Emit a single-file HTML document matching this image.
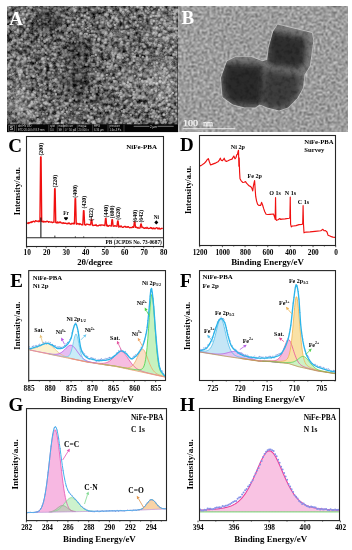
<!DOCTYPE html><html><head><meta charset="utf-8"><style>html,body{margin:0;padding:0;background:#fff;width:352px;height:550px;overflow:hidden}</style></head><body><svg width="352" height="550" viewBox="0 0 352 550" style="display:block">
<defs>
<filter id="semf" filterUnits="userSpaceOnUse" x="7" y="6" width="171" height="126" color-interpolation-filters="sRGB">
 <feTurbulence type="fractalNoise" baseFrequency="0.26" numOctaves="3" seed="11" result="n"/>
 <feColorMatrix in="n" type="matrix" values="0.95 0 0 0 -0.13  0.95 0 0 0 -0.13  0.95 0 0 0 -0.13  0 0 0 0 1"/>
 <feGaussianBlur stdDeviation="0.4"/>
</filter>
<radialGradient id="pg" cx="0.45" cy="0.4" r="0.6"><stop offset="0" stop-color="#e8e8e8"/><stop offset="0.6" stop-color="#a8a8a8" stop-opacity="0.8"/><stop offset="1" stop-color="#666" stop-opacity="0"/></radialGradient>
<filter id="temf" filterUnits="userSpaceOnUse" x="178" y="6" width="170" height="126" color-interpolation-filters="sRGB">
 <feTurbulence type="fractalNoise" baseFrequency="0.5" numOctaves="2" seed="5" result="n"/>
 <feConvolveMatrix order="3" kernelMatrix="1 2 1 2 4 2 1 2 1" divisor="16" edgeMode="duplicate"/>
 <feColorMatrix type="matrix" values="1.0 0 0 0 0.11  1.0 0 0 0 0.11  1.0 0 0 0 0.11  0 0 0 0 1"/>
</filter>
<filter id="temt" filterUnits="userSpaceOnUse" x="178" y="6" width="170" height="126" color-interpolation-filters="sRGB">
 <feTurbulence type="fractalNoise" baseFrequency="0.22" numOctaves="2" seed="9" result="n"/>
 <feColorMatrix in="n" type="matrix" values="0 0 0 0 0  0 0 0 0 0  0 0 0 0 0  -2.0 0 0 0 1.1"/>
 <feGaussianBlur stdDeviation="0.5"/>
</filter>
<filter id="blur08" x="-20%" y="-20%" width="140%" height="140%"><feGaussianBlur stdDeviation="0.7"/></filter>
<filter id="blur25" x="-30%" y="-30%" width="160%" height="160%"><feGaussianBlur stdDeviation="2.5"/></filter>
<filter id="blur3" x="-30%" y="-30%" width="160%" height="160%"><feGaussianBlur stdDeviation="3.2"/></filter>
<filter id="blur6" x="-60%" y="-60%" width="220%" height="220%"><feGaussianBlur stdDeviation="6"/></filter>
<filter id="semblur" filterUnits="userSpaceOnUse" x="0" y="0" width="185" height="135"><feGaussianBlur stdDeviation="0.55"/></filter>
<clipPath id="clipA"><rect x="7" y="6" width="171" height="126"/></clipPath>
<clipPath id="clipB"><rect x="178" y="6" width="170" height="126"/></clipPath>
</defs>
<rect width="352" height="550" fill="#fff"/>
<g font-family='"Liberation Serif", serif'>
<g clip-path="url(#clipA)"><g filter="url(#semblur)">
<rect x="7" y="6" width="171" height="126" fill="#888" filter="url(#semf)"/>
<g fill="url(#pg)"><circle cx="130" cy="124" r="1.2" opacity="0.59"/><circle cx="23" cy="12" r="1.8" opacity="0.47"/><circle cx="85" cy="92" r="1.2" opacity="0.47"/><circle cx="76" cy="75" r="1.2" opacity="0.59"/><circle cx="28" cy="4" r="1.8" opacity="0.35"/><circle cx="91" cy="126" r="1.2" opacity="0.35"/><circle cx="147" cy="134" r="1.5" opacity="0.57"/><circle cx="72" cy="42" r="1.2" opacity="0.35"/><circle cx="57" cy="48" r="2.2" opacity="0.33"/><circle cx="44" cy="132" r="1.2" opacity="0.47"/><circle cx="52" cy="16" r="1.5" opacity="0.75"/><circle cx="155" cy="36" r="1.5" opacity="0.35"/><circle cx="6" cy="104" r="1.2" opacity="0.35"/><circle cx="49" cy="64" r="1.2" opacity="0.35"/><circle cx="175" cy="29" r="1.2" opacity="0.75"/><circle cx="96" cy="128" r="2.2" opacity="0.35"/><circle cx="14" cy="55" r="2.2" opacity="0.32"/><circle cx="43" cy="59" r="2.2" opacity="0.75"/><circle cx="8" cy="110" r="1.8" opacity="0.39"/><circle cx="58" cy="29" r="1.2" opacity="0.59"/><circle cx="43" cy="59" r="2.2" opacity="0.59"/><circle cx="55" cy="91" r="1.5" opacity="0.75"/><circle cx="18" cy="93" r="2.2" opacity="0.47"/><circle cx="39" cy="6" r="1.8" opacity="0.75"/><circle cx="169" cy="8" r="2.2" opacity="0.27"/><circle cx="52" cy="102" r="1.5" opacity="0.47"/><circle cx="56" cy="121" r="1.2" opacity="0.59"/><circle cx="24" cy="88" r="1.8" opacity="0.75"/><circle cx="101" cy="62" r="1.5" opacity="0.59"/><circle cx="8" cy="6" r="1.5" opacity="0.75"/><circle cx="121" cy="11" r="1.5" opacity="0.74"/><circle cx="46" cy="97" r="1.8" opacity="0.35"/><circle cx="160" cy="105" r="2.2" opacity="0.75"/><circle cx="23" cy="20" r="1.8" opacity="0.75"/><circle cx="178" cy="43" r="1.2" opacity="0.59"/><circle cx="15" cy="32" r="1.2" opacity="0.59"/><circle cx="148" cy="53" r="2.2" opacity="0.59"/><circle cx="16" cy="4" r="2.2" opacity="0.34"/><circle cx="15" cy="15" r="1.5" opacity="0.59"/><circle cx="174" cy="38" r="1.5" opacity="0.35"/><circle cx="51" cy="112" r="2.2" opacity="0.47"/><circle cx="115" cy="36" r="2.2" opacity="0.43"/><circle cx="109" cy="78" r="1.8" opacity="0.35"/><circle cx="7" cy="10" r="2.2" opacity="0.35"/><circle cx="10" cy="57" r="2.2" opacity="0.41"/><circle cx="99" cy="94" r="1.2" opacity="0.35"/><circle cx="17" cy="64" r="1.2" opacity="0.48"/><circle cx="26" cy="102" r="1.8" opacity="0.59"/><circle cx="5" cy="103" r="2.2" opacity="0.75"/><circle cx="72" cy="89" r="1.8" opacity="0.47"/><circle cx="117" cy="61" r="2.2" opacity="0.47"/><circle cx="39" cy="123" r="2.2" opacity="0.59"/><circle cx="165" cy="23" r="2.2" opacity="0.47"/><circle cx="102" cy="90" r="1.8" opacity="0.59"/><circle cx="56" cy="18" r="1.8" opacity="0.59"/><circle cx="90" cy="96" r="1.2" opacity="0.35"/><circle cx="64" cy="17" r="1.5" opacity="0.35"/><circle cx="141" cy="75" r="1.8" opacity="0.59"/><circle cx="22" cy="116" r="1.8" opacity="0.35"/><circle cx="56" cy="48" r="2.2" opacity="0.34"/><circle cx="17" cy="13" r="1.2" opacity="0.75"/><circle cx="23" cy="58" r="1.2" opacity="0.58"/><circle cx="119" cy="93" r="1.8" opacity="0.35"/><circle cx="87" cy="17" r="1.2" opacity="0.34"/><circle cx="20" cy="132" r="2.2" opacity="0.26"/><circle cx="53" cy="76" r="2.2" opacity="0.35"/><circle cx="72" cy="86" r="1.8" opacity="0.35"/><circle cx="29" cy="11" r="2.2" opacity="0.59"/><circle cx="83" cy="123" r="1.8" opacity="0.59"/><circle cx="34" cy="86" r="2.2" opacity="0.35"/><circle cx="133" cy="17" r="1.5" opacity="0.47"/><circle cx="34" cy="16" r="2.2" opacity="0.47"/><circle cx="145" cy="67" r="1.8" opacity="0.59"/><circle cx="127" cy="75" r="1.5" opacity="0.35"/><circle cx="64" cy="81" r="2.2" opacity="0.59"/><circle cx="111" cy="12" r="2.2" opacity="0.59"/><circle cx="78" cy="131" r="1.5" opacity="0.35"/><circle cx="5" cy="127" r="2.2" opacity="0.59"/><circle cx="79" cy="113" r="1.8" opacity="0.59"/><circle cx="130" cy="84" r="1.5" opacity="0.75"/><circle cx="119" cy="74" r="2.2" opacity="0.59"/><circle cx="13" cy="74" r="1.2" opacity="0.46"/><circle cx="35" cy="26" r="2.2" opacity="0.31"/><circle cx="72" cy="88" r="1.8" opacity="0.35"/><circle cx="41" cy="35" r="1.8" opacity="0.75"/><circle cx="107" cy="33" r="2.2" opacity="0.35"/><circle cx="161" cy="73" r="2.2" opacity="0.35"/><circle cx="86" cy="29" r="1.5" opacity="0.75"/><circle cx="161" cy="121" r="1.8" opacity="0.35"/><circle cx="9" cy="107" r="2.2" opacity="0.46"/><circle cx="40" cy="13" r="1.2" opacity="0.59"/><circle cx="160" cy="26" r="1.2" opacity="0.75"/><circle cx="15" cy="28" r="2.2" opacity="0.47"/><circle cx="140" cy="19" r="1.5" opacity="0.47"/><circle cx="28" cy="121" r="1.2" opacity="0.59"/><circle cx="85" cy="104" r="1.8" opacity="0.35"/><circle cx="157" cy="123" r="2.2" opacity="0.75"/><circle cx="133" cy="30" r="1.2" opacity="0.46"/><circle cx="149" cy="130" r="1.2" opacity="0.75"/><circle cx="68" cy="23" r="1.2" opacity="0.47"/><circle cx="128" cy="127" r="2.2" opacity="0.59"/><circle cx="132" cy="119" r="1.8" opacity="0.34"/><circle cx="178" cy="98" r="2.2" opacity="0.59"/><circle cx="146" cy="63" r="2.2" opacity="0.47"/><circle cx="74" cy="77" r="1.2" opacity="0.47"/><circle cx="89" cy="18" r="2.2" opacity="0.44"/><circle cx="20" cy="89" r="1.2" opacity="0.59"/><circle cx="76" cy="46" r="1.2" opacity="0.59"/><circle cx="115" cy="105" r="1.2" opacity="0.35"/><circle cx="12" cy="71" r="2.2" opacity="0.59"/><circle cx="31" cy="40" r="1.2" opacity="0.43"/><circle cx="159" cy="112" r="1.2" opacity="0.65"/><circle cx="56" cy="16" r="2.2" opacity="0.35"/><circle cx="178" cy="117" r="1.2" opacity="0.75"/><circle cx="62" cy="112" r="1.2" opacity="0.75"/><circle cx="128" cy="125" r="1.8" opacity="0.59"/><circle cx="51" cy="111" r="1.8" opacity="0.35"/><circle cx="153" cy="78" r="1.5" opacity="0.75"/><circle cx="168" cy="20" r="1.8" opacity="0.35"/><circle cx="59" cy="51" r="1.2" opacity="0.47"/><circle cx="7" cy="23" r="1.2" opacity="0.35"/><circle cx="17" cy="15" r="1.8" opacity="0.75"/><circle cx="120" cy="8" r="1.5" opacity="0.57"/><circle cx="97" cy="134" r="2.2" opacity="0.59"/><circle cx="113" cy="114" r="2.2" opacity="0.59"/><circle cx="154" cy="16" r="1.8" opacity="0.59"/><circle cx="166" cy="48" r="1.2" opacity="0.75"/><circle cx="75" cy="62" r="1.5" opacity="0.75"/><circle cx="68" cy="28" r="1.2" opacity="0.75"/><circle cx="60" cy="29" r="2.2" opacity="0.35"/><circle cx="55" cy="9" r="2.2" opacity="0.47"/><circle cx="126" cy="118" r="1.2" opacity="0.35"/><circle cx="141" cy="44" r="1.8" opacity="0.45"/><circle cx="153" cy="6" r="1.2" opacity="0.59"/><circle cx="88" cy="31" r="1.8" opacity="0.59"/><circle cx="44" cy="63" r="1.2" opacity="0.47"/><circle cx="24" cy="94" r="1.2" opacity="0.35"/><circle cx="140" cy="120" r="1.8" opacity="0.59"/><circle cx="50" cy="26" r="1.2" opacity="0.75"/><circle cx="36" cy="98" r="1.2" opacity="0.59"/><circle cx="87" cy="34" r="1.5" opacity="0.75"/><circle cx="121" cy="17" r="1.8" opacity="0.32"/><circle cx="85" cy="20" r="1.5" opacity="0.52"/><circle cx="69" cy="128" r="1.2" opacity="0.54"/><circle cx="96" cy="50" r="1.5" opacity="0.59"/><circle cx="84" cy="93" r="1.5" opacity="0.47"/><circle cx="164" cy="77" r="1.5" opacity="0.47"/><circle cx="72" cy="88" r="1.5" opacity="0.47"/><circle cx="138" cy="26" r="2.2" opacity="0.47"/><circle cx="158" cy="86" r="1.2" opacity="0.47"/><circle cx="108" cy="108" r="1.8" opacity="0.75"/><circle cx="170" cy="133" r="1.2" opacity="0.47"/><circle cx="111" cy="89" r="1.8" opacity="0.75"/><circle cx="154" cy="83" r="1.5" opacity="0.75"/><circle cx="101" cy="86" r="1.2" opacity="0.75"/><circle cx="37" cy="75" r="1.5" opacity="0.48"/><circle cx="75" cy="122" r="1.8" opacity="0.59"/><circle cx="127" cy="85" r="1.5" opacity="0.59"/><circle cx="146" cy="53" r="1.2" opacity="0.75"/><circle cx="74" cy="131" r="2.2" opacity="0.35"/><circle cx="140" cy="128" r="1.2" opacity="0.47"/><circle cx="93" cy="90" r="1.5" opacity="0.57"/><circle cx="80" cy="109" r="1.5" opacity="0.70"/><circle cx="129" cy="96" r="1.5" opacity="0.35"/><circle cx="55" cy="131" r="2.2" opacity="0.47"/><circle cx="139" cy="65" r="2.2" opacity="0.47"/><circle cx="119" cy="74" r="1.5" opacity="0.35"/><circle cx="90" cy="84" r="1.2" opacity="0.35"/><circle cx="150" cy="12" r="1.5" opacity="0.35"/><circle cx="137" cy="47" r="1.8" opacity="0.42"/><circle cx="175" cy="68" r="1.8" opacity="0.35"/><circle cx="140" cy="80" r="1.2" opacity="0.47"/><circle cx="38" cy="125" r="1.8" opacity="0.47"/><circle cx="147" cy="35" r="2.2" opacity="0.64"/><circle cx="46" cy="58" r="2.2" opacity="0.35"/><circle cx="60" cy="107" r="1.8" opacity="0.47"/><circle cx="170" cy="50" r="1.8" opacity="0.35"/><circle cx="115" cy="66" r="1.8" opacity="0.35"/><circle cx="30" cy="106" r="2.2" opacity="0.59"/><circle cx="139" cy="75" r="1.8" opacity="0.59"/><circle cx="79" cy="4" r="2.2" opacity="0.35"/><circle cx="147" cy="5" r="2.2" opacity="0.47"/><circle cx="164" cy="122" r="1.8" opacity="0.59"/><circle cx="19" cy="59" r="2.2" opacity="0.65"/><circle cx="59" cy="127" r="1.8" opacity="0.35"/><circle cx="48" cy="59" r="1.5" opacity="0.75"/><circle cx="97" cy="92" r="1.8" opacity="0.47"/><circle cx="31" cy="8" r="2.2" opacity="0.75"/><circle cx="7" cy="92" r="1.5" opacity="0.59"/><circle cx="164" cy="38" r="2.2" opacity="0.75"/><circle cx="49" cy="39" r="1.8" opacity="0.75"/><circle cx="121" cy="11" r="1.5" opacity="0.45"/><circle cx="66" cy="93" r="2.2" opacity="0.47"/><circle cx="44" cy="127" r="2.2" opacity="0.47"/><circle cx="83" cy="25" r="1.2" opacity="0.75"/><circle cx="57" cy="131" r="1.8" opacity="0.47"/><circle cx="18" cy="40" r="1.8" opacity="0.35"/><circle cx="135" cy="52" r="1.5" opacity="0.67"/><circle cx="95" cy="52" r="2.2" opacity="0.47"/><circle cx="109" cy="102" r="1.2" opacity="0.59"/><circle cx="159" cy="16" r="2.2" opacity="0.75"/><circle cx="70" cy="55" r="2.2" opacity="0.59"/><circle cx="171" cy="49" r="1.8" opacity="0.59"/><circle cx="91" cy="26" r="1.2" opacity="0.73"/><circle cx="62" cy="15" r="1.8" opacity="0.35"/><circle cx="58" cy="83" r="2.2" opacity="0.47"/><circle cx="88" cy="127" r="1.8" opacity="0.35"/><circle cx="143" cy="97" r="2.2" opacity="0.47"/><circle cx="95" cy="96" r="1.8" opacity="0.35"/><circle cx="153" cy="116" r="2.2" opacity="0.35"/><circle cx="128" cy="33" r="1.5" opacity="0.59"/><circle cx="55" cy="120" r="1.5" opacity="0.47"/><circle cx="111" cy="67" r="2.2" opacity="0.75"/><circle cx="61" cy="38" r="1.8" opacity="0.58"/><circle cx="87" cy="77" r="1.8" opacity="0.35"/><circle cx="145" cy="15" r="2.2" opacity="0.35"/><circle cx="154" cy="132" r="2.2" opacity="0.35"/><circle cx="87" cy="52" r="1.8" opacity="0.35"/><circle cx="153" cy="133" r="1.5" opacity="0.35"/><circle cx="92" cy="122" r="1.8" opacity="0.47"/><circle cx="114" cy="81" r="1.2" opacity="0.75"/><circle cx="24" cy="62" r="2.2" opacity="0.33"/><circle cx="53" cy="4" r="1.5" opacity="0.47"/><circle cx="107" cy="120" r="2.2" opacity="0.53"/><circle cx="24" cy="22" r="1.8" opacity="0.75"/><circle cx="8" cy="22" r="1.8" opacity="0.47"/><circle cx="124" cy="54" r="1.5" opacity="0.58"/><circle cx="108" cy="64" r="2.2" opacity="0.47"/><circle cx="62" cy="50" r="2.2" opacity="0.32"/><circle cx="161" cy="7" r="1.2" opacity="0.47"/><circle cx="122" cy="97" r="1.5" opacity="0.59"/><circle cx="62" cy="121" r="1.2" opacity="0.59"/><circle cx="53" cy="14" r="1.2" opacity="0.35"/><circle cx="123" cy="71" r="2.2" opacity="0.75"/><circle cx="137" cy="49" r="1.8" opacity="0.43"/><circle cx="177" cy="29" r="1.8" opacity="0.59"/><circle cx="11" cy="58" r="2.2" opacity="0.41"/><circle cx="158" cy="46" r="1.5" opacity="0.35"/><circle cx="40" cy="86" r="1.2" opacity="0.59"/><circle cx="142" cy="68" r="2.2" opacity="0.35"/><circle cx="123" cy="45" r="1.2" opacity="0.35"/><circle cx="117" cy="77" r="1.2" opacity="0.35"/><circle cx="88" cy="121" r="1.5" opacity="0.75"/><circle cx="155" cy="95" r="1.2" opacity="0.35"/><circle cx="139" cy="96" r="1.8" opacity="0.47"/><circle cx="69" cy="126" r="1.5" opacity="0.47"/><circle cx="178" cy="131" r="1.5" opacity="0.35"/><circle cx="133" cy="54" r="1.8" opacity="0.66"/><circle cx="41" cy="33" r="2.2" opacity="0.40"/><circle cx="30" cy="123" r="1.8" opacity="0.34"/><circle cx="126" cy="38" r="1.8" opacity="0.47"/><circle cx="139" cy="98" r="1.8" opacity="0.35"/><circle cx="34" cy="92" r="1.8" opacity="0.59"/><circle cx="145" cy="130" r="1.2" opacity="0.35"/><circle cx="96" cy="37" r="1.8" opacity="0.35"/><circle cx="155" cy="127" r="1.5" opacity="0.75"/><circle cx="142" cy="34" r="1.5" opacity="0.42"/><circle cx="152" cy="90" r="1.5" opacity="0.75"/><circle cx="170" cy="10" r="1.5" opacity="0.45"/><circle cx="24" cy="119" r="1.8" opacity="0.35"/><circle cx="180" cy="107" r="2.2" opacity="0.75"/><circle cx="169" cy="76" r="1.8" opacity="0.75"/><circle cx="149" cy="32" r="1.8" opacity="0.35"/><circle cx="164" cy="51" r="1.8" opacity="0.59"/><circle cx="39" cy="129" r="1.8" opacity="0.47"/><circle cx="175" cy="14" r="1.8" opacity="0.28"/><circle cx="28" cy="112" r="1.8" opacity="0.59"/><circle cx="116" cy="19" r="2.2" opacity="0.75"/><circle cx="48" cy="130" r="1.5" opacity="0.47"/><circle cx="175" cy="52" r="1.5" opacity="0.53"/><circle cx="71" cy="64" r="2.2" opacity="0.47"/><circle cx="54" cy="49" r="1.5" opacity="0.75"/><circle cx="148" cy="93" r="2.2" opacity="0.35"/><circle cx="103" cy="76" r="2.2" opacity="0.45"/><circle cx="8" cy="69" r="1.8" opacity="0.59"/><circle cx="32" cy="124" r="1.2" opacity="0.56"/><circle cx="33" cy="17" r="1.8" opacity="0.59"/><circle cx="160" cy="23" r="1.8" opacity="0.47"/><circle cx="115" cy="28" r="1.5" opacity="0.59"/><circle cx="79" cy="87" r="1.5" opacity="0.75"/><circle cx="173" cy="9" r="1.8" opacity="0.37"/><circle cx="5" cy="42" r="2.2" opacity="0.35"/><circle cx="28" cy="61" r="1.5" opacity="0.34"/><circle cx="131" cy="63" r="1.5" opacity="0.35"/><circle cx="100" cy="107" r="2.2" opacity="0.47"/><circle cx="116" cy="124" r="1.2" opacity="0.47"/><circle cx="132" cy="40" r="1.5" opacity="0.29"/><circle cx="23" cy="93" r="2.2" opacity="0.47"/><circle cx="46" cy="103" r="2.2" opacity="0.75"/><circle cx="148" cy="13" r="1.8" opacity="0.59"/><circle cx="48" cy="5" r="1.5" opacity="0.35"/><circle cx="122" cy="111" r="1.2" opacity="0.75"/><circle cx="114" cy="53" r="2.2" opacity="0.47"/><circle cx="64" cy="61" r="1.8" opacity="0.59"/><circle cx="106" cy="33" r="2.2" opacity="0.35"/><circle cx="177" cy="46" r="1.8" opacity="0.37"/><circle cx="98" cy="130" r="1.8" opacity="0.51"/><circle cx="125" cy="84" r="1.2" opacity="0.75"/><circle cx="28" cy="91" r="1.8" opacity="0.47"/><circle cx="7" cy="45" r="1.8" opacity="0.75"/><circle cx="141" cy="48" r="1.5" opacity="0.47"/><circle cx="97" cy="89" r="1.5" opacity="0.54"/><circle cx="80" cy="90" r="1.2" opacity="0.59"/><circle cx="149" cy="80" r="2.2" opacity="0.47"/><circle cx="126" cy="102" r="1.8" opacity="0.47"/><circle cx="96" cy="55" r="1.5" opacity="0.59"/><circle cx="170" cy="119" r="1.2" opacity="0.47"/><circle cx="106" cy="15" r="2.2" opacity="0.69"/><circle cx="99" cy="40" r="2.2" opacity="0.75"/><circle cx="164" cy="109" r="1.2" opacity="0.44"/><circle cx="41" cy="106" r="1.2" opacity="0.47"/><circle cx="30" cy="111" r="1.5" opacity="0.59"/><circle cx="154" cy="126" r="1.2" opacity="0.75"/><circle cx="154" cy="28" r="1.5" opacity="0.59"/><circle cx="48" cy="30" r="1.5" opacity="0.47"/><circle cx="167" cy="78" r="2.2" opacity="0.75"/><circle cx="93" cy="94" r="1.5" opacity="0.59"/><circle cx="98" cy="32" r="2.2" opacity="0.43"/><circle cx="11" cy="87" r="1.8" opacity="0.75"/><circle cx="146" cy="11" r="1.8" opacity="0.75"/><circle cx="58" cy="88" r="1.2" opacity="0.35"/><circle cx="131" cy="30" r="1.8" opacity="0.47"/><circle cx="32" cy="102" r="1.8" opacity="0.47"/><circle cx="76" cy="7" r="1.5" opacity="0.59"/><circle cx="127" cy="55" r="1.5" opacity="0.35"/><circle cx="85" cy="36" r="1.2" opacity="0.47"/><circle cx="173" cy="93" r="1.5" opacity="0.75"/><circle cx="42" cy="60" r="2.2" opacity="0.47"/><circle cx="37" cy="63" r="1.2" opacity="0.54"/><circle cx="53" cy="101" r="1.2" opacity="0.35"/><circle cx="98" cy="104" r="1.8" opacity="0.59"/><circle cx="62" cy="16" r="1.8" opacity="0.75"/><circle cx="166" cy="32" r="1.5" opacity="0.47"/><circle cx="93" cy="119" r="1.2" opacity="0.35"/><circle cx="19" cy="94" r="1.8" opacity="0.75"/><circle cx="57" cy="4" r="1.8" opacity="0.35"/><circle cx="114" cy="88" r="1.8" opacity="0.47"/><circle cx="166" cy="50" r="1.8" opacity="0.35"/><circle cx="101" cy="109" r="1.5" opacity="0.75"/><circle cx="169" cy="85" r="2.2" opacity="0.59"/><circle cx="62" cy="66" r="1.8" opacity="0.59"/><circle cx="94" cy="109" r="1.5" opacity="0.59"/><circle cx="170" cy="109" r="1.2" opacity="0.59"/><circle cx="68" cy="129" r="1.8" opacity="0.69"/><circle cx="143" cy="94" r="2.2" opacity="0.59"/><circle cx="66" cy="87" r="2.2" opacity="0.75"/><circle cx="70" cy="10" r="2.2" opacity="0.35"/><circle cx="146" cy="130" r="1.5" opacity="0.47"/><circle cx="81" cy="86" r="1.5" opacity="0.75"/><circle cx="164" cy="31" r="1.2" opacity="0.35"/><circle cx="98" cy="76" r="2.2" opacity="0.68"/><circle cx="63" cy="9" r="1.2" opacity="0.47"/><circle cx="116" cy="66" r="1.8" opacity="0.59"/><circle cx="152" cy="110" r="1.2" opacity="0.75"/><circle cx="34" cy="123" r="2.2" opacity="0.35"/><circle cx="152" cy="71" r="2.2" opacity="0.47"/><circle cx="66" cy="109" r="1.5" opacity="0.35"/><circle cx="34" cy="104" r="1.2" opacity="0.59"/><circle cx="106" cy="93" r="1.8" opacity="0.47"/><circle cx="39" cy="53" r="2.2" opacity="0.47"/><circle cx="85" cy="102" r="1.2" opacity="0.75"/><circle cx="124" cy="84" r="2.2" opacity="0.75"/><circle cx="19" cy="69" r="2.2" opacity="0.48"/><circle cx="96" cy="45" r="2.2" opacity="0.35"/><circle cx="29" cy="81" r="1.8" opacity="0.35"/><circle cx="32" cy="19" r="1.2" opacity="0.75"/><circle cx="140" cy="120" r="1.8" opacity="0.35"/><circle cx="51" cy="38" r="1.8" opacity="0.59"/><circle cx="131" cy="38" r="2.2" opacity="0.30"/><circle cx="177" cy="76" r="2.2" opacity="0.59"/><circle cx="127" cy="8" r="2.2" opacity="0.35"/><circle cx="169" cy="28" r="1.8" opacity="0.59"/><circle cx="142" cy="103" r="1.5" opacity="0.65"/><circle cx="17" cy="95" r="1.2" opacity="0.75"/><circle cx="157" cy="120" r="1.8" opacity="0.35"/><circle cx="152" cy="9" r="1.8" opacity="0.59"/><circle cx="68" cy="106" r="1.2" opacity="0.47"/><circle cx="39" cy="51" r="1.2" opacity="0.75"/><circle cx="36" cy="104" r="1.2" opacity="0.35"/><circle cx="69" cy="18" r="1.8" opacity="0.47"/><circle cx="175" cy="22" r="1.8" opacity="0.75"/><circle cx="45" cy="31" r="2.2" opacity="0.53"/><circle cx="141" cy="13" r="1.5" opacity="0.35"/><circle cx="98" cy="22" r="1.2" opacity="0.45"/><circle cx="57" cy="120" r="1.5" opacity="0.75"/><circle cx="126" cy="28" r="1.8" opacity="0.47"/><circle cx="144" cy="54" r="1.8" opacity="0.47"/><circle cx="34" cy="9" r="1.5" opacity="0.59"/><circle cx="96" cy="10" r="1.5" opacity="0.24"/><circle cx="74" cy="9" r="1.2" opacity="0.75"/><circle cx="172" cy="118" r="2.2" opacity="0.59"/><circle cx="77" cy="114" r="1.2" opacity="0.59"/><circle cx="93" cy="95" r="1.5" opacity="0.47"/><circle cx="177" cy="85" r="2.2" opacity="0.59"/><circle cx="159" cy="45" r="1.5" opacity="0.75"/><circle cx="127" cy="66" r="1.2" opacity="0.47"/><circle cx="144" cy="38" r="1.2" opacity="0.46"/><circle cx="145" cy="47" r="1.8" opacity="0.59"/><circle cx="114" cy="78" r="1.2" opacity="0.75"/><circle cx="35" cy="134" r="2.2" opacity="0.64"/><circle cx="83" cy="80" r="1.5" opacity="0.46"/><circle cx="37" cy="102" r="1.5" opacity="0.75"/><circle cx="59" cy="114" r="2.2" opacity="0.47"/><circle cx="8" cy="94" r="1.8" opacity="0.35"/><circle cx="28" cy="93" r="1.8" opacity="0.59"/><circle cx="9" cy="10" r="1.8" opacity="0.35"/><circle cx="180" cy="27" r="1.8" opacity="0.47"/><circle cx="63" cy="123" r="1.5" opacity="0.75"/><circle cx="170" cy="91" r="2.2" opacity="0.47"/><circle cx="35" cy="93" r="1.5" opacity="0.75"/><circle cx="56" cy="80" r="2.2" opacity="0.75"/><circle cx="75" cy="98" r="1.8" opacity="0.43"/><circle cx="47" cy="31" r="1.8" opacity="0.35"/><circle cx="134" cy="10" r="2.2" opacity="0.35"/><circle cx="159" cy="106" r="1.2" opacity="0.74"/><circle cx="72" cy="104" r="1.2" opacity="0.34"/><circle cx="62" cy="123" r="1.2" opacity="0.75"/><circle cx="157" cy="111" r="1.5" opacity="0.43"/><circle cx="43" cy="100" r="1.8" opacity="0.75"/><circle cx="179" cy="76" r="1.5" opacity="0.35"/><circle cx="161" cy="118" r="1.5" opacity="0.45"/><circle cx="119" cy="5" r="1.8" opacity="0.57"/><circle cx="104" cy="47" r="2.2" opacity="0.47"/><circle cx="150" cy="45" r="1.2" opacity="0.75"/><circle cx="27" cy="117" r="2.2" opacity="0.35"/><circle cx="83" cy="22" r="1.5" opacity="0.72"/><circle cx="161" cy="100" r="1.8" opacity="0.35"/><circle cx="169" cy="93" r="2.2" opacity="0.35"/><circle cx="102" cy="74" r="1.2" opacity="0.32"/><circle cx="161" cy="63" r="1.5" opacity="0.35"/><circle cx="87" cy="38" r="1.2" opacity="0.47"/><circle cx="7" cy="95" r="1.5" opacity="0.47"/><circle cx="147" cy="67" r="1.2" opacity="0.35"/><circle cx="178" cy="125" r="1.2" opacity="0.35"/><circle cx="88" cy="129" r="1.5" opacity="0.47"/><circle cx="31" cy="86" r="2.2" opacity="0.35"/><circle cx="85" cy="57" r="1.2" opacity="0.35"/><circle cx="63" cy="118" r="1.2" opacity="0.75"/><circle cx="25" cy="49" r="2.2" opacity="0.35"/><circle cx="43" cy="50" r="1.2" opacity="0.75"/><circle cx="8" cy="84" r="2.2" opacity="0.75"/><circle cx="176" cy="111" r="1.8" opacity="0.75"/><circle cx="166" cy="5" r="1.8" opacity="0.29"/><circle cx="70" cy="71" r="1.8" opacity="0.59"/><circle cx="133" cy="121" r="1.8" opacity="0.35"/><circle cx="112" cy="94" r="1.5" opacity="0.47"/><circle cx="63" cy="84" r="2.2" opacity="0.35"/><circle cx="164" cy="115" r="1.8" opacity="0.68"/><circle cx="151" cy="132" r="1.2" opacity="0.59"/><circle cx="121" cy="132" r="1.2" opacity="0.59"/><circle cx="88" cy="23" r="2.2" opacity="0.40"/><circle cx="144" cy="47" r="1.8" opacity="0.47"/><circle cx="177" cy="120" r="2.2" opacity="0.35"/><circle cx="32" cy="102" r="1.8" opacity="0.59"/><circle cx="117" cy="127" r="1.2" opacity="0.47"/><circle cx="25" cy="15" r="2.2" opacity="0.47"/><circle cx="73" cy="99" r="1.5" opacity="0.75"/><circle cx="141" cy="8" r="2.2" opacity="0.47"/><circle cx="15" cy="128" r="1.5" opacity="0.75"/><circle cx="123" cy="82" r="1.8" opacity="0.35"/><circle cx="161" cy="78" r="1.5" opacity="0.35"/><circle cx="111" cy="122" r="1.8" opacity="0.50"/><circle cx="18" cy="43" r="1.5" opacity="0.47"/><circle cx="71" cy="79" r="1.2" opacity="0.75"/><circle cx="23" cy="106" r="1.2" opacity="0.35"/><circle cx="131" cy="22" r="1.2" opacity="0.59"/><circle cx="50" cy="85" r="2.2" opacity="0.47"/><circle cx="41" cy="36" r="1.8" opacity="0.47"/><circle cx="126" cy="10" r="1.8" opacity="0.75"/><circle cx="16" cy="32" r="1.8" opacity="0.47"/><circle cx="72" cy="47" r="2.2" opacity="0.35"/><circle cx="153" cy="118" r="2.2" opacity="0.35"/><circle cx="172" cy="22" r="1.5" opacity="0.35"/><circle cx="26" cy="43" r="2.2" opacity="0.59"/><circle cx="31" cy="46" r="1.8" opacity="0.47"/><circle cx="136" cy="54" r="1.2" opacity="0.45"/><circle cx="55" cy="47" r="1.5" opacity="0.59"/><circle cx="113" cy="55" r="1.8" opacity="0.59"/><circle cx="173" cy="111" r="1.8" opacity="0.47"/><circle cx="111" cy="47" r="1.8" opacity="0.35"/><circle cx="46" cy="48" r="1.5" opacity="0.47"/><circle cx="177" cy="53" r="2.2" opacity="0.63"/><circle cx="22" cy="62" r="2.2" opacity="0.68"/><circle cx="94" cy="81" r="1.5" opacity="0.47"/><circle cx="119" cy="131" r="1.2" opacity="0.47"/><circle cx="68" cy="21" r="1.8" opacity="0.75"/><circle cx="141" cy="122" r="1.2" opacity="0.59"/><circle cx="147" cy="38" r="1.2" opacity="0.40"/><circle cx="136" cy="51" r="1.2" opacity="0.52"/><circle cx="137" cy="20" r="1.2" opacity="0.35"/><circle cx="117" cy="24" r="1.8" opacity="0.35"/><circle cx="166" cy="127" r="1.2" opacity="0.75"/><circle cx="129" cy="4" r="1.2" opacity="0.59"/><circle cx="81" cy="106" r="1.8" opacity="0.68"/><circle cx="78" cy="19" r="1.5" opacity="0.75"/><circle cx="159" cy="90" r="1.2" opacity="0.47"/><circle cx="28" cy="29" r="1.5" opacity="0.37"/><circle cx="24" cy="124" r="2.2" opacity="0.29"/><circle cx="103" cy="41" r="2.2" opacity="0.59"/><circle cx="9" cy="4" r="1.8" opacity="0.35"/><circle cx="65" cy="26" r="2.2" opacity="0.59"/><circle cx="136" cy="58" r="1.5" opacity="0.47"/><circle cx="45" cy="22" r="1.2" opacity="0.75"/><circle cx="123" cy="69" r="1.8" opacity="0.35"/><circle cx="85" cy="118" r="1.2" opacity="0.59"/><circle cx="13" cy="44" r="2.2" opacity="0.47"/><circle cx="18" cy="129" r="1.8" opacity="0.40"/><circle cx="90" cy="35" r="1.2" opacity="0.75"/><circle cx="104" cy="49" r="1.2" opacity="0.59"/><circle cx="151" cy="114" r="1.2" opacity="0.47"/><circle cx="99" cy="122" r="2.2" opacity="0.47"/><circle cx="100" cy="73" r="1.5" opacity="0.31"/><circle cx="62" cy="27" r="1.5" opacity="0.35"/><circle cx="163" cy="65" r="1.5" opacity="0.35"/><circle cx="144" cy="106" r="1.5" opacity="0.41"/><circle cx="172" cy="82" r="1.5" opacity="0.75"/><circle cx="39" cy="42" r="1.8" opacity="0.75"/><circle cx="154" cy="7" r="1.5" opacity="0.35"/><circle cx="118" cy="58" r="2.2" opacity="0.75"/><circle cx="15" cy="41" r="2.2" opacity="0.47"/><circle cx="96" cy="18" r="1.2" opacity="0.65"/><circle cx="23" cy="15" r="2.2" opacity="0.47"/><circle cx="160" cy="99" r="1.2" opacity="0.35"/><circle cx="180" cy="26" r="2.2" opacity="0.47"/><circle cx="66" cy="41" r="1.2" opacity="0.39"/><circle cx="25" cy="26" r="1.2" opacity="0.53"/><circle cx="178" cy="61" r="1.2" opacity="0.47"/><circle cx="95" cy="114" r="1.8" opacity="0.35"/><circle cx="55" cy="26" r="1.5" opacity="0.35"/><circle cx="29" cy="114" r="2.2" opacity="0.75"/><circle cx="143" cy="13" r="1.5" opacity="0.47"/><circle cx="180" cy="19" r="1.8" opacity="0.55"/><circle cx="14" cy="126" r="1.5" opacity="0.47"/><circle cx="10" cy="15" r="2.2" opacity="0.47"/><circle cx="128" cy="59" r="1.5" opacity="0.35"/><circle cx="24" cy="55" r="1.8" opacity="0.47"/><circle cx="130" cy="120" r="2.2" opacity="0.34"/><circle cx="143" cy="44" r="1.2" opacity="0.59"/><circle cx="97" cy="87" r="1.8" opacity="0.51"/><circle cx="56" cy="94" r="1.5" opacity="0.75"/><circle cx="161" cy="132" r="1.2" opacity="0.35"/><circle cx="131" cy="113" r="2.2" opacity="0.32"/><circle cx="166" cy="80" r="1.5" opacity="0.59"/><circle cx="172" cy="58" r="1.8" opacity="0.75"/><circle cx="113" cy="114" r="1.5" opacity="0.75"/><circle cx="9" cy="85" r="1.2" opacity="0.47"/><circle cx="58" cy="129" r="2.2" opacity="0.47"/><circle cx="24" cy="7" r="2.2" opacity="0.35"/><circle cx="80" cy="31" r="1.5" opacity="0.47"/><circle cx="100" cy="5" r="2.2" opacity="0.68"/><circle cx="170" cy="61" r="2.2" opacity="0.33"/><circle cx="27" cy="116" r="1.5" opacity="0.35"/><circle cx="46" cy="12" r="1.2" opacity="0.59"/><circle cx="151" cy="107" r="1.2" opacity="0.59"/><circle cx="20" cy="18" r="1.5" opacity="0.59"/><circle cx="134" cy="132" r="2.2" opacity="0.75"/><circle cx="162" cy="87" r="2.2" opacity="0.35"/><circle cx="36" cy="100" r="1.2" opacity="0.59"/><circle cx="110" cy="69" r="2.2" opacity="0.59"/><circle cx="130" cy="96" r="1.5" opacity="0.47"/><circle cx="20" cy="77" r="1.8" opacity="0.35"/><circle cx="20" cy="79" r="1.2" opacity="0.75"/><circle cx="89" cy="20" r="1.2" opacity="0.42"/><circle cx="114" cy="38" r="1.2" opacity="0.31"/><circle cx="53" cy="11" r="1.8" opacity="0.47"/><circle cx="60" cy="47" r="2.2" opacity="0.46"/><circle cx="165" cy="69" r="2.2" opacity="0.75"/><circle cx="73" cy="90" r="1.8" opacity="0.59"/><circle cx="5" cy="94" r="1.8" opacity="0.35"/><circle cx="98" cy="130" r="1.5" opacity="0.51"/><circle cx="124" cy="90" r="1.5" opacity="0.35"/><circle cx="49" cy="119" r="1.8" opacity="0.75"/><circle cx="42" cy="50" r="2.2" opacity="0.35"/><circle cx="21" cy="39" r="1.5" opacity="0.35"/><circle cx="89" cy="18" r="1.5" opacity="0.71"/><circle cx="175" cy="35" r="1.8" opacity="0.47"/><circle cx="168" cy="126" r="1.5" opacity="0.59"/><circle cx="151" cy="22" r="1.5" opacity="0.47"/><circle cx="134" cy="117" r="1.8" opacity="0.35"/><circle cx="30" cy="124" r="1.8" opacity="0.55"/><circle cx="60" cy="31" r="1.2" opacity="0.59"/><circle cx="89" cy="61" r="1.8" opacity="0.59"/><circle cx="131" cy="26" r="1.5" opacity="0.35"/><circle cx="161" cy="8" r="1.8" opacity="0.75"/><circle cx="160" cy="69" r="1.5" opacity="0.35"/><circle cx="83" cy="48" r="1.2" opacity="0.35"/><circle cx="76" cy="63" r="1.5" opacity="0.47"/><circle cx="68" cy="48" r="1.5" opacity="0.47"/><circle cx="99" cy="39" r="2.2" opacity="0.59"/><circle cx="127" cy="50" r="1.5" opacity="0.62"/><circle cx="137" cy="94" r="2.2" opacity="0.35"/><circle cx="130" cy="15" r="1.2" opacity="0.35"/><circle cx="96" cy="110" r="2.2" opacity="0.59"/><circle cx="43" cy="49" r="1.2" opacity="0.59"/><circle cx="47" cy="29" r="2.2" opacity="0.44"/><circle cx="112" cy="108" r="1.2" opacity="0.59"/><circle cx="44" cy="62" r="2.2" opacity="0.47"/><circle cx="173" cy="47" r="1.5" opacity="0.75"/><circle cx="160" cy="53" r="1.2" opacity="0.47"/><circle cx="79" cy="18" r="1.5" opacity="0.35"/><circle cx="147" cy="82" r="2.2" opacity="0.75"/><circle cx="91" cy="29" r="1.5" opacity="0.47"/><circle cx="102" cy="76" r="2.2" opacity="0.54"/><circle cx="45" cy="70" r="2.2" opacity="0.47"/><circle cx="6" cy="26" r="1.2" opacity="0.75"/><circle cx="145" cy="81" r="1.5" opacity="0.47"/><circle cx="27" cy="95" r="2.2" opacity="0.35"/><circle cx="21" cy="49" r="1.5" opacity="0.75"/><circle cx="98" cy="79" r="2.2" opacity="0.31"/><circle cx="173" cy="93" r="1.2" opacity="0.59"/><circle cx="132" cy="15" r="1.2" opacity="0.47"/><circle cx="91" cy="118" r="2.2" opacity="0.59"/><circle cx="131" cy="105" r="1.8" opacity="0.31"/><circle cx="122" cy="78" r="1.8" opacity="0.47"/><circle cx="31" cy="71" r="1.5" opacity="0.36"/><circle cx="142" cy="8" r="2.2" opacity="0.59"/><circle cx="162" cy="123" r="1.5" opacity="0.47"/><circle cx="134" cy="95" r="2.2" opacity="0.75"/><circle cx="46" cy="53" r="1.5" opacity="0.59"/><circle cx="70" cy="101" r="1.5" opacity="0.75"/><circle cx="55" cy="44" r="2.2" opacity="0.67"/><circle cx="132" cy="78" r="2.2" opacity="0.35"/><circle cx="110" cy="65" r="1.2" opacity="0.35"/><circle cx="168" cy="132" r="1.8" opacity="0.59"/><circle cx="108" cy="25" r="1.5" opacity="0.75"/><circle cx="160" cy="81" r="1.2" opacity="0.47"/><circle cx="22" cy="110" r="2.2" opacity="0.59"/><circle cx="19" cy="62" r="2.2" opacity="0.29"/><circle cx="135" cy="124" r="1.2" opacity="0.75"/><circle cx="101" cy="95" r="1.8" opacity="0.59"/><circle cx="112" cy="53" r="1.8" opacity="0.59"/><circle cx="149" cy="6" r="1.8" opacity="0.59"/><circle cx="65" cy="30" r="1.2" opacity="0.35"/><circle cx="132" cy="104" r="1.8" opacity="0.72"/><circle cx="45" cy="42" r="1.2" opacity="0.75"/><circle cx="147" cy="71" r="1.2" opacity="0.31"/><circle cx="67" cy="18" r="2.2" opacity="0.75"/><circle cx="84" cy="24" r="1.8" opacity="0.53"/><circle cx="164" cy="101" r="1.2" opacity="0.47"/><circle cx="115" cy="54" r="1.5" opacity="0.47"/><circle cx="61" cy="72" r="1.8" opacity="0.75"/><circle cx="70" cy="112" r="1.2" opacity="0.35"/><circle cx="16" cy="132" r="1.8" opacity="0.59"/><circle cx="151" cy="17" r="1.8" opacity="0.75"/><circle cx="94" cy="44" r="1.2" opacity="0.59"/><circle cx="84" cy="118" r="1.5" opacity="0.35"/><circle cx="117" cy="108" r="1.5" opacity="0.35"/><circle cx="169" cy="94" r="1.2" opacity="0.35"/><circle cx="104" cy="19" r="2.2" opacity="0.52"/><circle cx="154" cy="29" r="1.8" opacity="0.35"/><circle cx="36" cy="113" r="1.2" opacity="0.75"/><circle cx="161" cy="74" r="1.2" opacity="0.47"/><circle cx="167" cy="114" r="1.2" opacity="0.75"/><circle cx="52" cy="108" r="1.8" opacity="0.47"/><circle cx="164" cy="115" r="2.2" opacity="0.52"/><circle cx="69" cy="60" r="1.5" opacity="0.35"/><circle cx="164" cy="130" r="2.2" opacity="0.35"/><circle cx="13" cy="6" r="1.8" opacity="0.35"/><circle cx="164" cy="31" r="1.5" opacity="0.35"/><circle cx="153" cy="116" r="1.5" opacity="0.59"/><circle cx="40" cy="10" r="1.5" opacity="0.75"/><circle cx="32" cy="16" r="1.8" opacity="0.35"/><circle cx="118" cy="22" r="1.8" opacity="0.59"/><circle cx="38" cy="110" r="1.2" opacity="0.47"/><circle cx="64" cy="91" r="1.5" opacity="0.35"/><circle cx="74" cy="7" r="1.2" opacity="0.75"/><circle cx="57" cy="110" r="2.2" opacity="0.35"/><circle cx="44" cy="95" r="1.2" opacity="0.47"/><circle cx="140" cy="82" r="1.2" opacity="0.35"/><circle cx="6" cy="76" r="1.2" opacity="0.35"/><circle cx="77" cy="22" r="1.8" opacity="0.47"/><circle cx="147" cy="64" r="1.2" opacity="0.47"/><circle cx="134" cy="61" r="1.8" opacity="0.75"/><circle cx="168" cy="24" r="2.2" opacity="0.35"/><circle cx="83" cy="27" r="1.5" opacity="0.35"/><circle cx="34" cy="61" r="2.2" opacity="0.44"/><circle cx="134" cy="98" r="2.2" opacity="0.75"/><circle cx="139" cy="130" r="1.5" opacity="0.75"/><circle cx="87" cy="65" r="1.2" opacity="0.58"/><circle cx="96" cy="37" r="1.8" opacity="0.47"/><circle cx="152" cy="80" r="2.2" opacity="0.47"/><circle cx="94" cy="64" r="1.5" opacity="0.46"/><circle cx="46" cy="132" r="1.5" opacity="0.59"/><circle cx="45" cy="133" r="1.8" opacity="0.47"/><circle cx="174" cy="17" r="1.2" opacity="0.51"/><circle cx="42" cy="38" r="1.2" opacity="0.47"/><circle cx="97" cy="79" r="2.2" opacity="0.42"/><circle cx="76" cy="78" r="2.2" opacity="0.35"/><circle cx="82" cy="91" r="2.2" opacity="0.47"/><circle cx="40" cy="46" r="1.5" opacity="0.59"/><circle cx="48" cy="7" r="2.2" opacity="0.47"/><circle cx="96" cy="86" r="1.8" opacity="0.49"/><circle cx="136" cy="51" r="1.2" opacity="0.53"/><circle cx="27" cy="8" r="1.2" opacity="0.59"/><circle cx="130" cy="72" r="2.2" opacity="0.59"/><circle cx="137" cy="65" r="1.5" opacity="0.59"/><circle cx="81" cy="86" r="1.5" opacity="0.59"/><circle cx="44" cy="11" r="2.2" opacity="0.59"/><circle cx="150" cy="84" r="2.2" opacity="0.59"/><circle cx="140" cy="55" r="1.2" opacity="0.47"/><circle cx="25" cy="61" r="1.5" opacity="0.35"/><circle cx="116" cy="39" r="2.2" opacity="0.32"/><circle cx="163" cy="10" r="2.2" opacity="0.73"/><circle cx="24" cy="105" r="1.5" opacity="0.47"/><circle cx="135" cy="101" r="1.5" opacity="0.59"/><circle cx="32" cy="104" r="2.2" opacity="0.75"/><circle cx="115" cy="25" r="1.5" opacity="0.75"/><circle cx="177" cy="11" r="2.2" opacity="0.48"/><circle cx="168" cy="132" r="1.5" opacity="0.59"/><circle cx="131" cy="36" r="1.8" opacity="0.52"/><circle cx="123" cy="13" r="2.2" opacity="0.57"/><circle cx="41" cy="11" r="1.8" opacity="0.47"/><circle cx="35" cy="96" r="1.5" opacity="0.47"/><circle cx="33" cy="115" r="1.8" opacity="0.47"/><circle cx="70" cy="73" r="1.2" opacity="0.47"/><circle cx="140" cy="97" r="2.2" opacity="0.59"/><circle cx="89" cy="111" r="1.8" opacity="0.47"/><circle cx="120" cy="95" r="1.2" opacity="0.75"/><circle cx="40" cy="48" r="2.2" opacity="0.47"/><circle cx="45" cy="84" r="1.8" opacity="0.75"/><circle cx="134" cy="120" r="2.2" opacity="0.47"/><circle cx="175" cy="108" r="2.2" opacity="0.59"/><circle cx="92" cy="106" r="1.5" opacity="0.47"/><circle cx="93" cy="66" r="1.5" opacity="0.33"/><circle cx="54" cy="36" r="1.8" opacity="0.75"/><circle cx="57" cy="127" r="1.8" opacity="0.47"/><circle cx="22" cy="86" r="1.5" opacity="0.35"/><circle cx="75" cy="18" r="1.5" opacity="0.59"/><circle cx="47" cy="40" r="2.2" opacity="0.59"/><circle cx="117" cy="69" r="1.8" opacity="0.35"/><circle cx="145" cy="130" r="1.5" opacity="0.35"/><circle cx="84" cy="117" r="1.8" opacity="0.47"/><circle cx="127" cy="26" r="1.8" opacity="0.35"/><circle cx="38" cy="81" r="1.2" opacity="0.75"/><circle cx="78" cy="129" r="2.2" opacity="0.59"/><circle cx="168" cy="87" r="1.5" opacity="0.59"/><circle cx="78" cy="125" r="2.2" opacity="0.47"/><circle cx="55" cy="55" r="1.8" opacity="0.75"/><circle cx="93" cy="130" r="1.8" opacity="0.75"/><circle cx="139" cy="67" r="1.2" opacity="0.47"/><circle cx="130" cy="128" r="1.8" opacity="0.75"/><circle cx="112" cy="9" r="1.8" opacity="0.35"/><circle cx="46" cy="89" r="1.2" opacity="0.59"/><circle cx="99" cy="44" r="1.5" opacity="0.35"/><circle cx="110" cy="27" r="1.8" opacity="0.47"/><circle cx="143" cy="57" r="1.5" opacity="0.75"/><circle cx="134" cy="24" r="1.5" opacity="0.47"/><circle cx="60" cy="58" r="2.2" opacity="0.35"/><circle cx="35" cy="51" r="2.2" opacity="0.75"/><circle cx="44" cy="119" r="1.8" opacity="0.75"/><circle cx="157" cy="21" r="1.2" opacity="0.59"/><circle cx="50" cy="89" r="1.8" opacity="0.47"/><circle cx="10" cy="75" r="1.2" opacity="0.59"/><circle cx="154" cy="33" r="1.5" opacity="0.75"/><circle cx="31" cy="55" r="1.2" opacity="0.47"/><circle cx="157" cy="52" r="2.2" opacity="0.47"/><circle cx="73" cy="25" r="1.8" opacity="0.35"/><circle cx="70" cy="100" r="1.2" opacity="0.75"/><circle cx="116" cy="50" r="1.2" opacity="0.35"/><circle cx="66" cy="51" r="2.2" opacity="0.59"/><circle cx="174" cy="37" r="1.5" opacity="0.47"/><circle cx="129" cy="34" r="2.2" opacity="0.59"/><circle cx="8" cy="58" r="1.8" opacity="0.68"/><circle cx="156" cy="103" r="1.2" opacity="0.35"/><circle cx="153" cy="13" r="1.8" opacity="0.75"/><circle cx="110" cy="61" r="1.8" opacity="0.59"/><circle cx="167" cy="101" r="1.8" opacity="0.75"/><circle cx="75" cy="42" r="1.5" opacity="0.75"/><circle cx="8" cy="126" r="1.5" opacity="0.59"/><circle cx="42" cy="39" r="1.5" opacity="0.35"/><circle cx="19" cy="59" r="1.5" opacity="0.64"/><circle cx="112" cy="13" r="1.2" opacity="0.35"/><circle cx="67" cy="44" r="1.2" opacity="0.43"/><circle cx="68" cy="31" r="2.2" opacity="0.59"/><circle cx="151" cy="103" r="1.2" opacity="0.35"/><circle cx="85" cy="37" r="1.5" opacity="0.59"/><circle cx="98" cy="65" r="1.2" opacity="0.59"/><circle cx="165" cy="120" r="1.5" opacity="0.75"/><circle cx="94" cy="35" r="1.8" opacity="0.35"/><circle cx="109" cy="127" r="1.5" opacity="0.55"/><circle cx="28" cy="14" r="2.2" opacity="0.59"/><circle cx="28" cy="44" r="1.5" opacity="0.75"/><circle cx="24" cy="114" r="1.2" opacity="0.59"/><circle cx="22" cy="72" r="1.5" opacity="0.73"/><circle cx="29" cy="6" r="2.2" opacity="0.59"/><circle cx="48" cy="11" r="1.8" opacity="0.59"/><circle cx="92" cy="35" r="1.5" opacity="0.35"/><circle cx="39" cy="124" r="1.5" opacity="0.47"/><circle cx="117" cy="84" r="2.2" opacity="0.47"/><circle cx="13" cy="41" r="1.2" opacity="0.75"/><circle cx="177" cy="11" r="2.2" opacity="0.64"/><circle cx="53" cy="54" r="2.2" opacity="0.47"/><circle cx="120" cy="34" r="1.5" opacity="0.35"/><circle cx="94" cy="108" r="1.8" opacity="0.75"/><circle cx="178" cy="78" r="1.5" opacity="0.35"/><circle cx="8" cy="50" r="1.8" opacity="0.34"/><circle cx="28" cy="66" r="1.5" opacity="0.47"/><circle cx="92" cy="98" r="1.5" opacity="0.59"/><circle cx="86" cy="89" r="2.2" opacity="0.35"/><circle cx="17" cy="23" r="1.2" opacity="0.47"/><circle cx="165" cy="82" r="2.2" opacity="0.47"/><circle cx="137" cy="7" r="2.2" opacity="0.35"/><circle cx="166" cy="57" r="1.2" opacity="0.75"/><circle cx="124" cy="124" r="1.2" opacity="0.47"/><circle cx="72" cy="124" r="1.5" opacity="0.35"/><circle cx="89" cy="117" r="1.5" opacity="0.35"/><circle cx="40" cy="31" r="2.2" opacity="0.36"/><circle cx="53" cy="20" r="2.2" opacity="0.59"/><circle cx="68" cy="104" r="1.8" opacity="0.59"/><circle cx="62" cy="38" r="1.8" opacity="0.36"/><circle cx="88" cy="116" r="1.8" opacity="0.75"/><circle cx="54" cy="51" r="1.2" opacity="0.47"/><circle cx="164" cy="21" r="1.8" opacity="0.35"/><circle cx="60" cy="114" r="1.5" opacity="0.35"/><circle cx="25" cy="121" r="1.8" opacity="0.35"/><circle cx="27" cy="77" r="1.2" opacity="0.75"/><circle cx="127" cy="110" r="2.2" opacity="0.46"/><circle cx="135" cy="19" r="1.5" opacity="0.35"/><circle cx="44" cy="78" r="1.8" opacity="0.35"/><circle cx="107" cy="78" r="1.2" opacity="0.75"/><circle cx="130" cy="21" r="1.5" opacity="0.47"/><circle cx="92" cy="88" r="1.2" opacity="0.34"/><circle cx="44" cy="30" r="1.8" opacity="0.66"/><circle cx="21" cy="12" r="1.2" opacity="0.59"/><circle cx="14" cy="38" r="1.2" opacity="0.35"/><circle cx="167" cy="38" r="2.2" opacity="0.59"/><circle cx="38" cy="77" r="1.5" opacity="0.41"/><circle cx="24" cy="89" r="2.2" opacity="0.75"/><circle cx="25" cy="130" r="2.2" opacity="0.39"/><circle cx="158" cy="49" r="1.2" opacity="0.59"/><circle cx="59" cy="86" r="1.2" opacity="0.35"/><circle cx="166" cy="130" r="1.2" opacity="0.35"/><circle cx="157" cy="33" r="1.8" opacity="0.35"/><circle cx="27" cy="30" r="2.2" opacity="0.46"/><circle cx="38" cy="46" r="1.8" opacity="0.75"/><circle cx="135" cy="57" r="1.5" opacity="0.73"/><circle cx="27" cy="69" r="1.2" opacity="0.60"/><circle cx="111" cy="34" r="2.2" opacity="0.75"/><circle cx="92" cy="64" r="1.8" opacity="0.55"/><circle cx="118" cy="15" r="1.2" opacity="0.35"/><circle cx="62" cy="38" r="2.2" opacity="0.27"/><circle cx="113" cy="94" r="1.2" opacity="0.47"/><circle cx="18" cy="32" r="2.2" opacity="0.59"/><circle cx="172" cy="128" r="1.5" opacity="0.35"/><circle cx="145" cy="76" r="2.2" opacity="0.35"/><circle cx="112" cy="119" r="1.8" opacity="0.53"/><circle cx="135" cy="44" r="2.2" opacity="0.34"/><circle cx="141" cy="51" r="2.2" opacity="0.35"/><circle cx="137" cy="6" r="1.8" opacity="0.35"/><circle cx="147" cy="111" r="1.8" opacity="0.56"/><circle cx="12" cy="61" r="2.2" opacity="0.68"/><circle cx="24" cy="23" r="1.8" opacity="0.75"/><circle cx="143" cy="120" r="1.2" opacity="0.47"/><circle cx="158" cy="118" r="1.2" opacity="0.47"/><circle cx="177" cy="57" r="1.5" opacity="0.52"/><circle cx="176" cy="55" r="1.8" opacity="0.53"/><circle cx="44" cy="29" r="1.5" opacity="0.66"/><circle cx="40" cy="20" r="1.5" opacity="0.75"/><circle cx="149" cy="102" r="1.2" opacity="0.47"/><circle cx="107" cy="75" r="1.2" opacity="0.75"/><circle cx="113" cy="17" r="1.2" opacity="0.35"/><circle cx="54" cy="101" r="1.5" opacity="0.75"/><circle cx="91" cy="126" r="1.2" opacity="0.47"/><circle cx="8" cy="26" r="1.5" opacity="0.75"/><circle cx="22" cy="8" r="1.8" opacity="0.35"/><circle cx="25" cy="11" r="1.8" opacity="0.35"/><circle cx="110" cy="64" r="1.2" opacity="0.59"/><circle cx="72" cy="33" r="1.8" opacity="0.59"/><circle cx="55" cy="9" r="2.2" opacity="0.35"/><circle cx="111" cy="26" r="1.2" opacity="0.47"/><circle cx="178" cy="38" r="1.5" opacity="0.48"/><circle cx="82" cy="130" r="1.2" opacity="0.75"/><circle cx="122" cy="42" r="1.5" opacity="0.75"/><circle cx="39" cy="132" r="1.5" opacity="0.47"/><circle cx="135" cy="14" r="1.8" opacity="0.59"/><circle cx="146" cy="111" r="1.8" opacity="0.33"/><circle cx="71" cy="53" r="1.5" opacity="0.47"/><circle cx="82" cy="50" r="1.8" opacity="0.35"/><circle cx="24" cy="4" r="2.2" opacity="0.69"/><circle cx="18" cy="13" r="1.8" opacity="0.75"/><circle cx="158" cy="130" r="1.2" opacity="0.59"/><circle cx="122" cy="107" r="1.8" opacity="0.47"/><circle cx="61" cy="109" r="1.8" opacity="0.59"/><circle cx="62" cy="86" r="1.2" opacity="0.47"/><circle cx="93" cy="74" r="1.5" opacity="0.35"/><circle cx="165" cy="21" r="1.2" opacity="0.75"/><circle cx="107" cy="70" r="1.8" opacity="0.35"/><circle cx="103" cy="46" r="2.2" opacity="0.35"/><circle cx="47" cy="22" r="1.5" opacity="0.75"/><circle cx="156" cy="16" r="1.5" opacity="0.75"/><circle cx="140" cy="70" r="1.2" opacity="0.47"/><circle cx="28" cy="29" r="1.2" opacity="0.48"/><circle cx="41" cy="90" r="1.8" opacity="0.75"/><circle cx="15" cy="57" r="1.2" opacity="0.50"/><circle cx="121" cy="123" r="1.8" opacity="0.59"/><circle cx="59" cy="15" r="2.2" opacity="0.47"/><circle cx="12" cy="98" r="1.5" opacity="0.75"/><circle cx="169" cy="110" r="1.2" opacity="0.59"/><circle cx="34" cy="116" r="1.5" opacity="0.59"/><circle cx="64" cy="20" r="1.8" opacity="0.75"/><circle cx="167" cy="109" r="2.2" opacity="0.35"/><circle cx="12" cy="128" r="1.5" opacity="0.75"/><circle cx="159" cy="36" r="1.8" opacity="0.75"/><circle cx="155" cy="7" r="1.5" opacity="0.75"/><circle cx="152" cy="117" r="1.5" opacity="0.75"/><circle cx="81" cy="67" r="1.2" opacity="0.35"/><circle cx="130" cy="64" r="1.8" opacity="0.75"/><circle cx="8" cy="28" r="1.5" opacity="0.59"/><circle cx="91" cy="74" r="1.8" opacity="0.59"/><circle cx="44" cy="125" r="1.5" opacity="0.47"/><circle cx="162" cy="93" r="2.2" opacity="0.59"/><circle cx="149" cy="109" r="1.5" opacity="0.47"/><circle cx="93" cy="49" r="1.8" opacity="0.35"/><circle cx="10" cy="63" r="1.8" opacity="0.47"/><circle cx="27" cy="15" r="1.8" opacity="0.75"/><circle cx="106" cy="96" r="1.5" opacity="0.47"/><circle cx="128" cy="82" r="1.5" opacity="0.75"/><circle cx="73" cy="39" r="1.8" opacity="0.59"/><circle cx="157" cy="64" r="1.5" opacity="0.35"/><circle cx="11" cy="78" r="1.2" opacity="0.34"/><circle cx="100" cy="88" r="1.2" opacity="0.35"/><circle cx="166" cy="122" r="1.2" opacity="0.59"/><circle cx="121" cy="93" r="1.8" opacity="0.75"/><circle cx="76" cy="109" r="1.8" opacity="0.30"/><circle cx="161" cy="46" r="1.8" opacity="0.75"/><circle cx="128" cy="14" r="1.2" opacity="0.35"/><circle cx="75" cy="11" r="2.2" opacity="0.75"/><circle cx="102" cy="23" r="2.2" opacity="0.56"/><circle cx="108" cy="84" r="2.2" opacity="0.35"/><circle cx="73" cy="129" r="2.2" opacity="0.47"/><circle cx="17" cy="106" r="2.2" opacity="0.59"/><circle cx="11" cy="22" r="1.5" opacity="0.35"/><circle cx="73" cy="25" r="1.8" opacity="0.75"/><circle cx="86" cy="65" r="1.2" opacity="0.75"/><circle cx="107" cy="75" r="1.2" opacity="0.59"/><circle cx="167" cy="92" r="1.2" opacity="0.47"/><circle cx="119" cy="56" r="2.2" opacity="0.47"/><circle cx="147" cy="82" r="1.2" opacity="0.35"/><circle cx="71" cy="110" r="1.5" opacity="0.74"/><circle cx="75" cy="29" r="1.2" opacity="0.59"/><circle cx="9" cy="92" r="1.8" opacity="0.59"/><circle cx="134" cy="57" r="1.8" opacity="0.72"/><circle cx="171" cy="50" r="1.8" opacity="0.59"/><circle cx="126" cy="46" r="1.5" opacity="0.54"/><circle cx="40" cy="37" r="1.5" opacity="0.47"/><circle cx="40" cy="24" r="1.8" opacity="0.74"/><circle cx="31" cy="112" r="1.5" opacity="0.75"/><circle cx="88" cy="128" r="1.5" opacity="0.35"/><circle cx="157" cy="84" r="1.8" opacity="0.59"/><circle cx="170" cy="58" r="2.2" opacity="0.58"/><circle cx="128" cy="49" r="1.8" opacity="0.47"/><circle cx="123" cy="58" r="1.5" opacity="0.75"/><circle cx="138" cy="26" r="1.2" opacity="0.59"/><circle cx="176" cy="32" r="1.2" opacity="0.59"/><circle cx="66" cy="128" r="2.2" opacity="0.73"/><circle cx="64" cy="16" r="1.8" opacity="0.59"/><circle cx="128" cy="124" r="1.5" opacity="0.59"/><circle cx="155" cy="131" r="1.8" opacity="0.35"/><circle cx="103" cy="101" r="1.8" opacity="0.59"/><circle cx="103" cy="84" r="1.8" opacity="0.47"/><circle cx="78" cy="7" r="1.2" opacity="0.47"/><circle cx="131" cy="105" r="1.8" opacity="0.52"/><circle cx="65" cy="57" r="1.2" opacity="0.47"/><circle cx="109" cy="84" r="1.8" opacity="0.59"/><circle cx="128" cy="121" r="2.2" opacity="0.59"/><circle cx="157" cy="33" r="1.2" opacity="0.35"/><circle cx="29" cy="94" r="1.2" opacity="0.47"/><circle cx="67" cy="55" r="2.2" opacity="0.59"/><circle cx="115" cy="25" r="1.5" opacity="0.35"/><circle cx="94" cy="123" r="2.2" opacity="0.75"/><circle cx="104" cy="95" r="1.8" opacity="0.47"/><circle cx="117" cy="89" r="2.2" opacity="0.47"/><circle cx="52" cy="26" r="1.8" opacity="0.47"/><circle cx="173" cy="42" r="1.5" opacity="0.75"/><circle cx="10" cy="15" r="1.8" opacity="0.35"/><circle cx="111" cy="21" r="1.8" opacity="0.47"/><circle cx="113" cy="18" r="2.2" opacity="0.75"/><circle cx="39" cy="84" r="1.2" opacity="0.59"/><circle cx="77" cy="20" r="1.2" opacity="0.47"/><circle cx="153" cy="28" r="1.2" opacity="0.35"/><circle cx="120" cy="58" r="2.2" opacity="0.75"/><circle cx="56" cy="95" r="1.5" opacity="0.59"/><circle cx="38" cy="30" r="1.8" opacity="0.35"/><circle cx="13" cy="4" r="1.5" opacity="0.73"/><circle cx="165" cy="55" r="1.2" opacity="0.35"/><circle cx="61" cy="10" r="1.2" opacity="0.59"/><circle cx="157" cy="63" r="1.5" opacity="0.35"/><circle cx="70" cy="28" r="2.2" opacity="0.35"/><circle cx="180" cy="18" r="1.2" opacity="0.40"/><circle cx="121" cy="91" r="1.2" opacity="0.59"/><circle cx="48" cy="8" r="1.2" opacity="0.75"/><circle cx="126" cy="121" r="2.2" opacity="0.35"/><circle cx="172" cy="94" r="1.5" opacity="0.47"/><circle cx="135" cy="76" r="1.2" opacity="0.75"/><circle cx="58" cy="108" r="1.8" opacity="0.75"/><circle cx="128" cy="86" r="1.8" opacity="0.47"/><circle cx="156" cy="40" r="1.5" opacity="0.47"/><circle cx="121" cy="99" r="2.2" opacity="0.47"/><circle cx="170" cy="77" r="1.2" opacity="0.59"/><circle cx="147" cy="40" r="1.8" opacity="0.43"/><circle cx="95" cy="40" r="1.2" opacity="0.75"/><circle cx="9" cy="27" r="2.2" opacity="0.47"/><circle cx="150" cy="117" r="1.8" opacity="0.59"/><circle cx="62" cy="89" r="1.8" opacity="0.59"/><circle cx="57" cy="15" r="1.5" opacity="0.59"/><circle cx="112" cy="65" r="1.5" opacity="0.59"/><circle cx="46" cy="104" r="2.2" opacity="0.75"/><circle cx="125" cy="87" r="1.8" opacity="0.35"/><circle cx="40" cy="122" r="1.5" opacity="0.47"/><circle cx="70" cy="72" r="2.2" opacity="0.47"/><circle cx="94" cy="50" r="1.5" opacity="0.35"/><circle cx="48" cy="129" r="1.8" opacity="0.47"/><circle cx="94" cy="131" r="1.8" opacity="0.47"/><circle cx="135" cy="57" r="1.2" opacity="0.73"/><circle cx="178" cy="10" r="1.5" opacity="0.65"/><circle cx="127" cy="101" r="1.8" opacity="0.59"/><circle cx="95" cy="124" r="1.5" opacity="0.59"/><circle cx="63" cy="26" r="1.2" opacity="0.35"/><circle cx="126" cy="19" r="1.8" opacity="0.54"/><circle cx="140" cy="56" r="1.5" opacity="0.59"/><circle cx="106" cy="111" r="1.2" opacity="0.75"/><circle cx="31" cy="117" r="1.8" opacity="0.47"/><circle cx="52" cy="130" r="1.2" opacity="0.47"/><circle cx="62" cy="122" r="1.5" opacity="0.47"/><circle cx="128" cy="52" r="1.8" opacity="0.39"/><circle cx="105" cy="61" r="1.2" opacity="0.75"/><circle cx="57" cy="116" r="2.2" opacity="0.75"/><circle cx="9" cy="65" r="1.2" opacity="0.59"/><circle cx="81" cy="52" r="1.8" opacity="0.35"/><circle cx="17" cy="18" r="1.8" opacity="0.47"/><circle cx="57" cy="104" r="1.8" opacity="0.47"/><circle cx="154" cy="113" r="2.2" opacity="0.35"/><circle cx="40" cy="79" r="2.2" opacity="0.35"/><circle cx="153" cy="34" r="1.8" opacity="0.59"/><circle cx="132" cy="63" r="1.8" opacity="0.47"/><circle cx="87" cy="6" r="1.2" opacity="0.25"/><circle cx="19" cy="129" r="1.2" opacity="0.45"/><circle cx="162" cy="20" r="2.2" opacity="0.59"/><circle cx="152" cy="64" r="1.2" opacity="0.59"/><circle cx="131" cy="125" r="1.5" opacity="0.75"/><circle cx="157" cy="16" r="1.2" opacity="0.59"/><circle cx="19" cy="75" r="1.5" opacity="0.47"/><circle cx="157" cy="63" r="1.8" opacity="0.59"/><circle cx="179" cy="116" r="1.8" opacity="0.59"/><circle cx="33" cy="77" r="1.5" opacity="0.59"/><circle cx="124" cy="31" r="1.2" opacity="0.59"/><circle cx="8" cy="30" r="1.5" opacity="0.47"/><circle cx="121" cy="43" r="1.2" opacity="0.47"/><circle cx="150" cy="39" r="1.2" opacity="0.34"/><circle cx="147" cy="109" r="2.2" opacity="0.75"/><circle cx="33" cy="111" r="1.8" opacity="0.47"/><circle cx="138" cy="7" r="2.2" opacity="0.75"/><circle cx="20" cy="75" r="1.8" opacity="0.75"/><circle cx="94" cy="56" r="1.5" opacity="0.59"/><circle cx="132" cy="90" r="1.5" opacity="0.35"/><circle cx="173" cy="131" r="2.2" opacity="0.75"/><circle cx="39" cy="11" r="1.2" opacity="0.47"/><circle cx="176" cy="117" r="2.2" opacity="0.35"/><circle cx="51" cy="66" r="2.2" opacity="0.75"/><circle cx="149" cy="114" r="1.5" opacity="0.35"/><circle cx="91" cy="98" r="2.2" opacity="0.75"/><circle cx="42" cy="51" r="1.5" opacity="0.47"/><circle cx="88" cy="134" r="2.2" opacity="0.75"/><circle cx="168" cy="88" r="2.2" opacity="0.35"/><circle cx="85" cy="16" r="1.8" opacity="0.58"/><circle cx="157" cy="115" r="1.2" opacity="0.34"/><circle cx="137" cy="111" r="1.2" opacity="0.30"/><circle cx="145" cy="18" r="1.8" opacity="0.59"/><circle cx="55" cy="17" r="1.8" opacity="0.47"/><circle cx="37" cy="116" r="1.8" opacity="0.59"/><circle cx="88" cy="28" r="1.5" opacity="0.75"/><circle cx="48" cy="44" r="1.2" opacity="0.35"/><circle cx="94" cy="40" r="2.2" opacity="0.35"/><circle cx="99" cy="79" r="2.2" opacity="0.66"/><circle cx="18" cy="72" r="2.2" opacity="0.53"/><circle cx="115" cy="113" r="1.2" opacity="0.47"/><circle cx="116" cy="124" r="2.2" opacity="0.75"/><circle cx="17" cy="53" r="1.8" opacity="0.35"/><circle cx="43" cy="114" r="1.5" opacity="0.54"/><circle cx="75" cy="96" r="1.5" opacity="0.45"/><circle cx="63" cy="40" r="2.2" opacity="0.26"/><circle cx="12" cy="124" r="2.2" opacity="0.47"/><circle cx="31" cy="115" r="1.5" opacity="0.47"/><circle cx="107" cy="88" r="2.2" opacity="0.47"/><circle cx="67" cy="126" r="1.5" opacity="0.35"/><circle cx="18" cy="82" r="1.8" opacity="0.35"/><circle cx="63" cy="125" r="1.2" opacity="0.47"/><circle cx="84" cy="100" r="1.5" opacity="0.47"/><circle cx="106" cy="34" r="2.2" opacity="0.47"/><circle cx="142" cy="10" r="1.5" opacity="0.59"/><circle cx="133" cy="131" r="1.2" opacity="0.47"/><circle cx="116" cy="53" r="2.2" opacity="0.59"/><circle cx="58" cy="65" r="2.2" opacity="0.59"/><circle cx="64" cy="74" r="1.8" opacity="0.35"/><circle cx="53" cy="125" r="1.5" opacity="0.75"/><circle cx="30" cy="61" r="1.5" opacity="0.55"/><circle cx="81" cy="78" r="1.8" opacity="0.69"/><circle cx="88" cy="126" r="1.5" opacity="0.59"/><circle cx="160" cy="95" r="1.5" opacity="0.75"/><circle cx="151" cy="91" r="2.2" opacity="0.35"/><circle cx="22" cy="18" r="1.5" opacity="0.47"/><circle cx="95" cy="74" r="1.2" opacity="0.34"/><circle cx="157" cy="54" r="2.2" opacity="0.75"/><circle cx="77" cy="123" r="1.8" opacity="0.75"/><circle cx="160" cy="78" r="1.5" opacity="0.59"/><circle cx="70" cy="68" r="1.2" opacity="0.47"/><circle cx="162" cy="131" r="2.2" opacity="0.47"/><circle cx="49" cy="131" r="1.2" opacity="0.35"/><circle cx="57" cy="13" r="2.2" opacity="0.75"/><circle cx="7" cy="102" r="1.2" opacity="0.59"/><circle cx="14" cy="130" r="1.8" opacity="0.75"/><circle cx="170" cy="54" r="1.5" opacity="0.35"/><circle cx="94" cy="24" r="1.2" opacity="0.33"/><circle cx="35" cy="29" r="1.2" opacity="0.44"/><circle cx="94" cy="87" r="1.2" opacity="0.51"/><circle cx="96" cy="29" r="1.2" opacity="0.34"/><circle cx="122" cy="32" r="1.8" opacity="0.75"/><circle cx="6" cy="105" r="1.5" opacity="0.46"/><circle cx="67" cy="112" r="1.8" opacity="0.75"/><circle cx="148" cy="129" r="1.5" opacity="0.47"/><circle cx="114" cy="127" r="2.2" opacity="0.75"/><circle cx="11" cy="104" r="2.2" opacity="0.59"/><circle cx="137" cy="63" r="2.2" opacity="0.35"/><circle cx="106" cy="40" r="2.2" opacity="0.75"/><circle cx="158" cy="14" r="1.8" opacity="0.47"/><circle cx="127" cy="27" r="2.2" opacity="0.75"/><circle cx="92" cy="118" r="2.2" opacity="0.47"/><circle cx="128" cy="60" r="2.2" opacity="0.47"/><circle cx="73" cy="63" r="1.5" opacity="0.35"/><circle cx="87" cy="10" r="1.8" opacity="0.50"/><circle cx="58" cy="113" r="2.2" opacity="0.47"/><circle cx="92" cy="56" r="1.2" opacity="0.71"/><circle cx="97" cy="23" r="1.8" opacity="0.56"/><circle cx="10" cy="93" r="1.2" opacity="0.59"/><circle cx="113" cy="14" r="1.2" opacity="0.59"/><circle cx="69" cy="52" r="1.2" opacity="0.47"/><circle cx="121" cy="10" r="2.2" opacity="0.74"/><circle cx="125" cy="103" r="2.2" opacity="0.59"/><circle cx="29" cy="60" r="1.5" opacity="0.35"/><circle cx="12" cy="85" r="1.8" opacity="0.47"/><circle cx="110" cy="111" r="1.5" opacity="0.59"/><circle cx="11" cy="61" r="1.8" opacity="0.54"/><circle cx="44" cy="26" r="2.2" opacity="0.33"/><circle cx="164" cy="115" r="1.5" opacity="0.69"/><circle cx="8" cy="46" r="1.5" opacity="0.35"/><circle cx="108" cy="15" r="1.8" opacity="0.47"/><circle cx="147" cy="85" r="1.8" opacity="0.75"/><circle cx="81" cy="38" r="2.2" opacity="0.47"/><circle cx="142" cy="107" r="1.5" opacity="0.28"/><circle cx="18" cy="58" r="2.2" opacity="0.65"/><circle cx="137" cy="94" r="2.2" opacity="0.35"/><circle cx="168" cy="88" r="2.2" opacity="0.35"/><circle cx="97" cy="90" r="1.5" opacity="0.57"/><circle cx="90" cy="24" r="1.2" opacity="0.53"/><circle cx="48" cy="20" r="1.5" opacity="0.59"/><circle cx="65" cy="34" r="1.8" opacity="0.32"/><circle cx="38" cy="21" r="1.5" opacity="0.75"/><circle cx="38" cy="121" r="2.2" opacity="0.47"/><circle cx="91" cy="92" r="1.5" opacity="0.75"/><circle cx="60" cy="57" r="1.8" opacity="0.35"/><circle cx="177" cy="119" r="1.8" opacity="0.75"/><circle cx="84" cy="35" r="1.2" opacity="0.35"/><circle cx="179" cy="26" r="1.5" opacity="0.59"/><circle cx="105" cy="43" r="2.2" opacity="0.59"/><circle cx="117" cy="82" r="1.5" opacity="0.47"/><circle cx="82" cy="27" r="1.2" opacity="0.75"/><circle cx="20" cy="106" r="1.5" opacity="0.35"/><circle cx="81" cy="104" r="1.5" opacity="0.43"/><circle cx="59" cy="22" r="1.8" opacity="0.35"/><circle cx="173" cy="106" r="2.2" opacity="0.35"/><circle cx="142" cy="81" r="1.5" opacity="0.75"/><circle cx="109" cy="107" r="2.2" opacity="0.75"/><circle cx="138" cy="98" r="1.2" opacity="0.35"/><circle cx="5" cy="8" r="1.8" opacity="0.35"/><circle cx="81" cy="45" r="1.5" opacity="0.35"/><circle cx="128" cy="83" r="1.8" opacity="0.75"/><circle cx="91" cy="88" r="1.8" opacity="0.34"/><circle cx="9" cy="14" r="1.5" opacity="0.35"/><circle cx="141" cy="22" r="1.2" opacity="0.75"/><circle cx="110" cy="67" r="1.8" opacity="0.35"/><circle cx="55" cy="16" r="1.8" opacity="0.47"/><circle cx="89" cy="54" r="1.2" opacity="0.33"/><circle cx="8" cy="96" r="1.2" opacity="0.75"/><circle cx="58" cy="38" r="1.5" opacity="0.29"/><circle cx="47" cy="20" r="1.2" opacity="0.59"/><circle cx="141" cy="118" r="2.2" opacity="0.59"/><circle cx="27" cy="74" r="1.8" opacity="0.59"/><circle cx="41" cy="131" r="1.5" opacity="0.47"/><circle cx="172" cy="6" r="2.2" opacity="0.48"/><circle cx="63" cy="26" r="1.8" opacity="0.47"/><circle cx="113" cy="79" r="1.2" opacity="0.35"/><circle cx="160" cy="95" r="2.2" opacity="0.59"/><circle cx="128" cy="44" r="2.2" opacity="0.74"/><circle cx="166" cy="129" r="1.2" opacity="0.35"/><circle cx="121" cy="6" r="1.2" opacity="0.54"/><circle cx="177" cy="101" r="1.8" opacity="0.59"/><circle cx="120" cy="75" r="1.2" opacity="0.35"/><circle cx="98" cy="23" r="1.5" opacity="0.45"/><circle cx="128" cy="128" r="1.5" opacity="0.59"/><circle cx="11" cy="48" r="1.8" opacity="0.35"/><circle cx="79" cy="51" r="1.8" opacity="0.59"/><circle cx="73" cy="7" r="1.5" opacity="0.35"/><circle cx="174" cy="11" r="1.8" opacity="0.37"/><circle cx="70" cy="122" r="1.5" opacity="0.35"/><circle cx="80" cy="36" r="1.5" opacity="0.59"/><circle cx="84" cy="129" r="2.2" opacity="0.47"/><circle cx="105" cy="87" r="1.8" opacity="0.47"/><circle cx="157" cy="28" r="1.8" opacity="0.75"/><circle cx="113" cy="87" r="1.5" opacity="0.75"/><circle cx="31" cy="36" r="2.2" opacity="0.46"/><circle cx="103" cy="9" r="1.5" opacity="0.44"/><circle cx="48" cy="104" r="1.8" opacity="0.47"/><circle cx="133" cy="113" r="1.8" opacity="0.53"/><circle cx="131" cy="96" r="1.2" opacity="0.59"/><circle cx="135" cy="17" r="1.5" opacity="0.75"/><circle cx="98" cy="76" r="1.8" opacity="0.31"/><circle cx="14" cy="46" r="1.2" opacity="0.35"/><circle cx="33" cy="95" r="2.2" opacity="0.75"/><circle cx="66" cy="104" r="1.5" opacity="0.75"/><circle cx="96" cy="130" r="1.2" opacity="0.47"/><circle cx="28" cy="26" r="1.5" opacity="0.34"/><circle cx="58" cy="29" r="1.2" opacity="0.59"/><circle cx="22" cy="39" r="1.2" opacity="0.47"/><circle cx="23" cy="14" r="1.8" opacity="0.75"/><circle cx="83" cy="107" r="1.8" opacity="0.35"/><circle cx="174" cy="84" r="2.2" opacity="0.47"/><circle cx="111" cy="85" r="1.8" opacity="0.35"/><circle cx="98" cy="50" r="2.2" opacity="0.59"/><circle cx="59" cy="133" r="1.2" opacity="0.35"/><circle cx="5" cy="68" r="1.8" opacity="0.47"/><circle cx="119" cy="71" r="1.2" opacity="0.47"/><circle cx="68" cy="67" r="1.2" opacity="0.47"/><circle cx="66" cy="108" r="1.2" opacity="0.75"/><circle cx="166" cy="90" r="2.2" opacity="0.35"/><circle cx="59" cy="66" r="2.2" opacity="0.47"/><circle cx="152" cy="24" r="1.5" opacity="0.59"/><circle cx="47" cy="114" r="1.5" opacity="0.59"/><circle cx="5" cy="131" r="2.2" opacity="0.35"/><circle cx="167" cy="70" r="1.2" opacity="0.59"/><circle cx="77" cy="76" r="2.2" opacity="0.75"/><circle cx="22" cy="40" r="1.8" opacity="0.75"/><circle cx="135" cy="8" r="1.8" opacity="0.35"/><circle cx="13" cy="17" r="1.2" opacity="0.47"/><circle cx="149" cy="103" r="1.5" opacity="0.59"/><circle cx="111" cy="74" r="1.2" opacity="0.75"/><circle cx="160" cy="82" r="2.2" opacity="0.75"/><circle cx="12" cy="130" r="1.5" opacity="0.35"/><circle cx="96" cy="72" r="1.5" opacity="0.70"/><circle cx="163" cy="98" r="1.8" opacity="0.75"/><circle cx="45" cy="27" r="1.2" opacity="0.53"/><circle cx="38" cy="106" r="1.5" opacity="0.35"/><circle cx="151" cy="82" r="1.8" opacity="0.47"/><circle cx="102" cy="115" r="1.8" opacity="0.33"/><circle cx="86" cy="93" r="1.5" opacity="0.35"/><circle cx="33" cy="40" r="1.5" opacity="0.31"/><circle cx="5" cy="40" r="1.8" opacity="0.35"/><circle cx="149" cy="79" r="2.2" opacity="0.35"/><circle cx="177" cy="33" r="1.8" opacity="0.59"/><circle cx="64" cy="39" r="1.8" opacity="0.61"/><circle cx="166" cy="123" r="1.2" opacity="0.59"/><circle cx="137" cy="31" r="1.5" opacity="0.29"/><circle cx="83" cy="50" r="1.5" opacity="0.59"/><circle cx="21" cy="94" r="1.5" opacity="0.59"/><circle cx="154" cy="21" r="1.5" opacity="0.75"/><circle cx="167" cy="73" r="1.5" opacity="0.59"/><circle cx="169" cy="105" r="2.2" opacity="0.75"/><circle cx="31" cy="21" r="1.5" opacity="0.47"/><circle cx="39" cy="40" r="1.5" opacity="0.75"/><circle cx="50" cy="41" r="1.2" opacity="0.59"/><circle cx="163" cy="73" r="1.8" opacity="0.35"/><circle cx="107" cy="15" r="2.2" opacity="0.33"/><circle cx="21" cy="71" r="2.2" opacity="0.70"/><circle cx="15" cy="12" r="1.5" opacity="0.47"/><circle cx="138" cy="58" r="1.2" opacity="0.47"/><circle cx="166" cy="130" r="1.2" opacity="0.35"/><circle cx="69" cy="95" r="1.5" opacity="0.47"/><circle cx="35" cy="102" r="1.5" opacity="0.47"/><circle cx="177" cy="94" r="1.8" opacity="0.75"/><circle cx="119" cy="96" r="1.2" opacity="0.59"/><circle cx="108" cy="23" r="1.8" opacity="0.75"/><circle cx="152" cy="10" r="1.2" opacity="0.35"/><circle cx="102" cy="83" r="1.8" opacity="0.34"/><circle cx="135" cy="55" r="1.5" opacity="0.55"/><circle cx="165" cy="72" r="1.8" opacity="0.59"/><circle cx="34" cy="76" r="1.5" opacity="0.46"/><circle cx="113" cy="44" r="1.5" opacity="0.30"/><circle cx="154" cy="111" r="1.8" opacity="0.59"/><circle cx="88" cy="92" r="1.5" opacity="0.75"/><circle cx="9" cy="92" r="2.2" opacity="0.59"/><circle cx="156" cy="75" r="1.8" opacity="0.75"/><circle cx="103" cy="33" r="1.8" opacity="0.35"/><circle cx="58" cy="119" r="1.8" opacity="0.75"/><circle cx="50" cy="117" r="2.2" opacity="0.35"/><circle cx="77" cy="62" r="2.2" opacity="0.35"/><circle cx="41" cy="128" r="1.5" opacity="0.59"/><circle cx="158" cy="13" r="1.5" opacity="0.35"/><circle cx="5" cy="60" r="1.5" opacity="0.54"/><circle cx="47" cy="40" r="1.8" opacity="0.75"/><circle cx="150" cy="80" r="1.8" opacity="0.59"/><circle cx="75" cy="51" r="1.2" opacity="0.47"/><circle cx="106" cy="55" r="1.8" opacity="0.47"/><circle cx="64" cy="110" r="1.5" opacity="0.35"/><circle cx="53" cy="32" r="1.5" opacity="0.59"/><circle cx="48" cy="24" r="1.2" opacity="0.59"/><circle cx="19" cy="92" r="2.2" opacity="0.75"/><circle cx="41" cy="53" r="1.2" opacity="0.59"/><circle cx="173" cy="114" r="1.2" opacity="0.59"/><circle cx="47" cy="11" r="2.2" opacity="0.35"/><circle cx="112" cy="49" r="2.2" opacity="0.35"/><circle cx="31" cy="17" r="1.8" opacity="0.47"/><circle cx="81" cy="34" r="2.2" opacity="0.75"/><circle cx="91" cy="108" r="1.5" opacity="0.59"/><circle cx="23" cy="97" r="2.2" opacity="0.75"/><circle cx="44" cy="96" r="1.2" opacity="0.47"/><circle cx="147" cy="60" r="2.2" opacity="0.47"/><circle cx="168" cy="130" r="1.5" opacity="0.59"/><circle cx="79" cy="24" r="1.8" opacity="0.59"/><circle cx="176" cy="10" r="2.2" opacity="0.49"/><circle cx="29" cy="58" r="1.8" opacity="0.75"/><circle cx="99" cy="51" r="1.2" opacity="0.75"/><circle cx="51" cy="113" r="1.2" opacity="0.59"/><circle cx="129" cy="80" r="1.8" opacity="0.47"/><circle cx="116" cy="65" r="1.2" opacity="0.47"/><circle cx="156" cy="125" r="1.5" opacity="0.75"/><circle cx="124" cy="112" r="1.8" opacity="0.59"/><circle cx="171" cy="28" r="1.2" opacity="0.59"/><circle cx="8" cy="7" r="1.8" opacity="0.59"/><circle cx="116" cy="81" r="1.2" opacity="0.47"/><circle cx="93" cy="74" r="1.8" opacity="0.47"/><circle cx="115" cy="82" r="2.2" opacity="0.59"/><circle cx="59" cy="116" r="1.8" opacity="0.59"/><circle cx="62" cy="16" r="2.2" opacity="0.47"/><circle cx="36" cy="127" r="1.2" opacity="0.59"/><circle cx="81" cy="77" r="1.8" opacity="0.32"/><circle cx="99" cy="119" r="1.5" opacity="0.75"/><circle cx="65" cy="90" r="2.2" opacity="0.59"/><circle cx="18" cy="31" r="1.5" opacity="0.59"/><circle cx="17" cy="83" r="1.8" opacity="0.35"/><circle cx="109" cy="26" r="1.5" opacity="0.47"/><circle cx="166" cy="10" r="1.8" opacity="0.29"/><circle cx="124" cy="110" r="1.2" opacity="0.75"/><circle cx="179" cy="80" r="1.5" opacity="0.47"/><circle cx="120" cy="127" r="1.5" opacity="0.47"/><circle cx="33" cy="76" r="1.8" opacity="0.59"/><circle cx="49" cy="94" r="2.2" opacity="0.47"/><circle cx="20" cy="108" r="1.8" opacity="0.59"/><circle cx="63" cy="70" r="1.8" opacity="0.47"/><circle cx="128" cy="12" r="2.2" opacity="0.59"/><circle cx="122" cy="21" r="1.8" opacity="0.65"/><circle cx="169" cy="96" r="1.8" opacity="0.47"/><circle cx="180" cy="130" r="2.2" opacity="0.75"/><circle cx="177" cy="17" r="1.5" opacity="0.39"/><circle cx="146" cy="111" r="1.2" opacity="0.55"/><circle cx="66" cy="134" r="1.5" opacity="0.48"/><circle cx="85" cy="34" r="1.2" opacity="0.75"/><circle cx="174" cy="73" r="1.8" opacity="0.47"/><circle cx="173" cy="114" r="1.8" opacity="0.59"/><circle cx="100" cy="27" r="2.2" opacity="0.45"/><circle cx="131" cy="127" r="1.8" opacity="0.47"/><circle cx="160" cy="96" r="1.8" opacity="0.75"/><circle cx="33" cy="47" r="1.5" opacity="0.75"/><circle cx="94" cy="108" r="1.2" opacity="0.35"/><circle cx="85" cy="96" r="2.2" opacity="0.59"/><circle cx="150" cy="93" r="1.8" opacity="0.47"/><circle cx="145" cy="39" r="2.2" opacity="0.48"/><circle cx="71" cy="101" r="2.2" opacity="0.47"/><circle cx="67" cy="104" r="2.2" opacity="0.47"/><circle cx="6" cy="36" r="1.2" opacity="0.59"/><circle cx="50" cy="86" r="1.2" opacity="0.75"/><circle cx="89" cy="100" r="1.5" opacity="0.35"/><circle cx="108" cy="7" r="2.2" opacity="0.35"/><circle cx="93" cy="123" r="1.5" opacity="0.59"/><circle cx="73" cy="122" r="1.8" opacity="0.75"/><circle cx="83" cy="11" r="2.2" opacity="0.45"/><circle cx="47" cy="97" r="1.5" opacity="0.47"/><circle cx="161" cy="67" r="1.2" opacity="0.59"/><circle cx="6" cy="45" r="2.2" opacity="0.59"/><circle cx="94" cy="69" r="1.5" opacity="0.55"/><circle cx="116" cy="21" r="1.5" opacity="0.47"/><circle cx="166" cy="18" r="1.8" opacity="0.53"/><circle cx="13" cy="5" r="1.2" opacity="0.59"/><circle cx="85" cy="16" r="1.8" opacity="0.75"/><circle cx="44" cy="92" r="1.8" opacity="0.47"/><circle cx="123" cy="115" r="1.5" opacity="0.75"/><circle cx="169" cy="85" r="1.5" opacity="0.47"/><circle cx="42" cy="85" r="1.2" opacity="0.75"/><circle cx="62" cy="101" r="2.2" opacity="0.59"/><circle cx="168" cy="39" r="2.2" opacity="0.59"/><circle cx="20" cy="40" r="1.5" opacity="0.59"/><circle cx="163" cy="103" r="2.2" opacity="0.59"/><circle cx="9" cy="32" r="1.8" opacity="0.59"/><circle cx="156" cy="117" r="1.2" opacity="0.59"/><circle cx="76" cy="57" r="1.5" opacity="0.35"/><circle cx="136" cy="22" r="1.5" opacity="0.59"/><circle cx="103" cy="31" r="2.2" opacity="0.35"/><circle cx="18" cy="123" r="1.2" opacity="0.47"/><circle cx="36" cy="53" r="1.5" opacity="0.35"/><circle cx="82" cy="58" r="2.2" opacity="0.75"/><circle cx="177" cy="105" r="1.2" opacity="0.59"/><circle cx="52" cy="23" r="1.5" opacity="0.75"/><circle cx="157" cy="99" r="1.8" opacity="0.75"/><circle cx="76" cy="93" r="1.5" opacity="0.46"/><circle cx="30" cy="83" r="1.2" opacity="0.47"/><circle cx="44" cy="41" r="1.2" opacity="0.75"/><circle cx="54" cy="81" r="1.8" opacity="0.47"/><circle cx="25" cy="19" r="1.5" opacity="0.75"/><circle cx="109" cy="10" r="1.8" opacity="0.75"/><circle cx="18" cy="42" r="2.2" opacity="0.35"/><circle cx="50" cy="73" r="1.8" opacity="0.35"/><circle cx="147" cy="58" r="1.5" opacity="0.75"/><circle cx="133" cy="44" r="1.5" opacity="0.43"/><circle cx="11" cy="14" r="1.5" opacity="0.35"/><circle cx="171" cy="80" r="1.2" opacity="0.35"/><circle cx="47" cy="54" r="1.2" opacity="0.35"/><circle cx="129" cy="113" r="1.2" opacity="0.45"/><circle cx="87" cy="106" r="1.8" opacity="0.75"/><circle cx="146" cy="56" r="1.2" opacity="0.35"/><circle cx="143" cy="40" r="1.5" opacity="0.61"/><circle cx="71" cy="88" r="2.2" opacity="0.75"/><circle cx="44" cy="125" r="1.2" opacity="0.35"/><circle cx="20" cy="15" r="2.2" opacity="0.35"/><circle cx="113" cy="99" r="1.8" opacity="0.59"/><circle cx="69" cy="22" r="2.2" opacity="0.47"/><circle cx="135" cy="5" r="1.5" opacity="0.59"/><circle cx="55" cy="117" r="2.2" opacity="0.35"/><circle cx="12" cy="42" r="1.5" opacity="0.59"/><circle cx="41" cy="35" r="1.8" opacity="0.35"/><circle cx="131" cy="123" r="2.2" opacity="0.47"/><circle cx="72" cy="62" r="1.8" opacity="0.47"/><circle cx="44" cy="31" r="1.2" opacity="0.51"/><circle cx="80" cy="75" r="2.2" opacity="0.72"/><circle cx="141" cy="28" r="1.2" opacity="0.51"/><circle cx="109" cy="43" r="1.2" opacity="0.35"/><circle cx="82" cy="16" r="1.8" opacity="0.35"/><circle cx="50" cy="105" r="2.2" opacity="0.59"/><circle cx="105" cy="96" r="1.5" opacity="0.35"/><circle cx="107" cy="17" r="1.2" opacity="0.56"/><circle cx="159" cy="117" r="2.2" opacity="0.55"/><circle cx="102" cy="116" r="1.2" opacity="0.44"/><circle cx="127" cy="97" r="1.5" opacity="0.35"/><circle cx="113" cy="78" r="1.8" opacity="0.59"/><circle cx="62" cy="37" r="2.2" opacity="0.37"/><circle cx="66" cy="33" r="2.2" opacity="0.46"/><circle cx="164" cy="71" r="1.8" opacity="0.47"/><circle cx="140" cy="79" r="1.2" opacity="0.75"/><circle cx="154" cy="4" r="1.2" opacity="0.47"/><circle cx="156" cy="91" r="1.5" opacity="0.75"/><circle cx="81" cy="34" r="2.2" opacity="0.59"/><circle cx="113" cy="51" r="1.2" opacity="0.35"/><circle cx="49" cy="125" r="2.2" opacity="0.35"/><circle cx="68" cy="39" r="1.2" opacity="0.75"/><circle cx="77" cy="53" r="1.2" opacity="0.75"/><circle cx="53" cy="73" r="1.5" opacity="0.59"/><circle cx="146" cy="54" r="2.2" opacity="0.47"/><circle cx="49" cy="73" r="2.2" opacity="0.47"/><circle cx="52" cy="60" r="1.8" opacity="0.59"/><circle cx="61" cy="70" r="1.5" opacity="0.47"/><circle cx="65" cy="114" r="1.5" opacity="0.75"/><circle cx="76" cy="100" r="1.2" opacity="0.65"/><circle cx="159" cy="10" r="1.5" opacity="0.75"/><circle cx="24" cy="76" r="1.2" opacity="0.35"/><circle cx="170" cy="26" r="1.2" opacity="0.75"/><circle cx="78" cy="88" r="2.2" opacity="0.75"/><circle cx="20" cy="43" r="1.8" opacity="0.59"/><circle cx="167" cy="98" r="1.5" opacity="0.59"/><circle cx="56" cy="82" r="1.5" opacity="0.47"/><circle cx="90" cy="70" r="1.8" opacity="0.34"/><circle cx="45" cy="46" r="1.8" opacity="0.75"/><circle cx="48" cy="50" r="1.8" opacity="0.59"/><circle cx="164" cy="131" r="1.5" opacity="0.35"/><circle cx="20" cy="99" r="1.2" opacity="0.35"/><circle cx="19" cy="114" r="2.2" opacity="0.75"/><circle cx="21" cy="32" r="1.5" opacity="0.42"/><circle cx="77" cy="29" r="1.5" opacity="0.35"/><circle cx="63" cy="52" r="1.8" opacity="0.47"/><circle cx="23" cy="86" r="1.2" opacity="0.47"/><circle cx="74" cy="31" r="1.5" opacity="0.47"/><circle cx="49" cy="33" r="2.2" opacity="0.59"/><circle cx="81" cy="67" r="1.8" opacity="0.47"/><circle cx="56" cy="30" r="1.5" opacity="0.75"/><circle cx="65" cy="93" r="1.8" opacity="0.47"/><circle cx="135" cy="129" r="1.5" opacity="0.59"/><circle cx="96" cy="55" r="1.8" opacity="0.75"/><circle cx="151" cy="73" r="2.2" opacity="0.42"/><circle cx="116" cy="19" r="1.2" opacity="0.35"/><circle cx="78" cy="31" r="2.2" opacity="0.59"/><circle cx="146" cy="107" r="2.2" opacity="0.56"/><circle cx="89" cy="120" r="1.5" opacity="0.75"/><circle cx="41" cy="33" r="1.5" opacity="0.50"/><circle cx="129" cy="85" r="1.2" opacity="0.35"/><circle cx="19" cy="112" r="1.2" opacity="0.35"/><circle cx="77" cy="100" r="1.2" opacity="0.49"/><circle cx="22" cy="46" r="1.8" opacity="0.35"/><circle cx="121" cy="132" r="1.8" opacity="0.47"/><circle cx="176" cy="12" r="1.5" opacity="0.37"/><circle cx="118" cy="57" r="1.8" opacity="0.75"/><circle cx="89" cy="121" r="2.2" opacity="0.47"/><circle cx="92" cy="31" r="1.2" opacity="0.47"/><circle cx="110" cy="40" r="2.2" opacity="0.33"/><circle cx="18" cy="30" r="1.8" opacity="0.75"/><circle cx="55" cy="120" r="1.8" opacity="0.35"/><circle cx="38" cy="119" r="1.2" opacity="0.58"/><circle cx="165" cy="104" r="1.2" opacity="0.35"/><circle cx="139" cy="125" r="2.2" opacity="0.75"/><circle cx="108" cy="64" r="2.2" opacity="0.35"/><circle cx="65" cy="103" r="1.8" opacity="0.59"/><circle cx="35" cy="15" r="1.8" opacity="0.59"/><circle cx="75" cy="32" r="1.8" opacity="0.47"/><circle cx="45" cy="69" r="1.5" opacity="0.75"/><circle cx="162" cy="68" r="1.8" opacity="0.59"/><circle cx="135" cy="108" r="1.5" opacity="0.45"/><circle cx="29" cy="26" r="2.2" opacity="0.35"/><circle cx="42" cy="106" r="1.2" opacity="0.47"/><circle cx="166" cy="10" r="1.2" opacity="0.28"/><circle cx="79" cy="78" r="2.2" opacity="0.53"/><circle cx="51" cy="6" r="1.2" opacity="0.59"/><circle cx="160" cy="62" r="1.2" opacity="0.35"/><circle cx="111" cy="88" r="2.2" opacity="0.75"/><circle cx="125" cy="56" r="1.8" opacity="0.35"/><circle cx="132" cy="90" r="1.8" opacity="0.47"/><circle cx="45" cy="7" r="2.2" opacity="0.59"/><circle cx="136" cy="108" r="1.8" opacity="0.35"/><circle cx="99" cy="111" r="1.2" opacity="0.35"/><circle cx="116" cy="48" r="1.2" opacity="0.69"/><circle cx="25" cy="59" r="2.2" opacity="0.75"/><circle cx="35" cy="46" r="1.8" opacity="0.59"/><circle cx="53" cy="80" r="1.2" opacity="0.59"/><circle cx="138" cy="49" r="2.2" opacity="0.35"/><circle cx="90" cy="81" r="1.5" opacity="0.59"/><circle cx="38" cy="116" r="1.8" opacity="0.47"/><circle cx="134" cy="102" r="1.2" opacity="0.35"/><circle cx="39" cy="100" r="2.2" opacity="0.47"/><circle cx="44" cy="103" r="1.8" opacity="0.75"/><circle cx="92" cy="61" r="1.5" opacity="0.44"/><circle cx="91" cy="133" r="1.8" opacity="0.35"/><circle cx="117" cy="89" r="1.5" opacity="0.35"/><circle cx="117" cy="109" r="1.8" opacity="0.35"/><circle cx="78" cy="42" r="1.5" opacity="0.47"/><circle cx="96" cy="134" r="2.2" opacity="0.48"/><circle cx="78" cy="113" r="1.2" opacity="0.47"/><circle cx="45" cy="35" r="1.8" opacity="0.59"/><circle cx="173" cy="132" r="1.5" opacity="0.47"/><circle cx="10" cy="8" r="1.8" opacity="0.75"/><circle cx="56" cy="33" r="1.5" opacity="0.47"/><circle cx="145" cy="16" r="1.2" opacity="0.59"/><circle cx="95" cy="82" r="2.2" opacity="0.70"/><circle cx="105" cy="64" r="2.2" opacity="0.59"/><circle cx="25" cy="57" r="1.8" opacity="0.47"/><circle cx="153" cy="85" r="1.2" opacity="0.35"/><circle cx="156" cy="34" r="1.2" opacity="0.47"/><circle cx="66" cy="8" r="2.2" opacity="0.35"/><circle cx="69" cy="78" r="1.5" opacity="0.47"/><circle cx="25" cy="33" r="1.8" opacity="0.46"/><circle cx="67" cy="33" r="1.5" opacity="0.59"/><circle cx="119" cy="54" r="1.8" opacity="0.47"/><circle cx="153" cy="131" r="1.5" opacity="0.75"/><circle cx="139" cy="125" r="1.2" opacity="0.59"/><circle cx="32" cy="74" r="1.5" opacity="0.34"/><circle cx="46" cy="96" r="1.5" opacity="0.75"/><circle cx="108" cy="100" r="2.2" opacity="0.59"/><circle cx="62" cy="123" r="1.5" opacity="0.59"/><circle cx="99" cy="8" r="1.5" opacity="0.26"/><circle cx="92" cy="79" r="1.2" opacity="0.35"/><circle cx="157" cy="84" r="2.2" opacity="0.75"/><circle cx="29" cy="26" r="1.5" opacity="0.46"/><circle cx="62" cy="58" r="1.8" opacity="0.47"/><circle cx="70" cy="120" r="1.8" opacity="0.75"/><circle cx="131" cy="6" r="1.5" opacity="0.59"/><circle cx="21" cy="73" r="1.2" opacity="0.59"/><circle cx="151" cy="75" r="1.8" opacity="0.41"/><circle cx="36" cy="108" r="2.2" opacity="0.35"/><circle cx="131" cy="81" r="1.8" opacity="0.59"/><circle cx="167" cy="108" r="1.5" opacity="0.75"/><circle cx="86" cy="42" r="1.8" opacity="0.35"/><circle cx="172" cy="25" r="2.2" opacity="0.35"/><circle cx="108" cy="67" r="1.8" opacity="0.75"/><circle cx="168" cy="82" r="1.2" opacity="0.35"/><circle cx="73" cy="22" r="1.5" opacity="0.75"/><circle cx="160" cy="78" r="1.2" opacity="0.59"/><circle cx="14" cy="112" r="2.2" opacity="0.47"/><circle cx="23" cy="64" r="2.2" opacity="0.39"/><circle cx="115" cy="13" r="1.8" opacity="0.35"/><circle cx="5" cy="68" r="1.2" opacity="0.35"/><circle cx="103" cy="22" r="1.2" opacity="0.34"/><circle cx="60" cy="29" r="2.2" opacity="0.35"/><circle cx="98" cy="63" r="1.8" opacity="0.59"/><circle cx="107" cy="50" r="1.5" opacity="0.47"/><circle cx="13" cy="40" r="1.5" opacity="0.47"/><circle cx="127" cy="112" r="1.2" opacity="0.34"/><circle cx="169" cy="133" r="1.8" opacity="0.75"/><circle cx="147" cy="57" r="1.5" opacity="0.59"/><circle cx="109" cy="30" r="1.5" opacity="0.59"/><circle cx="107" cy="67" r="1.5" opacity="0.47"/><circle cx="169" cy="128" r="2.2" opacity="0.47"/><circle cx="104" cy="94" r="1.2" opacity="0.47"/><circle cx="6" cy="45" r="1.2" opacity="0.59"/><circle cx="111" cy="11" r="1.8" opacity="0.75"/><circle cx="34" cy="27" r="1.2" opacity="0.30"/><circle cx="139" cy="112" r="1.8" opacity="0.67"/><circle cx="107" cy="21" r="1.8" opacity="0.47"/><circle cx="159" cy="47" r="1.8" opacity="0.35"/><circle cx="175" cy="19" r="2.2" opacity="0.57"/><circle cx="92" cy="32" r="1.8" opacity="0.47"/><circle cx="105" cy="126" r="1.2" opacity="0.70"/><circle cx="117" cy="93" r="1.5" opacity="0.59"/><circle cx="98" cy="45" r="2.2" opacity="0.75"/><circle cx="131" cy="85" r="1.5" opacity="0.35"/><circle cx="44" cy="36" r="1.5" opacity="0.59"/><circle cx="73" cy="92" r="1.5" opacity="0.47"/><circle cx="75" cy="123" r="1.8" opacity="0.35"/><circle cx="166" cy="16" r="1.2" opacity="0.29"/><circle cx="15" cy="53" r="2.2" opacity="0.35"/><circle cx="174" cy="55" r="2.2" opacity="0.72"/><circle cx="159" cy="60" r="1.2" opacity="0.35"/><circle cx="28" cy="68" r="1.5" opacity="0.27"/><circle cx="80" cy="62" r="2.2" opacity="0.59"/><circle cx="171" cy="132" r="1.8" opacity="0.75"/><circle cx="60" cy="77" r="2.2" opacity="0.35"/><circle cx="137" cy="91" r="2.2" opacity="0.59"/><circle cx="59" cy="74" r="1.2" opacity="0.35"/><circle cx="170" cy="96" r="1.5" opacity="0.75"/><circle cx="45" cy="42" r="1.5" opacity="0.35"/><circle cx="160" cy="35" r="2.2" opacity="0.75"/><circle cx="7" cy="126" r="2.2" opacity="0.47"/><circle cx="142" cy="5" r="1.2" opacity="0.47"/><circle cx="111" cy="116" r="2.2" opacity="0.47"/><circle cx="155" cy="130" r="1.5" opacity="0.59"/><circle cx="65" cy="76" r="1.8" opacity="0.47"/><circle cx="118" cy="55" r="1.2" opacity="0.59"/><circle cx="155" cy="75" r="1.8" opacity="0.33"/><circle cx="69" cy="79" r="2.2" opacity="0.75"/><circle cx="34" cy="77" r="1.2" opacity="0.59"/><circle cx="49" cy="59" r="1.8" opacity="0.47"/><circle cx="31" cy="75" r="1.5" opacity="0.47"/><circle cx="140" cy="70" r="2.2" opacity="0.59"/><circle cx="145" cy="21" r="1.8" opacity="0.35"/><circle cx="100" cy="108" r="1.8" opacity="0.75"/><circle cx="89" cy="19" r="1.2" opacity="0.33"/><circle cx="83" cy="133" r="2.2" opacity="0.75"/><circle cx="120" cy="74" r="2.2" opacity="0.35"/><circle cx="19" cy="73" r="1.2" opacity="0.75"/><circle cx="83" cy="32" r="1.5" opacity="0.35"/><circle cx="138" cy="67" r="1.2" opacity="0.35"/><circle cx="7" cy="30" r="1.8" opacity="0.35"/><circle cx="63" cy="112" r="1.8" opacity="0.59"/><circle cx="94" cy="122" r="2.2" opacity="0.59"/><circle cx="172" cy="35" r="2.2" opacity="0.47"/><circle cx="141" cy="96" r="1.8" opacity="0.35"/><circle cx="116" cy="50" r="2.2" opacity="0.35"/><circle cx="92" cy="89" r="1.2" opacity="0.58"/><circle cx="136" cy="23" r="1.8" opacity="0.59"/><circle cx="85" cy="50" r="1.2" opacity="0.35"/><circle cx="141" cy="69" r="1.2" opacity="0.75"/><circle cx="45" cy="41" r="1.2" opacity="0.59"/><circle cx="131" cy="115" r="1.5" opacity="0.73"/><circle cx="26" cy="60" r="2.2" opacity="0.35"/><circle cx="176" cy="95" r="2.2" opacity="0.47"/><circle cx="60" cy="29" r="1.2" opacity="0.59"/><circle cx="151" cy="20" r="1.5" opacity="0.35"/><circle cx="132" cy="88" r="1.2" opacity="0.35"/><circle cx="27" cy="35" r="1.5" opacity="0.39"/><circle cx="116" cy="104" r="1.2" opacity="0.75"/><circle cx="121" cy="97" r="1.5" opacity="0.75"/><circle cx="123" cy="12" r="1.5" opacity="0.58"/><circle cx="159" cy="87" r="1.2" opacity="0.47"/><circle cx="81" cy="51" r="1.8" opacity="0.35"/><circle cx="82" cy="15" r="1.8" opacity="0.47"/><circle cx="92" cy="9" r="1.5" opacity="0.25"/><circle cx="154" cy="13" r="1.8" opacity="0.47"/><circle cx="127" cy="44" r="2.2" opacity="0.35"/><circle cx="128" cy="40" r="1.5" opacity="0.35"/><circle cx="117" cy="20" r="1.8" opacity="0.75"/><circle cx="66" cy="53" r="2.2" opacity="0.47"/><circle cx="11" cy="4" r="2.2" opacity="0.75"/><circle cx="93" cy="10" r="1.8" opacity="0.34"/><circle cx="124" cy="96" r="2.2" opacity="0.59"/><circle cx="58" cy="124" r="2.2" opacity="0.75"/><circle cx="104" cy="113" r="1.2" opacity="0.35"/><circle cx="34" cy="80" r="1.2" opacity="0.35"/><circle cx="164" cy="120" r="1.2" opacity="0.59"/><circle cx="16" cy="17" r="1.5" opacity="0.59"/><circle cx="9" cy="55" r="1.5" opacity="0.50"/><circle cx="56" cy="124" r="1.2" opacity="0.47"/><circle cx="10" cy="47" r="1.2" opacity="0.59"/><circle cx="134" cy="92" r="1.5" opacity="0.75"/><circle cx="114" cy="16" r="1.2" opacity="0.47"/><circle cx="46" cy="122" r="1.8" opacity="0.35"/><circle cx="104" cy="79" r="1.2" opacity="0.59"/><circle cx="61" cy="70" r="1.5" opacity="0.47"/><circle cx="22" cy="109" r="1.8" opacity="0.59"/><circle cx="152" cy="105" r="1.2" opacity="0.75"/><circle cx="116" cy="89" r="1.8" opacity="0.47"/><circle cx="98" cy="58" r="1.5" opacity="0.59"/><circle cx="103" cy="23" r="1.8" opacity="0.45"/><circle cx="69" cy="110" r="1.5" opacity="0.35"/><circle cx="101" cy="52" r="1.2" opacity="0.75"/><circle cx="112" cy="36" r="2.2" opacity="0.45"/><circle cx="122" cy="28" r="2.2" opacity="0.46"/><circle cx="134" cy="32" r="1.2" opacity="0.40"/><circle cx="170" cy="100" r="1.8" opacity="0.35"/></g>
<ellipse cx="49" cy="21" rx="16" ry="14" fill="#000" opacity="0.38" filter="url(#blur6)"/>
<ellipse cx="77" cy="51" rx="14" ry="14" fill="#000" opacity="0.32" filter="url(#blur6)"/>
<ellipse cx="77" cy="83" rx="14" ry="14" fill="#000" opacity="0.38" filter="url(#blur6)"/>
<ellipse cx="105" cy="97" rx="10" ry="10" fill="#000" opacity="0.18" filter="url(#blur6)"/>
<ellipse cx="35" cy="45" rx="10" ry="10" fill="#000" opacity="0.15" filter="url(#blur6)"/>
<ellipse cx="163" cy="30" rx="16" ry="20" fill="#fff" opacity="0.16" filter="url(#blur6)"/>
<ellipse cx="163" cy="82" rx="16" ry="25" fill="#fff" opacity="0.2" filter="url(#blur6)"/>
<ellipse cx="133" cy="81" rx="14" ry="14" fill="#fff" opacity="0.16" filter="url(#blur6)"/>
<ellipse cx="21" cy="106" rx="14" ry="14" fill="#fff" opacity="0.2" filter="url(#blur6)"/>
<ellipse cx="21" cy="78" rx="10" ry="12" fill="#fff" opacity="0.14" filter="url(#blur6)"/>
<ellipse cx="117" cy="38" rx="6" ry="5" fill="#fff" opacity="0.22" filter="url(#blur6)"/>
</g><line x1="177.5" y1="45" x2="177.5" y2="124" stroke="#1a1a1a" stroke-width="1" opacity="0.5"/>
</g>
<rect x="7" y="124.3" width="171" height="7.8" fill="#050505"/>
<rect x="8.8" y="125.2" width="5.6" height="6" fill="none" stroke="#999" stroke-width="0.5"/>
<text x="11.6" y="130.2" font-size="4.6" text-anchor="middle" fill="#ccc" font-family="Liberation Sans, sans-serif" font-weight="bold">S</text>
<line x1="16.40" y1="124.80" x2="16.40" y2="131.60" stroke="#888" stroke-width="0.45" />
<line x1="48.80" y1="124.80" x2="48.80" y2="131.60" stroke="#888" stroke-width="0.45" />
<line x1="57.30" y1="124.80" x2="57.30" y2="131.60" stroke="#888" stroke-width="0.45" />
<line x1="63.70" y1="124.80" x2="63.70" y2="131.60" stroke="#888" stroke-width="0.45" />
<line x1="77.30" y1="124.80" x2="77.30" y2="131.60" stroke="#888" stroke-width="0.45" />
<line x1="92.70" y1="124.80" x2="92.70" y2="131.60" stroke="#888" stroke-width="0.45" />
<line x1="108.00" y1="124.80" x2="108.00" y2="131.60" stroke="#888" stroke-width="0.45" />
<line x1="124.00" y1="124.80" x2="124.00" y2="131.60" stroke="#888" stroke-width="0.45" />
<g font-family="Liberation Sans, sans-serif" font-size="2.7" fill="#d0d0d0">
<text x="18.0" y="127.1">det    HV    WD</text><text x="18.0" y="130.9">ETD  20.00 kV  8.9 mm</text>
<text x="50.0" y="127.1">spot</text><text x="50.0" y="130.9">3.0</text>
<text x="58.5" y="127.1">mode</text><text x="58.5" y="130.9">SE</text>
<text x="65.0" y="127.1">tilt   curr</text><text x="65.0" y="130.9">0 °  50 pA</text>
<text x="78.5" y="127.1">mag  ⊕</text><text x="78.5" y="130.9">20 000 x</text>
<text x="94.0" y="127.1">HFW</text><text x="94.0" y="130.9">6.36 μm</text>
<text x="109.5" y="127.1">pressure</text><text x="109.5" y="130.9">1.6e-3 Pa</text>
</g>
<line x1="133.70" y1="126.30" x2="149.50" y2="126.30" stroke="#ddd" stroke-width="0.55" />
<line x1="157.50" y1="126.30" x2="173.70" y2="126.30" stroke="#ddd" stroke-width="0.55" />
<text x="153.5" y="127.5" font-size="3.2" text-anchor="middle" fill="#ddd" font-family="Liberation Sans, sans-serif">2 μm</text>
<text x="9.3" y="25.2" font-size="19" text-anchor="start" fill="#fff" font-weight="bold" >A</text>
<g clip-path="url(#clipB)">
<rect x="178" y="6" width="170" height="126" fill="#999" filter="url(#temf)"/>
<polygon points="277.6,24.6 312.0,32.9 313.4,40.4 309.9,65.7 304.5,74.7 303.0,88.1 297.0,98.5 288.1,107.5 279.1,110.5 267.2,107.5 259.7,104.5 255.3,107.5 244.8,107.5 232.9,104.5 222.5,97.0 221.0,77.7 227.0,61.3 235.9,56.8 250.8,56.8 262.7,61.3 267.2,59.8 268.7,47.8 273.2,31.4" fill="none" stroke="#d0d0d0" stroke-width="1.6" opacity="0.7" filter="url(#blur08)" stroke-linejoin="round"/>
<clipPath id="silc"><polygon points="277.6,24.6 312.0,32.9 313.4,40.4 309.9,65.7 304.5,74.7 303.0,88.1 297.0,98.5 288.1,107.5 279.1,110.5 267.2,107.5 259.7,104.5 255.3,107.5 244.8,107.5 232.9,104.5 222.5,97.0 221.0,77.7 227.0,61.3 235.9,56.8 250.8,56.8 262.7,61.3 267.2,59.8 268.7,47.8 273.2,31.4"/></clipPath>
<polygon points="277.6,24.6 312.0,32.9 313.4,40.4 309.9,65.7 304.5,74.7 303.0,88.1 297.0,98.5 288.1,107.5 279.1,110.5 267.2,107.5 259.7,104.5 255.3,107.5 244.8,107.5 232.9,104.5 222.5,97.0 221.0,77.7 227.0,61.3 235.9,56.8 250.8,56.8 262.7,61.3 267.2,59.8 268.7,47.8 273.2,31.4" fill="#7e7e7e"/>
<g clip-path="url(#silc)">
<polygon points="271,31 306,38 305,62 299,69 269,65 268,44" fill="#2e2e2e" filter="url(#blur3)"/>
<polygon points="225,63 263,65 265,98 258,106 231,104 222,90 223,72" fill="#2c2c2c" filter="url(#blur3)"/>
<polygon points="265,69 301,75 298,96 286,108 267,108 261,97" fill="#3c3c3c" filter="url(#blur3)"/>
<rect x="215" y="20" width="105" height="95" fill="#000" filter="url(#temt)" opacity="0.35"/>
</g>
</g>
<text x="182.9" y="125.8" font-size="7.4" fill="#f4f4f4" stroke="#f4f4f4" stroke-width="0.25" font-family="Liberation Serif, serif" textLength="15.0" lengthAdjust="spacingAndGlyphs">100</text>
<text x="203.2" y="125.8" font-size="7.4" fill="#f4f4f4" stroke="#f4f4f4" stroke-width="0.25" font-family="Liberation Serif, serif" textLength="9.8" lengthAdjust="spacingAndGlyphs">nm</text>
<line x1="182.80" y1="128.70" x2="235.10" y2="128.70" stroke="#f0f0f0" stroke-width="0.9" />
<text x="181.6" y="24.2" font-size="19" text-anchor="start" fill="#fff" font-weight="bold" >B</text>
<text x="8.3" y="151.7" font-size="19" text-anchor="start" fill="#000" font-weight="bold" >C</text>
<polyline points="27.00,223.35 27.60,222.96 28.20,223.51 28.80,222.55 29.40,223.05 30.00,222.66 30.60,222.08 31.20,222.55 31.80,221.71 32.40,222.09 33.00,221.40 33.60,221.25 34.20,221.53 34.80,221.92 35.40,220.75 36.00,220.71 36.60,221.10 37.20,221.46 37.80,221.04 38.40,220.88 39.00,221.79 39.60,220.58 39.93,221.27 40.58,156.90 41.08,156.90 41.73,221.56 42.00,221.06 42.60,221.37 43.20,222.11 43.80,221.25 44.40,221.85 45.00,221.96 45.60,221.62 46.20,221.90 46.80,221.25 47.40,221.28 48.00,221.52 48.60,222.22 49.20,221.90 49.80,221.77 50.40,222.19 51.00,222.03 51.60,221.85 52.20,222.58 52.80,222.48 53.40,221.88 53.97,222.26 54.62,188.70 55.12,188.70 55.77,222.36 55.80,222.69 56.40,222.10 57.00,223.11 57.60,221.93 58.20,222.39 58.80,222.89 59.40,222.08 60.00,222.58 60.60,222.01 61.20,222.96 61.80,223.15 62.40,222.94 63.00,223.43 63.60,222.70 64.20,223.29 64.80,223.21 65.40,223.25 66.00,223.14 66.60,223.72 67.20,223.90 67.80,223.28 68.40,223.59 69.00,222.78 69.60,223.72 70.20,223.69 70.80,224.21 71.40,224.01 72.00,223.30 72.60,223.48 73.20,223.92 73.80,223.05 74.40,223.71 74.44,223.76 75.09,198.60 75.59,198.60 76.25,223.88 76.80,224.30 77.40,223.44 78.00,223.65 78.60,223.89 79.20,224.60 79.80,223.53 80.40,224.09 81.00,224.27 81.60,224.78 82.20,224.73 82.80,224.83 82.83,224.32 83.48,210.60 83.98,210.60 84.63,224.44 85.20,225.02 85.80,225.16 86.40,224.07 87.00,224.15 87.60,224.26 88.20,224.31 88.80,224.70 89.40,224.88 90.00,224.47 90.60,224.15 90.63,224.84 91.28,219.50 91.78,219.50 92.43,224.96 93.00,225.63 93.60,225.30 94.20,225.09 94.80,225.27 95.40,225.39 96.00,224.55 96.60,225.77 97.20,225.64 97.80,225.81 98.40,225.74 99.00,225.20 99.60,225.25 100.20,224.87 100.80,225.65 101.40,224.88 102.00,224.93 102.60,225.16 103.20,225.13 103.80,225.42 104.40,225.05 104.87,225.70 105.52,218.30 106.02,218.30 106.67,225.81 106.80,225.63 107.40,225.19 108.00,226.41 108.60,226.08 109.20,225.47 109.80,225.65 110.40,225.82 111.00,225.88 111.30,226.08 111.95,219.60 112.45,219.60 113.10,226.19 113.40,226.16 114.00,226.22 114.60,225.70 115.20,225.76 115.80,226.13 116.40,226.06 116.95,226.42 117.60,221.00 118.10,221.00 118.75,226.53 118.80,227.16 119.40,226.60 120.00,226.11 120.60,226.69 121.20,225.99 121.80,226.72 122.40,227.38 123.00,227.25 123.60,227.04 124.20,226.46 124.80,226.64 125.40,226.39 126.00,227.26 126.60,226.95 127.20,227.33 127.80,226.72 128.40,226.60 129.00,227.45 129.60,227.73 130.20,227.57 130.80,227.53 131.40,227.58 132.00,227.49 132.60,226.80 133.20,227.24 133.72,227.24 134.38,221.80 134.88,221.80 135.53,227.32 135.60,227.02 136.20,227.02 136.80,227.65 137.40,228.05 138.00,227.36 138.60,228.08 139.20,228.18 139.80,228.16 140.16,227.54 140.81,224.00 141.31,224.00 141.96,227.62 142.20,227.21 142.80,227.25 143.40,227.86 144.00,228.28 144.60,228.22 145.20,227.74 145.80,228.01 146.40,228.25 147.00,227.27 147.60,228.11 148.20,228.49 148.80,228.33 149.40,228.32 150.00,227.96 150.60,227.57 151.20,228.46 151.80,227.84 152.40,228.53 153.00,228.80 153.60,228.02 154.20,228.05 154.80,228.84 155.40,228.56 156.00,227.81 156.60,227.78 157.20,227.84 157.80,228.92 158.40,228.82 159.00,227.92 159.60,228.90 160.20,229.14 160.80,228.72 161.40,228.32 162.00,228.62 162.60,228.06" fill="none" stroke="#f01010" stroke-width="1.35" stroke-linejoin="round" />
<line x1="40.90" y1="217.50" x2="40.90" y2="237.80" stroke="#000" stroke-width="1.0" />
<line x1="54.87" y1="237.80" x2="54.87" y2="235.60" stroke="#000" stroke-width="0.8" />
<line x1="75.34" y1="237.80" x2="75.34" y2="236.40" stroke="#000" stroke-width="0.8" />
<line x1="83.73" y1="237.80" x2="83.73" y2="236.40" stroke="#000" stroke-width="0.8" />
<line x1="105.77" y1="237.80" x2="105.77" y2="236.90" stroke="#000" stroke-width="0.8" />
<line x1="112.20" y1="237.80" x2="112.20" y2="236.90" stroke="#000" stroke-width="0.8" />
<line x1="117.85" y1="237.80" x2="117.85" y2="237.10" stroke="#000" stroke-width="0.8" />
<rect x="26.5" y="136.5" width="137" height="110" fill="none" stroke="#262626" stroke-width="1.1"/>
<line x1="26.50" y1="237.80" x2="163.50" y2="237.80" stroke="#262626" stroke-width="1.1" />
<line x1="26.80" y1="246.50" x2="26.80" y2="248.20" stroke="#262626" stroke-width="0.8" />
<line x1="46.30" y1="246.50" x2="46.30" y2="248.20" stroke="#262626" stroke-width="0.8" />
<line x1="65.80" y1="246.50" x2="65.80" y2="248.20" stroke="#262626" stroke-width="0.8" />
<line x1="85.30" y1="246.50" x2="85.30" y2="248.20" stroke="#262626" stroke-width="0.8" />
<line x1="104.80" y1="246.50" x2="104.80" y2="248.20" stroke="#262626" stroke-width="0.8" />
<line x1="124.30" y1="246.50" x2="124.30" y2="248.20" stroke="#262626" stroke-width="0.8" />
<line x1="143.80" y1="246.50" x2="143.80" y2="248.20" stroke="#262626" stroke-width="0.8" />
<line x1="163.30" y1="246.50" x2="163.30" y2="248.20" stroke="#262626" stroke-width="0.8" />
<line x1="36.55" y1="246.50" x2="36.55" y2="247.60" stroke="#262626" stroke-width="0.7" />
<line x1="56.05" y1="246.50" x2="56.05" y2="247.60" stroke="#262626" stroke-width="0.7" />
<line x1="75.55" y1="246.50" x2="75.55" y2="247.60" stroke="#262626" stroke-width="0.7" />
<line x1="95.05" y1="246.50" x2="95.05" y2="247.60" stroke="#262626" stroke-width="0.7" />
<line x1="114.55" y1="246.50" x2="114.55" y2="247.60" stroke="#262626" stroke-width="0.7" />
<line x1="134.05" y1="246.50" x2="134.05" y2="247.60" stroke="#262626" stroke-width="0.7" />
<line x1="153.55" y1="246.50" x2="153.55" y2="247.60" stroke="#262626" stroke-width="0.7" />
<text x="27.2" y="255.4" font-size="7.3" text-anchor="middle" fill="#000" font-weight="bold" >10</text>
<text x="46.7" y="255.4" font-size="7.3" text-anchor="middle" fill="#000" font-weight="bold" >20</text>
<text x="66.2" y="255.4" font-size="7.3" text-anchor="middle" fill="#000" font-weight="bold" >30</text>
<text x="85.7" y="255.4" font-size="7.3" text-anchor="middle" fill="#000" font-weight="bold" >40</text>
<text x="105.2" y="255.4" font-size="7.3" text-anchor="middle" fill="#000" font-weight="bold" >50</text>
<text x="124.7" y="255.4" font-size="7.3" text-anchor="middle" fill="#000" font-weight="bold" >60</text>
<text x="144.2" y="255.4" font-size="7.3" text-anchor="middle" fill="#000" font-weight="bold" >70</text>
<text x="163.7" y="255.4" font-size="7.3" text-anchor="middle" fill="#000" font-weight="bold" >80</text>
<text x="94.9" y="265.4" font-size="8.6" text-anchor="middle" fill="#000" font-weight="bold" >2θ/degree</text>
<text x="20.2" y="191.1" font-size="8.0" text-anchor="middle" fill="#000" font-weight="bold" textLength="48.2" lengthAdjust="spacingAndGlyphs" transform="rotate(-90 20.2 191.1)">Intensity/a.u.</text>
<text x="157.0" y="148.9" font-size="7.0" text-anchor="end" fill="#000" font-weight="bold" >NiFe-PBA</text>
<text x="161.8" y="244.0" font-size="5.3" text-anchor="end" fill="#000" font-weight="bold" >PB (JCPDS No. 73-0687)</text>
<text x="42.8" y="149.2" font-size="5.9" text-anchor="middle" fill="#000" font-weight="bold" transform="rotate(-90 42.8 149.2)">(200)</text>
<text x="56.9" y="181.2" font-size="5.9" text-anchor="middle" fill="#000" font-weight="bold" transform="rotate(-90 56.9 181.2)">(220)</text>
<text x="77.3" y="191.3" font-size="5.9" text-anchor="middle" fill="#000" font-weight="bold" transform="rotate(-90 77.3 191.3)">(400)</text>
<text x="85.7" y="202.1" font-size="5.9" text-anchor="middle" fill="#000" font-weight="bold" transform="rotate(-90 85.7 202.1)">(420)</text>
<text x="93.5" y="214.4" font-size="5.9" text-anchor="middle" fill="#000" font-weight="bold" transform="rotate(-90 93.5 214.4)">(422)</text>
<text x="107.8" y="211.1" font-size="5.9" text-anchor="middle" fill="#000" font-weight="bold" transform="rotate(-90 107.8 211.1)">(440)</text>
<text x="114.2" y="211.9" font-size="5.9" text-anchor="middle" fill="#000" font-weight="bold" transform="rotate(-90 114.2 211.9)">(600)</text>
<text x="119.9" y="213.3" font-size="5.9" text-anchor="middle" fill="#000" font-weight="bold" transform="rotate(-90 119.9 213.3)">(620)</text>
<text x="136.6" y="216.2" font-size="5.9" text-anchor="middle" fill="#000" font-weight="bold" transform="rotate(-90 136.6 216.2)">(640)</text>
<text x="143.1" y="216.2" font-size="5.9" text-anchor="middle" fill="#000" font-weight="bold" transform="rotate(-90 143.1 216.2)">(642)</text>
<text x="66.0" y="215.2" font-size="5.3" text-anchor="middle" fill="#000" font-weight="bold" >Fr</text>
<path d="M66.0,220.6 L64.1,218.6 A1,1 0 0 1 66.0,217.6 A1,1 0 0 1 67.9,218.6 Z" fill="#000"/>
<text x="156.4" y="218.9" font-size="5.3" text-anchor="middle" fill="#000" font-weight="bold" >Ni</text>
<polygon points="156.30,220.30 158.30,222.40 156.30,224.50 154.30,222.40" fill="#000" stroke="none" stroke-width="1" stroke-linejoin="round" />
<text x="180.0" y="151.4" font-size="19" text-anchor="start" fill="#000" font-weight="bold" >D</text>
<polyline points="199.80,165.86 201.00,165.63 204.00,163.60 206.00,161.52 207.00,159.90 208.30,158.55 209.20,161.26 210.50,164.83 212.00,164.40 214.00,163.63 216.00,162.86 218.00,161.82 219.50,159.86 220.30,158.13 221.20,160.24 222.30,160.74 223.30,159.69 224.20,158.20 225.20,160.77 226.40,161.36 228.00,160.68 230.00,159.74 232.00,159.09 233.80,156.00 235.00,158.82 236.00,157.52 236.80,154.66 237.50,154.16 238.00,151.78 238.50,150.25 238.90,166.21 239.20,157.77 239.60,171.98 240.00,178.66 241.00,180.54 242.70,182.48 244.00,182.21 245.70,181.64 246.50,183.20 247.70,184.32 249.00,185.84 250.70,186.62 251.70,187.84 252.70,190.89 253.40,186.01 254.00,183.04 254.60,180.58 255.10,188.29 255.70,196.46 256.60,201.08 257.60,204.40 259.00,205.41 260.60,205.53 261.60,202.37 262.60,205.02 263.60,208.38 264.80,211.81 266.10,214.24 268.00,214.46 270.00,214.31 273.50,214.03 274.60,217.04 275.20,219.31 275.55,197.54 275.90,219.35 276.60,220.34 278.00,219.76 279.80,218.50 280.60,219.42 282.00,219.10 285.00,218.92 289.20,218.20 289.90,217.78 290.25,197.06 290.60,224.15 291.30,226.91 292.40,226.05 293.40,225.97 296.00,225.63 299.00,224.60 301.80,224.52 302.70,223.83 303.10,205.69 303.50,224.34 304.00,232.83 306.00,232.06 310.00,231.85 315.00,231.41 320.80,230.79 321.80,230.09 322.90,229.27 324.00,230.76 325.50,230.66 327.00,232.04 328.00,235.16 330.00,235.96 331.30,236.68 333.00,237.09 335.20,237.31" fill="none" stroke="#f01010" stroke-width="1.15" stroke-linejoin="round" />
<rect x="199.5" y="135.5" width="136" height="110" fill="none" stroke="#262626" stroke-width="1.1"/>
<line x1="335.70" y1="245.50" x2="335.70" y2="247.20" stroke="#262626" stroke-width="0.8" />
<line x1="313.04" y1="245.50" x2="313.04" y2="247.20" stroke="#262626" stroke-width="0.8" />
<line x1="290.38" y1="245.50" x2="290.38" y2="247.20" stroke="#262626" stroke-width="0.8" />
<line x1="267.72" y1="245.50" x2="267.72" y2="247.20" stroke="#262626" stroke-width="0.8" />
<line x1="245.06" y1="245.50" x2="245.06" y2="247.20" stroke="#262626" stroke-width="0.8" />
<line x1="222.40" y1="245.50" x2="222.40" y2="247.20" stroke="#262626" stroke-width="0.8" />
<line x1="199.74" y1="245.50" x2="199.74" y2="247.20" stroke="#262626" stroke-width="0.8" />
<line x1="324.37" y1="245.50" x2="324.37" y2="246.60" stroke="#262626" stroke-width="0.7" />
<line x1="301.71" y1="245.50" x2="301.71" y2="246.60" stroke="#262626" stroke-width="0.7" />
<line x1="279.05" y1="245.50" x2="279.05" y2="246.60" stroke="#262626" stroke-width="0.7" />
<line x1="256.39" y1="245.50" x2="256.39" y2="246.60" stroke="#262626" stroke-width="0.7" />
<line x1="233.73" y1="245.50" x2="233.73" y2="246.60" stroke="#262626" stroke-width="0.7" />
<line x1="211.07" y1="245.50" x2="211.07" y2="246.60" stroke="#262626" stroke-width="0.7" />
<text x="336.0" y="254.6" font-size="7.3" text-anchor="middle" fill="#000" font-weight="bold" >0</text>
<text x="313.3" y="254.6" font-size="7.3" text-anchor="middle" fill="#000" font-weight="bold" >200</text>
<text x="290.7" y="254.6" font-size="7.3" text-anchor="middle" fill="#000" font-weight="bold" >400</text>
<text x="268.0" y="254.6" font-size="7.3" text-anchor="middle" fill="#000" font-weight="bold" >600</text>
<text x="245.4" y="254.6" font-size="7.3" text-anchor="middle" fill="#000" font-weight="bold" >800</text>
<text x="222.7" y="254.6" font-size="7.3" text-anchor="middle" fill="#000" font-weight="bold" >1000</text>
<text x="200.0" y="254.6" font-size="7.3" text-anchor="middle" fill="#000" font-weight="bold" >1200</text>
<text x="267.5" y="265.3" font-size="8.9" text-anchor="middle" fill="#000" font-weight="bold" >Binding Energy/eV</text>
<text x="190.6" y="190.0" font-size="8.0" text-anchor="middle" fill="#000" font-weight="bold" textLength="48.2" lengthAdjust="spacingAndGlyphs" transform="rotate(-90 190.6 190.0)">Intensity/a.u.</text>
<text x="304.3" y="143.9" font-size="6.7" text-anchor="start" fill="#000" font-weight="bold" >NiFe-PBA</text>
<text x="304.3" y="151.5" font-size="6.7" text-anchor="start" fill="#000" font-weight="bold" >Survey</text>
<text x="237.8" y="149.1" font-size="6.1" text-anchor="middle" fill="#000" font-weight="bold" >Ni 2p</text>
<text x="254.8" y="177.8" font-size="6.1" text-anchor="middle" fill="#000" font-weight="bold" >Fe 2p</text>
<text x="275.1" y="194.9" font-size="6.1" text-anchor="middle" fill="#000" font-weight="bold" >O 1s</text>
<text x="290.5" y="194.9" font-size="6.1" text-anchor="middle" fill="#000" font-weight="bold" >N 1s</text>
<text x="303.4" y="203.7" font-size="6.1" text-anchor="middle" fill="#000" font-weight="bold" >C 1s</text>
<text x="10.2" y="286.8" font-size="19" text-anchor="start" fill="#000" font-weight="bold" >E</text>
<polygon points="29.30,348.89 30.05,348.89 30.80,348.85 31.55,348.79 32.30,348.69 33.05,348.55 33.80,348.38 34.55,348.17 35.30,347.91 36.05,347.62 36.80,347.29 37.55,346.93 38.30,346.54 39.05,346.12 39.80,345.69 40.55,345.26 41.30,344.82 42.05,344.41 42.80,344.03 43.55,343.70 44.30,343.42 45.05,343.23 45.80,343.13 46.55,343.14 47.30,343.25 48.05,343.48 48.80,343.82 49.55,344.26 50.30,344.79 51.05,345.40 51.80,346.06 52.55,346.77 53.30,347.50 54.05,348.25 54.80,349.00 55.55,349.74 56.30,350.47 57.05,351.17 57.80,351.84 58.55,352.47 59.30,353.07 60.05,353.62 60.80,354.14 61.55,354.62 62.30,355.06 63.05,355.46 63.80,355.83 64.55,356.18 65.30,356.49 66.05,356.78 66.80,357.05 67.55,357.31 68.30,357.54 69.05,357.77 69.80,357.98 70.55,358.18 71.30,358.38 72.05,358.57 72.80,358.76 73.55,358.94 74.30,359.12 75.05,359.29 75.80,359.47 76.55,359.64 77.30,359.81 78.05,359.98 78.80,360.15 79.55,360.31 80.30,360.48 81.05,360.65 81.80,360.81 82.55,360.98 83.30,361.14 84.05,361.30 84.80,361.47 85.55,361.63 86.30,361.80 87.05,361.96 87.80,362.12 88.55,362.25 89.30,362.36 90.05,362.48 90.80,362.59 90.80,362.71 90.05,362.60 89.30,362.49 88.55,362.38 87.80,362.26 87.05,362.10 86.30,361.94 85.55,361.79 84.80,361.63 84.05,361.47 83.30,361.31 82.55,361.16 81.80,361.00 81.05,360.84 80.30,360.68 79.55,360.53 78.80,360.37 78.05,360.21 77.30,360.05 76.55,359.90 75.80,359.74 75.05,359.58 74.30,359.42 73.55,359.27 72.80,359.11 72.05,358.95 71.30,358.79 70.55,358.64 69.80,358.48 69.05,358.32 68.30,358.16 67.55,358.01 66.80,357.85 66.05,357.69 65.30,357.53 64.55,357.38 63.80,357.22 63.05,357.06 62.30,356.90 61.55,356.75 60.80,356.59 60.05,356.43 59.30,356.27 58.55,356.12 57.80,355.96 57.05,355.80 56.30,355.64 55.55,355.49 54.80,355.33 54.05,355.17 53.30,355.01 52.55,354.86 51.80,354.70 51.05,354.54 50.30,354.38 49.55,354.23 48.80,354.07 48.05,353.91 47.30,353.75 46.55,353.60 45.80,353.44 45.05,353.28 44.30,353.12 43.55,352.97 42.80,352.81 42.05,352.65 41.30,352.49 40.55,352.34 39.80,352.18 39.05,352.02 38.30,351.86 37.55,351.71 36.80,351.55 36.05,351.39 35.30,351.23 34.55,351.08 33.80,350.92 33.05,350.76 32.30,350.60 31.55,350.45 30.80,350.29 30.05,350.13 29.30,349.97" fill="#fbf2cf" stroke="none" stroke-width="1" stroke-linejoin="round" />
<polygon points="30.05,350.01 30.80,350.16 31.55,350.32 32.30,350.47 33.05,350.62 33.80,350.77 34.55,350.92 35.30,351.08 36.05,351.23 36.80,351.38 37.55,351.53 38.30,351.68 39.05,351.83 39.80,351.98 40.55,352.12 41.30,352.27 42.05,352.42 42.80,352.56 43.55,352.71 44.30,352.85 45.05,352.99 45.80,353.13 46.55,353.27 47.30,353.41 48.05,353.54 48.80,353.67 49.55,353.80 50.30,353.91 51.05,354.02 51.80,354.12 52.55,354.21 53.30,354.27 54.05,354.32 54.80,354.34 55.55,354.33 56.30,354.28 57.05,354.18 57.80,354.04 58.55,353.83 59.30,353.56 60.05,353.22 60.80,352.81 61.55,352.33 62.30,351.77 63.05,351.15 63.80,350.47 64.55,349.74 65.30,348.99 66.05,348.23 66.80,347.50 67.55,346.81 68.30,346.20 69.05,345.72 69.80,345.39 70.55,345.24 71.30,345.29 72.05,345.56 72.80,346.02 73.55,346.67 74.30,347.46 75.05,348.38 75.80,349.39 76.55,350.44 77.30,351.51 78.05,352.58 78.80,353.62 79.55,354.61 80.30,355.55 81.05,356.42 81.80,357.22 82.55,357.95 83.30,358.60 84.05,359.19 84.80,359.71 85.55,360.17 86.30,360.58 87.05,360.94 87.80,361.27 88.55,361.53 89.30,361.75 90.05,361.95 90.80,362.14 91.55,362.31 92.30,362.47 93.05,362.62 93.80,362.76 94.55,362.90 95.30,363.04 96.05,363.17 96.80,363.30 97.55,363.43 98.30,363.55 99.05,363.68 99.80,363.80 100.55,363.93 101.30,364.05 102.05,364.17 102.80,364.29 103.55,364.41 104.30,364.53 105.05,364.65 105.80,364.77 106.55,364.88 107.30,365.00 108.05,365.12 108.80,365.24 109.55,365.35 110.30,365.47 111.05,365.58 111.80,365.70 112.55,365.82 112.55,365.94 111.80,365.83 111.05,365.71 110.30,365.60 109.55,365.49 108.80,365.38 108.05,365.27 107.30,365.16 106.55,365.05 105.80,364.94 105.05,364.83 104.30,364.71 103.55,364.60 102.80,364.49 102.05,364.38 101.30,364.27 100.55,364.16 99.80,364.05 99.05,363.94 98.30,363.83 97.55,363.71 96.80,363.60 96.05,363.49 95.30,363.38 94.55,363.27 93.80,363.16 93.05,363.05 92.30,362.94 91.55,362.83 90.80,362.71 90.05,362.60 89.30,362.49 88.55,362.38 87.80,362.26 87.05,362.10 86.30,361.94 85.55,361.79 84.80,361.63 84.05,361.47 83.30,361.31 82.55,361.16 81.80,361.00 81.05,360.84 80.30,360.68 79.55,360.53 78.80,360.37 78.05,360.21 77.30,360.05 76.55,359.90 75.80,359.74 75.05,359.58 74.30,359.42 73.55,359.27 72.80,359.11 72.05,358.95 71.30,358.79 70.55,358.64 69.80,358.48 69.05,358.32 68.30,358.16 67.55,358.01 66.80,357.85 66.05,357.69 65.30,357.53 64.55,357.38 63.80,357.22 63.05,357.06 62.30,356.90 61.55,356.75 60.80,356.59 60.05,356.43 59.30,356.27 58.55,356.12 57.80,355.96 57.05,355.80 56.30,355.64 55.55,355.49 54.80,355.33 54.05,355.17 53.30,355.01 52.55,354.86 51.80,354.70 51.05,354.54 50.30,354.38 49.55,354.23 48.80,354.07 48.05,353.91 47.30,353.75 46.55,353.60 45.80,353.44 45.05,353.28 44.30,353.12 43.55,352.97 42.80,352.81 42.05,352.65 41.30,352.49 40.55,352.34 39.80,352.18 39.05,352.02 38.30,351.86 37.55,351.71 36.80,351.55 36.05,351.39 35.30,351.23 34.55,351.08 33.80,350.92 33.05,350.76 32.30,350.60 31.55,350.45 30.80,350.29 30.05,350.13" fill="#e6bdf2" stroke="none" stroke-width="1" stroke-linejoin="round" />
<polygon points="48.80,353.95 49.55,354.10 50.30,354.25 51.05,354.40 51.80,354.55 52.55,354.69 53.30,354.84 54.05,354.99 54.80,355.13 55.55,355.28 56.30,355.42 57.05,355.56 57.80,355.70 58.55,355.83 59.30,355.96 60.05,356.09 60.80,356.22 61.55,356.34 62.30,356.45 63.05,356.56 63.80,356.66 64.55,356.74 65.30,356.80 66.05,356.82 66.80,356.77 67.55,356.61 68.30,356.27 69.05,355.65 69.80,354.64 70.55,353.12 71.30,351.01 72.05,348.28 72.80,345.03 73.55,341.51 74.30,338.13 75.05,335.45 75.80,334.08 76.55,334.42 77.30,336.41 78.05,339.59 78.80,343.35 79.55,347.16 80.30,350.63 81.05,353.56 81.80,355.87 82.55,357.59 83.30,358.83 84.05,359.70 84.80,360.31 85.55,360.76 86.30,361.10 87.05,361.39 87.80,361.64 88.55,361.83 89.30,362.00 90.05,362.16 90.80,362.32 91.55,362.46 92.30,362.61 93.05,362.74 93.80,362.88 94.55,363.01 95.30,363.14 96.05,363.27 96.80,363.40 97.55,363.52 98.30,363.65 99.05,363.77 99.80,363.89 100.55,364.01 101.30,364.13 102.05,364.25 102.80,364.37 102.80,364.49 102.05,364.38 101.30,364.27 100.55,364.16 99.80,364.05 99.05,363.94 98.30,363.83 97.55,363.71 96.80,363.60 96.05,363.49 95.30,363.38 94.55,363.27 93.80,363.16 93.05,363.05 92.30,362.94 91.55,362.83 90.80,362.71 90.05,362.60 89.30,362.49 88.55,362.38 87.80,362.26 87.05,362.10 86.30,361.94 85.55,361.79 84.80,361.63 84.05,361.47 83.30,361.31 82.55,361.16 81.80,361.00 81.05,360.84 80.30,360.68 79.55,360.53 78.80,360.37 78.05,360.21 77.30,360.05 76.55,359.90 75.80,359.74 75.05,359.58 74.30,359.42 73.55,359.27 72.80,359.11 72.05,358.95 71.30,358.79 70.55,358.64 69.80,358.48 69.05,358.32 68.30,358.16 67.55,358.01 66.80,357.85 66.05,357.69 65.30,357.53 64.55,357.38 63.80,357.22 63.05,357.06 62.30,356.90 61.55,356.75 60.80,356.59 60.05,356.43 59.30,356.27 58.55,356.12 57.80,355.96 57.05,355.80 56.30,355.64 55.55,355.49 54.80,355.33 54.05,355.17 53.30,355.01 52.55,354.86 51.80,354.70 51.05,354.54 50.30,354.38 49.55,354.23 48.80,354.07" fill="#c9ecf8" stroke="none" stroke-width="1" stroke-linejoin="round" />
<polygon points="70.55,358.51 71.30,358.67 72.05,358.82 72.80,358.97 73.55,359.13 74.30,359.28 75.05,359.43 75.80,359.59 76.55,359.74 77.30,359.89 78.05,360.04 78.80,360.20 79.55,360.35 80.30,360.50 81.05,360.65 81.80,360.80 82.55,360.95 83.30,361.10 84.05,361.25 84.80,361.40 85.55,361.55 86.30,361.69 87.05,361.84 87.80,361.99 88.55,362.10 89.30,362.20 90.05,362.30 90.80,362.39 91.55,362.49 92.30,362.58 93.05,362.67 93.80,362.76 94.55,362.85 95.30,362.94 96.05,363.02 96.80,363.09 97.55,363.17 98.30,363.23 99.05,363.28 99.80,363.33 100.55,363.36 101.30,363.37 102.05,363.36 102.80,363.33 103.55,363.27 104.30,363.17 105.05,363.04 105.80,362.86 106.55,362.62 107.30,362.34 108.05,361.99 108.80,361.57 109.55,361.09 110.30,360.54 111.05,359.92 111.80,359.24 112.55,358.49 113.30,357.70 114.05,356.87 114.80,356.02 115.55,355.20 116.30,354.41 117.05,353.65 117.80,352.97 118.55,352.38 119.30,351.91 120.05,351.60 120.80,351.46 121.55,351.51 122.30,351.76 123.05,352.20 123.80,352.81 124.55,353.58 125.30,354.48 126.05,355.48 126.80,356.55 127.55,357.66 128.30,358.79 129.05,359.92 129.80,361.02 130.55,362.09 131.30,363.12 132.05,364.08 132.80,364.98 133.55,365.81 134.30,366.58 135.05,367.27 135.80,367.90 136.55,368.47 137.30,368.99 138.05,369.45 138.80,369.86 139.55,370.23 140.30,370.57 141.05,370.88 141.80,371.17 142.55,371.43 143.30,371.67 144.05,371.90 144.80,372.12 145.55,372.33 146.30,372.54 147.05,372.73 147.80,372.93 148.55,373.11 149.30,373.30 150.05,373.48 150.80,373.66 151.55,373.84 152.30,374.02 153.05,374.20 153.80,374.37 154.55,374.55 155.30,374.72 156.05,374.89 156.80,375.07 157.55,375.24 158.30,375.41 159.05,375.58 159.80,375.75 160.55,375.92 161.30,376.09 162.05,376.26 162.80,376.42 163.55,376.59 164.30,376.76 165.05,376.93 165.05,377.10 164.30,376.93 163.55,376.77 162.80,376.61 162.05,376.45 161.30,376.29 160.55,376.12 159.80,375.96 159.05,375.80 158.30,375.64 157.55,375.48 156.80,375.32 156.05,375.15 155.30,374.99 154.55,374.83 153.80,374.67 153.05,374.51 152.30,374.35 151.55,374.18 150.80,374.02 150.05,373.86 149.30,373.70 148.55,373.54 147.80,373.37 147.05,373.21 146.30,373.05 145.55,372.89 144.80,372.73 144.05,372.57 143.30,372.40 142.55,372.24 141.80,372.08 141.05,371.92 140.30,371.76 139.55,371.60 138.80,371.43 138.05,371.27 137.30,371.11 136.55,370.95 135.80,370.79 135.05,370.62 134.30,370.46 133.55,370.30 132.80,370.14 132.05,369.98 131.30,369.82 130.55,369.65 129.80,369.49 129.05,369.33 128.30,369.17 127.55,369.01 126.80,368.85 126.05,368.68 125.30,368.52 124.55,368.36 123.80,368.20 123.05,368.04 122.30,367.87 121.55,367.71 120.80,367.55 120.05,367.39 119.30,367.23 118.55,367.07 117.80,366.90 117.05,366.74 116.30,366.58 115.55,366.42 114.80,366.27 114.05,366.16 113.30,366.05 112.55,365.94 111.80,365.83 111.05,365.71 110.30,365.60 109.55,365.49 108.80,365.38 108.05,365.27 107.30,365.16 106.55,365.05 105.80,364.94 105.05,364.83 104.30,364.71 103.55,364.60 102.80,364.49 102.05,364.38 101.30,364.27 100.55,364.16 99.80,364.05 99.05,363.94 98.30,363.83 97.55,363.71 96.80,363.60 96.05,363.49 95.30,363.38 94.55,363.27 93.80,363.16 93.05,363.05 92.30,362.94 91.55,362.83 90.80,362.71 90.05,362.60 89.30,362.49 88.55,362.38 87.80,362.26 87.05,362.10 86.30,361.94 85.55,361.79 84.80,361.63 84.05,361.47 83.30,361.31 82.55,361.16 81.80,361.00 81.05,360.84 80.30,360.68 79.55,360.53 78.80,360.37 78.05,360.21 77.30,360.05 76.55,359.90 75.80,359.74 75.05,359.58 74.30,359.42 73.55,359.27 72.80,359.11 72.05,358.95 71.30,358.79 70.55,358.64" fill="#f6bde0" stroke="none" stroke-width="1" stroke-linejoin="round" />
<polygon points="97.55,363.59 98.30,363.70 99.05,363.81 99.80,363.91 100.55,364.02 101.30,364.12 102.05,364.23 102.80,364.34 103.55,364.44 104.30,364.55 105.05,364.65 105.80,364.75 106.55,364.86 107.30,364.96 108.05,365.06 108.80,365.17 109.55,365.27 110.30,365.37 111.05,365.47 111.80,365.57 112.55,365.67 113.30,365.76 114.05,365.86 114.80,365.96 115.55,366.09 116.30,366.23 117.05,366.37 117.80,366.51 118.55,366.65 119.30,366.79 120.05,366.92 120.80,367.05 121.55,367.18 122.30,367.30 123.05,367.41 123.80,367.52 124.55,367.61 125.30,367.69 126.05,367.74 126.80,367.77 127.55,367.75 128.30,367.68 129.05,367.55 129.80,367.34 130.55,367.02 131.30,366.58 132.05,366.01 132.80,365.27 133.55,364.37 134.30,363.28 135.05,362.03 135.80,360.60 136.55,359.04 137.30,357.39 138.05,355.68 138.80,354.01 139.55,352.43 140.30,351.07 141.05,350.01 141.80,349.34 142.55,349.15 143.30,349.47 144.05,350.27 144.80,351.51 145.55,353.09 146.30,354.91 147.05,356.88 147.80,358.91 148.55,360.91 149.30,362.84 150.05,364.65 150.80,366.30 151.55,367.77 152.30,369.07 153.05,370.20 153.80,371.16 154.55,371.97 155.30,372.66 156.05,373.24 156.80,373.72 157.55,374.14 158.30,374.50 159.05,374.81 159.80,375.09 160.55,375.34 161.30,375.58 162.05,375.80 162.80,376.02 163.55,376.22 164.30,376.42 165.05,376.62 165.05,377.10 164.30,376.93 163.55,376.77 162.80,376.61 162.05,376.45 161.30,376.29 160.55,376.12 159.80,375.96 159.05,375.80 158.30,375.64 157.55,375.48 156.80,375.32 156.05,375.15 155.30,374.99 154.55,374.83 153.80,374.67 153.05,374.51 152.30,374.35 151.55,374.18 150.80,374.02 150.05,373.86 149.30,373.70 148.55,373.54 147.80,373.37 147.05,373.21 146.30,373.05 145.55,372.89 144.80,372.73 144.05,372.57 143.30,372.40 142.55,372.24 141.80,372.08 141.05,371.92 140.30,371.76 139.55,371.60 138.80,371.43 138.05,371.27 137.30,371.11 136.55,370.95 135.80,370.79 135.05,370.62 134.30,370.46 133.55,370.30 132.80,370.14 132.05,369.98 131.30,369.82 130.55,369.65 129.80,369.49 129.05,369.33 128.30,369.17 127.55,369.01 126.80,368.85 126.05,368.68 125.30,368.52 124.55,368.36 123.80,368.20 123.05,368.04 122.30,367.87 121.55,367.71 120.80,367.55 120.05,367.39 119.30,367.23 118.55,367.07 117.80,366.90 117.05,366.74 116.30,366.58 115.55,366.42 114.80,366.27 114.05,366.16 113.30,366.05 112.55,365.94 111.80,365.83 111.05,365.71 110.30,365.60 109.55,365.49 108.80,365.38 108.05,365.27 107.30,365.16 106.55,365.05 105.80,364.94 105.05,364.83 104.30,364.71 103.55,364.60 102.80,364.49 102.05,364.38 101.30,364.27 100.55,364.16 99.80,364.05 99.05,363.94 98.30,363.83 97.55,363.71" fill="#f9dfc6" stroke="none" stroke-width="1" stroke-linejoin="round" />
<polygon points="102.05,364.26 102.80,364.37 103.55,364.47 104.30,364.58 105.05,364.69 105.80,364.79 106.55,364.90 107.30,365.01 108.05,365.11 108.80,365.22 109.55,365.32 110.30,365.43 111.05,365.53 111.80,365.64 112.55,365.74 113.30,365.84 114.05,365.95 114.80,366.05 115.55,366.19 116.30,366.34 117.05,366.49 117.80,366.64 118.55,366.79 119.30,366.94 120.05,367.09 120.80,367.24 121.55,367.38 122.30,367.53 123.05,367.67 123.80,367.82 124.55,367.96 125.30,368.10 126.05,368.23 126.80,368.37 127.55,368.50 128.30,368.63 129.05,368.76 129.80,368.88 130.55,369.00 131.30,369.11 132.05,369.22 132.80,369.33 133.55,369.42 134.30,369.51 135.05,369.59 135.80,369.66 136.55,369.72 137.30,369.76 138.05,369.77 138.80,369.77 139.55,369.72 140.30,369.62 141.05,369.43 141.80,369.10 142.55,368.52 143.30,367.54 144.05,365.94 144.80,363.44 145.55,359.72 146.30,354.45 147.05,347.43 147.80,338.69 148.55,328.54 149.30,317.73 150.05,307.42 150.80,299.17 151.55,294.64 152.30,294.97 153.05,300.12 153.80,308.88 154.55,319.59 155.30,330.71 156.05,341.11 156.80,350.07 157.55,357.29 158.30,362.77 159.05,366.73 159.80,369.48 160.55,371.35 161.30,372.62 162.05,373.50 162.80,374.15 163.55,374.66 164.30,375.08 165.05,375.44 165.05,377.10 164.30,376.93 163.55,376.77 162.80,376.61 162.05,376.45 161.30,376.29 160.55,376.12 159.80,375.96 159.05,375.80 158.30,375.64 157.55,375.48 156.80,375.32 156.05,375.15 155.30,374.99 154.55,374.83 153.80,374.67 153.05,374.51 152.30,374.35 151.55,374.18 150.80,374.02 150.05,373.86 149.30,373.70 148.55,373.54 147.80,373.37 147.05,373.21 146.30,373.05 145.55,372.89 144.80,372.73 144.05,372.57 143.30,372.40 142.55,372.24 141.80,372.08 141.05,371.92 140.30,371.76 139.55,371.60 138.80,371.43 138.05,371.27 137.30,371.11 136.55,370.95 135.80,370.79 135.05,370.62 134.30,370.46 133.55,370.30 132.80,370.14 132.05,369.98 131.30,369.82 130.55,369.65 129.80,369.49 129.05,369.33 128.30,369.17 127.55,369.01 126.80,368.85 126.05,368.68 125.30,368.52 124.55,368.36 123.80,368.20 123.05,368.04 122.30,367.87 121.55,367.71 120.80,367.55 120.05,367.39 119.30,367.23 118.55,367.07 117.80,366.90 117.05,366.74 116.30,366.58 115.55,366.42 114.80,366.27 114.05,366.16 113.30,366.05 112.55,365.94 111.80,365.83 111.05,365.71 110.30,365.60 109.55,365.49 108.80,365.38 108.05,365.27 107.30,365.16 106.55,365.05 105.80,364.94 105.05,364.83 104.30,364.71 103.55,364.60 102.80,364.49 102.05,364.38" fill="#c6f2bf" stroke="none" stroke-width="1" stroke-linejoin="round" />
<polyline points="29.30,348.89 30.05,348.89 30.80,348.85 31.55,348.79 32.30,348.69 33.05,348.55 33.80,348.38 34.55,348.17 35.30,347.91 36.05,347.62 36.80,347.29 37.55,346.93 38.30,346.54 39.05,346.12 39.80,345.69 40.55,345.26 41.30,344.82 42.05,344.41 42.80,344.03 43.55,343.70 44.30,343.42 45.05,343.23 45.80,343.13 46.55,343.14 47.30,343.25 48.05,343.48 48.80,343.82 49.55,344.26 50.30,344.79 51.05,345.40 51.80,346.06 52.55,346.77 53.30,347.50 54.05,348.25 54.80,349.00 55.55,349.74 56.30,350.47 57.05,351.17 57.80,351.84 58.55,352.47 59.30,353.07 60.05,353.62 60.80,354.14 61.55,354.62 62.30,355.06 63.05,355.46 63.80,355.83 64.55,356.18 65.30,356.49 66.05,356.78 66.80,357.05 67.55,357.31 68.30,357.54 69.05,357.77 69.80,357.98 70.55,358.18 71.30,358.38 72.05,358.57 72.80,358.76 73.55,358.94 74.30,359.12 75.05,359.29 75.80,359.47 76.55,359.64 77.30,359.81 78.05,359.98 78.80,360.15 79.55,360.31 80.30,360.48 81.05,360.65 81.80,360.81 82.55,360.98 83.30,361.14 84.05,361.30 84.80,361.47 85.55,361.63 86.30,361.80 87.05,361.96 87.80,362.12 88.55,362.25 89.30,362.36 90.05,362.48 90.80,362.59" fill="none" stroke="#e6c27a" stroke-width="0.8" stroke-linejoin="round" />
<polyline points="30.05,350.01 30.80,350.16 31.55,350.32 32.30,350.47 33.05,350.62 33.80,350.77 34.55,350.92 35.30,351.08 36.05,351.23 36.80,351.38 37.55,351.53 38.30,351.68 39.05,351.83 39.80,351.98 40.55,352.12 41.30,352.27 42.05,352.42 42.80,352.56 43.55,352.71 44.30,352.85 45.05,352.99 45.80,353.13 46.55,353.27 47.30,353.41 48.05,353.54 48.80,353.67 49.55,353.80 50.30,353.91 51.05,354.02 51.80,354.12 52.55,354.21 53.30,354.27 54.05,354.32 54.80,354.34 55.55,354.33 56.30,354.28 57.05,354.18 57.80,354.04 58.55,353.83 59.30,353.56 60.05,353.22 60.80,352.81 61.55,352.33 62.30,351.77 63.05,351.15 63.80,350.47 64.55,349.74 65.30,348.99 66.05,348.23 66.80,347.50 67.55,346.81 68.30,346.20 69.05,345.72 69.80,345.39 70.55,345.24 71.30,345.29 72.05,345.56 72.80,346.02 73.55,346.67 74.30,347.46 75.05,348.38 75.80,349.39 76.55,350.44 77.30,351.51 78.05,352.58 78.80,353.62 79.55,354.61 80.30,355.55 81.05,356.42 81.80,357.22 82.55,357.95 83.30,358.60 84.05,359.19 84.80,359.71 85.55,360.17 86.30,360.58 87.05,360.94 87.80,361.27 88.55,361.53 89.30,361.75 90.05,361.95 90.80,362.14 91.55,362.31 92.30,362.47 93.05,362.62 93.80,362.76 94.55,362.90 95.30,363.04 96.05,363.17 96.80,363.30 97.55,363.43 98.30,363.55 99.05,363.68 99.80,363.80 100.55,363.93 101.30,364.05 102.05,364.17 102.80,364.29 103.55,364.41 104.30,364.53 105.05,364.65 105.80,364.77 106.55,364.88 107.30,365.00 108.05,365.12 108.80,365.24 109.55,365.35 110.30,365.47 111.05,365.58 111.80,365.70 112.55,365.82" fill="none" stroke="#b94be6" stroke-width="0.8" stroke-linejoin="round" />
<polyline points="48.80,353.95 49.55,354.10 50.30,354.25 51.05,354.40 51.80,354.55 52.55,354.69 53.30,354.84 54.05,354.99 54.80,355.13 55.55,355.28 56.30,355.42 57.05,355.56 57.80,355.70 58.55,355.83 59.30,355.96 60.05,356.09 60.80,356.22 61.55,356.34 62.30,356.45 63.05,356.56 63.80,356.66 64.55,356.74 65.30,356.80 66.05,356.82 66.80,356.77 67.55,356.61 68.30,356.27 69.05,355.65 69.80,354.64 70.55,353.12 71.30,351.01 72.05,348.28 72.80,345.03 73.55,341.51 74.30,338.13 75.05,335.45 75.80,334.08 76.55,334.42 77.30,336.41 78.05,339.59 78.80,343.35 79.55,347.16 80.30,350.63 81.05,353.56 81.80,355.87 82.55,357.59 83.30,358.83 84.05,359.70 84.80,360.31 85.55,360.76 86.30,361.10 87.05,361.39 87.80,361.64 88.55,361.83 89.30,362.00 90.05,362.16 90.80,362.32 91.55,362.46 92.30,362.61 93.05,362.74 93.80,362.88 94.55,363.01 95.30,363.14 96.05,363.27 96.80,363.40 97.55,363.52 98.30,363.65 99.05,363.77 99.80,363.89 100.55,364.01 101.30,364.13 102.05,364.25 102.80,364.37" fill="none" stroke="#69c6ee" stroke-width="0.8" stroke-linejoin="round" />
<polyline points="70.55,358.51 71.30,358.67 72.05,358.82 72.80,358.97 73.55,359.13 74.30,359.28 75.05,359.43 75.80,359.59 76.55,359.74 77.30,359.89 78.05,360.04 78.80,360.20 79.55,360.35 80.30,360.50 81.05,360.65 81.80,360.80 82.55,360.95 83.30,361.10 84.05,361.25 84.80,361.40 85.55,361.55 86.30,361.69 87.05,361.84 87.80,361.99 88.55,362.10 89.30,362.20 90.05,362.30 90.80,362.39 91.55,362.49 92.30,362.58 93.05,362.67 93.80,362.76 94.55,362.85 95.30,362.94 96.05,363.02 96.80,363.09 97.55,363.17 98.30,363.23 99.05,363.28 99.80,363.33 100.55,363.36 101.30,363.37 102.05,363.36 102.80,363.33 103.55,363.27 104.30,363.17 105.05,363.04 105.80,362.86 106.55,362.62 107.30,362.34 108.05,361.99 108.80,361.57 109.55,361.09 110.30,360.54 111.05,359.92 111.80,359.24 112.55,358.49 113.30,357.70 114.05,356.87 114.80,356.02 115.55,355.20 116.30,354.41 117.05,353.65 117.80,352.97 118.55,352.38 119.30,351.91 120.05,351.60 120.80,351.46 121.55,351.51 122.30,351.76 123.05,352.20 123.80,352.81 124.55,353.58 125.30,354.48 126.05,355.48 126.80,356.55 127.55,357.66 128.30,358.79 129.05,359.92 129.80,361.02 130.55,362.09 131.30,363.12 132.05,364.08 132.80,364.98 133.55,365.81 134.30,366.58 135.05,367.27 135.80,367.90 136.55,368.47 137.30,368.99 138.05,369.45 138.80,369.86 139.55,370.23 140.30,370.57 141.05,370.88 141.80,371.17 142.55,371.43 143.30,371.67 144.05,371.90 144.80,372.12 145.55,372.33 146.30,372.54 147.05,372.73 147.80,372.93 148.55,373.11 149.30,373.30 150.05,373.48 150.80,373.66 151.55,373.84 152.30,374.02 153.05,374.20 153.80,374.37 154.55,374.55 155.30,374.72 156.05,374.89 156.80,375.07 157.55,375.24 158.30,375.41 159.05,375.58 159.80,375.75 160.55,375.92 161.30,376.09 162.05,376.26 162.80,376.42 163.55,376.59 164.30,376.76 165.05,376.93" fill="none" stroke="#e2559f" stroke-width="0.8" stroke-linejoin="round" />
<polyline points="97.55,363.59 98.30,363.70 99.05,363.81 99.80,363.91 100.55,364.02 101.30,364.12 102.05,364.23 102.80,364.34 103.55,364.44 104.30,364.55 105.05,364.65 105.80,364.75 106.55,364.86 107.30,364.96 108.05,365.06 108.80,365.17 109.55,365.27 110.30,365.37 111.05,365.47 111.80,365.57 112.55,365.67 113.30,365.76 114.05,365.86 114.80,365.96 115.55,366.09 116.30,366.23 117.05,366.37 117.80,366.51 118.55,366.65 119.30,366.79 120.05,366.92 120.80,367.05 121.55,367.18 122.30,367.30 123.05,367.41 123.80,367.52 124.55,367.61 125.30,367.69 126.05,367.74 126.80,367.77 127.55,367.75 128.30,367.68 129.05,367.55 129.80,367.34 130.55,367.02 131.30,366.58 132.05,366.01 132.80,365.27 133.55,364.37 134.30,363.28 135.05,362.03 135.80,360.60 136.55,359.04 137.30,357.39 138.05,355.68 138.80,354.01 139.55,352.43 140.30,351.07 141.05,350.01 141.80,349.34 142.55,349.15 143.30,349.47 144.05,350.27 144.80,351.51 145.55,353.09 146.30,354.91 147.05,356.88 147.80,358.91 148.55,360.91 149.30,362.84 150.05,364.65 150.80,366.30 151.55,367.77 152.30,369.07 153.05,370.20 153.80,371.16 154.55,371.97 155.30,372.66 156.05,373.24 156.80,373.72 157.55,374.14 158.30,374.50 159.05,374.81 159.80,375.09 160.55,375.34 161.30,375.58 162.05,375.80 162.80,376.02 163.55,376.22 164.30,376.42 165.05,376.62" fill="none" stroke="#efa564" stroke-width="0.8" stroke-linejoin="round" />
<polyline points="102.05,364.26 102.80,364.37 103.55,364.47 104.30,364.58 105.05,364.69 105.80,364.79 106.55,364.90 107.30,365.01 108.05,365.11 108.80,365.22 109.55,365.32 110.30,365.43 111.05,365.53 111.80,365.64 112.55,365.74 113.30,365.84 114.05,365.95 114.80,366.05 115.55,366.19 116.30,366.34 117.05,366.49 117.80,366.64 118.55,366.79 119.30,366.94 120.05,367.09 120.80,367.24 121.55,367.38 122.30,367.53 123.05,367.67 123.80,367.82 124.55,367.96 125.30,368.10 126.05,368.23 126.80,368.37 127.55,368.50 128.30,368.63 129.05,368.76 129.80,368.88 130.55,369.00 131.30,369.11 132.05,369.22 132.80,369.33 133.55,369.42 134.30,369.51 135.05,369.59 135.80,369.66 136.55,369.72 137.30,369.76 138.05,369.77 138.80,369.77 139.55,369.72 140.30,369.62 141.05,369.43 141.80,369.10 142.55,368.52 143.30,367.54 144.05,365.94 144.80,363.44 145.55,359.72 146.30,354.45 147.05,347.43 147.80,338.69 148.55,328.54 149.30,317.73 150.05,307.42 150.80,299.17 151.55,294.64 152.30,294.97 153.05,300.12 153.80,308.88 154.55,319.59 155.30,330.71 156.05,341.11 156.80,350.07 157.55,357.29 158.30,362.77 159.05,366.73 159.80,369.48 160.55,371.35 161.30,372.62 162.05,373.50 162.80,374.15 163.55,374.66 164.30,375.08 165.05,375.44" fill="none" stroke="#45d145" stroke-width="0.8" stroke-linejoin="round" />
<polyline points="29.30,349.97 30.05,350.13 30.80,350.29 31.55,350.45 32.30,350.60 33.05,350.76 33.80,350.92 34.55,351.08 35.30,351.23 36.05,351.39 36.80,351.55 37.55,351.71 38.30,351.86 39.05,352.02 39.80,352.18 40.55,352.34 41.30,352.49 42.05,352.65 42.80,352.81 43.55,352.97 44.30,353.12 45.05,353.28 45.80,353.44 46.55,353.60 47.30,353.75 48.05,353.91 48.80,354.07 49.55,354.23 50.30,354.38 51.05,354.54 51.80,354.70 52.55,354.86 53.30,355.01 54.05,355.17 54.80,355.33 55.55,355.49 56.30,355.64 57.05,355.80 57.80,355.96 58.55,356.12 59.30,356.27 60.05,356.43 60.80,356.59 61.55,356.75 62.30,356.90 63.05,357.06 63.80,357.22 64.55,357.38 65.30,357.53 66.05,357.69 66.80,357.85 67.55,358.01 68.30,358.16 69.05,358.32 69.80,358.48 70.55,358.64 71.30,358.79 72.05,358.95 72.80,359.11 73.55,359.27 74.30,359.42 75.05,359.58 75.80,359.74 76.55,359.90 77.30,360.05 78.05,360.21 78.80,360.37 79.55,360.53 80.30,360.68 81.05,360.84 81.80,361.00 82.55,361.16 83.30,361.31 84.05,361.47 84.80,361.63 85.55,361.79 86.30,361.94 87.05,362.10 87.80,362.26 88.55,362.38 89.30,362.49 90.05,362.60 90.80,362.71 91.55,362.83 92.30,362.94 93.05,363.05 93.80,363.16 94.55,363.27 95.30,363.38 96.05,363.49 96.80,363.60 97.55,363.71 98.30,363.83 99.05,363.94 99.80,364.05 100.55,364.16 101.30,364.27 102.05,364.38 102.80,364.49 103.55,364.60 104.30,364.71 105.05,364.83 105.80,364.94 106.55,365.05 107.30,365.16 108.05,365.27 108.80,365.38 109.55,365.49 110.30,365.60 111.05,365.71 111.80,365.83 112.55,365.94 113.30,366.05 114.05,366.16 114.80,366.27 115.55,366.42 116.30,366.58 117.05,366.74 117.80,366.90 118.55,367.07 119.30,367.23 120.05,367.39 120.80,367.55 121.55,367.71 122.30,367.87 123.05,368.04 123.80,368.20 124.55,368.36 125.30,368.52 126.05,368.68 126.80,368.85 127.55,369.01 128.30,369.17 129.05,369.33 129.80,369.49 130.55,369.65 131.30,369.82 132.05,369.98 132.80,370.14 133.55,370.30 134.30,370.46 135.05,370.62 135.80,370.79 136.55,370.95 137.30,371.11 138.05,371.27 138.80,371.43 139.55,371.60 140.30,371.76 141.05,371.92 141.80,372.08 142.55,372.24 143.30,372.40 144.05,372.57 144.80,372.73 145.55,372.89 146.30,373.05 147.05,373.21 147.80,373.37 148.55,373.54 149.30,373.70 150.05,373.86 150.80,374.02 151.55,374.18 152.30,374.35 153.05,374.51 153.80,374.67 154.55,374.83 155.30,374.99 156.05,375.15 156.80,375.32 157.55,375.48 158.30,375.64 159.05,375.80 159.80,375.96 160.55,376.12 161.30,376.29 162.05,376.45 162.80,376.61 163.55,376.77 164.30,376.93 165.05,377.10" fill="none" stroke="#ec9f72" stroke-width="0.9" stroke-linejoin="round" />
<g fill="#7f9fe3"><circle cx="29.3" cy="346.9" r="0.55"/><circle cx="30.1" cy="349.2" r="0.55"/><circle cx="30.8" cy="348.5" r="0.55"/><circle cx="31.6" cy="348.8" r="0.55"/><circle cx="32.3" cy="346.4" r="0.55"/><circle cx="33.0" cy="346.6" r="0.55"/><circle cx="33.8" cy="345.9" r="0.55"/><circle cx="34.5" cy="347.6" r="0.55"/><circle cx="35.3" cy="346.0" r="0.55"/><circle cx="36.0" cy="345.4" r="0.55"/><circle cx="36.8" cy="345.9" r="0.55"/><circle cx="37.5" cy="346.9" r="0.55"/><circle cx="38.3" cy="346.3" r="0.55"/><circle cx="39.0" cy="344.6" r="0.55"/><circle cx="39.8" cy="344.1" r="0.55"/><circle cx="40.5" cy="345.8" r="0.55"/><circle cx="41.3" cy="344.6" r="0.55"/><circle cx="42.0" cy="344.6" r="0.55"/><circle cx="42.8" cy="342.7" r="0.55"/><circle cx="43.5" cy="342.3" r="0.55"/><circle cx="44.3" cy="343.7" r="0.55"/><circle cx="45.0" cy="342.8" r="0.55"/><circle cx="45.8" cy="341.7" r="0.55"/><circle cx="46.5" cy="343.9" r="0.55"/><circle cx="47.3" cy="343.1" r="0.55"/><circle cx="48.0" cy="343.6" r="0.55"/><circle cx="48.8" cy="342.0" r="0.55"/><circle cx="49.5" cy="344.3" r="0.55"/><circle cx="50.3" cy="342.6" r="0.55"/><circle cx="51.0" cy="345.0" r="0.55"/><circle cx="51.8" cy="344.3" r="0.55"/><circle cx="52.5" cy="344.4" r="0.55"/><circle cx="53.3" cy="345.4" r="0.55"/><circle cx="54.0" cy="346.9" r="0.55"/><circle cx="54.8" cy="345.6" r="0.55"/><circle cx="55.5" cy="345.7" r="0.55"/><circle cx="56.3" cy="347.3" r="0.55"/><circle cx="57.0" cy="347.0" r="0.55"/><circle cx="57.8" cy="346.9" r="0.55"/><circle cx="58.5" cy="347.0" r="0.55"/><circle cx="59.3" cy="346.7" r="0.55"/><circle cx="60.0" cy="347.1" r="0.55"/><circle cx="60.8" cy="347.4" r="0.55"/><circle cx="61.5" cy="347.3" r="0.55"/><circle cx="62.3" cy="348.2" r="0.55"/><circle cx="63.0" cy="346.7" r="0.55"/><circle cx="63.8" cy="346.9" r="0.55"/><circle cx="64.5" cy="345.5" r="0.55"/><circle cx="65.3" cy="345.4" r="0.55"/><circle cx="66.0" cy="343.9" r="0.55"/><circle cx="66.8" cy="343.8" r="0.55"/><circle cx="67.5" cy="342.4" r="0.55"/><circle cx="68.3" cy="343.3" r="0.55"/><circle cx="69.0" cy="341.8" r="0.55"/><circle cx="69.8" cy="339.6" r="0.55"/><circle cx="70.5" cy="338.8" r="0.55"/><circle cx="71.3" cy="338.1" r="0.55"/><circle cx="72.0" cy="332.9" r="0.55"/><circle cx="72.8" cy="331.0" r="0.55"/><circle cx="73.5" cy="327.4" r="0.55"/><circle cx="74.3" cy="325.2" r="0.55"/><circle cx="75.0" cy="324.4" r="0.55"/><circle cx="75.8" cy="322.9" r="0.55"/><circle cx="76.5" cy="324.5" r="0.55"/><circle cx="77.3" cy="327.5" r="0.55"/><circle cx="78.0" cy="331.5" r="0.55"/><circle cx="78.8" cy="334.9" r="0.55"/><circle cx="79.5" cy="341.4" r="0.55"/><circle cx="80.3" cy="345.7" r="0.55"/><circle cx="81.0" cy="348.7" r="0.55"/><circle cx="81.8" cy="350.5" r="0.55"/><circle cx="82.5" cy="351.9" r="0.55"/><circle cx="83.3" cy="352.3" r="0.55"/><circle cx="84.0" cy="353.5" r="0.55"/><circle cx="84.8" cy="354.1" r="0.55"/><circle cx="85.5" cy="356.5" r="0.55"/><circle cx="86.3" cy="355.9" r="0.55"/><circle cx="87.0" cy="356.2" r="0.55"/><circle cx="87.8" cy="356.5" r="0.55"/><circle cx="88.5" cy="358.7" r="0.55"/><circle cx="89.3" cy="359.0" r="0.55"/><circle cx="90.0" cy="358.7" r="0.55"/><circle cx="90.8" cy="357.8" r="0.55"/><circle cx="91.5" cy="357.8" r="0.55"/><circle cx="92.3" cy="358.1" r="0.55"/><circle cx="93.0" cy="358.8" r="0.55"/><circle cx="93.8" cy="358.2" r="0.55"/><circle cx="94.5" cy="359.2" r="0.55"/><circle cx="95.3" cy="358.9" r="0.55"/><circle cx="96.0" cy="361.0" r="0.55"/><circle cx="96.8" cy="361.1" r="0.55"/><circle cx="97.5" cy="360.1" r="0.55"/><circle cx="98.3" cy="359.3" r="0.55"/><circle cx="99.0" cy="361.2" r="0.55"/><circle cx="99.8" cy="359.5" r="0.55"/><circle cx="100.5" cy="359.6" r="0.55"/><circle cx="101.3" cy="358.6" r="0.55"/><circle cx="102.0" cy="359.6" r="0.55"/><circle cx="102.8" cy="359.8" r="0.55"/><circle cx="103.5" cy="359.8" r="0.55"/><circle cx="104.3" cy="359.0" r="0.55"/><circle cx="105.0" cy="359.7" r="0.55"/><circle cx="105.8" cy="358.3" r="0.55"/><circle cx="106.5" cy="358.9" r="0.55"/><circle cx="107.3" cy="358.3" r="0.55"/><circle cx="108.0" cy="358.9" r="0.55"/><circle cx="108.8" cy="357.7" r="0.55"/><circle cx="109.5" cy="357.4" r="0.55"/><circle cx="110.3" cy="357.9" r="0.55"/><circle cx="111.0" cy="357.3" r="0.55"/><circle cx="111.8" cy="357.7" r="0.55"/><circle cx="112.5" cy="357.0" r="0.55"/><circle cx="113.3" cy="356.9" r="0.55"/><circle cx="114.0" cy="356.0" r="0.55"/><circle cx="114.8" cy="355.6" r="0.55"/><circle cx="115.5" cy="355.5" r="0.55"/><circle cx="116.3" cy="353.5" r="0.55"/><circle cx="117.0" cy="352.6" r="0.55"/><circle cx="117.8" cy="353.6" r="0.55"/><circle cx="118.5" cy="350.8" r="0.55"/><circle cx="119.3" cy="351.7" r="0.55"/><circle cx="120.0" cy="351.0" r="0.55"/><circle cx="120.8" cy="349.1" r="0.55"/><circle cx="121.5" cy="351.1" r="0.55"/><circle cx="122.3" cy="351.4" r="0.55"/><circle cx="123.0" cy="351.0" r="0.55"/><circle cx="123.8" cy="351.8" r="0.55"/><circle cx="124.5" cy="352.6" r="0.55"/><circle cx="125.3" cy="351.4" r="0.55"/><circle cx="126.0" cy="353.0" r="0.55"/><circle cx="126.8" cy="353.6" r="0.55"/><circle cx="127.5" cy="355.3" r="0.55"/><circle cx="128.3" cy="356.2" r="0.55"/><circle cx="129.1" cy="357.2" r="0.55"/><circle cx="129.8" cy="357.3" r="0.55"/><circle cx="130.6" cy="358.8" r="0.55"/><circle cx="131.3" cy="358.6" r="0.55"/><circle cx="132.1" cy="358.7" r="0.55"/><circle cx="132.8" cy="357.2" r="0.55"/><circle cx="133.6" cy="356.3" r="0.55"/><circle cx="134.3" cy="356.0" r="0.55"/><circle cx="135.1" cy="355.9" r="0.55"/><circle cx="135.8" cy="354.5" r="0.55"/><circle cx="136.6" cy="355.7" r="0.55"/><circle cx="137.3" cy="354.1" r="0.55"/><circle cx="138.1" cy="353.3" r="0.55"/><circle cx="138.8" cy="352.3" r="0.55"/><circle cx="139.6" cy="351.3" r="0.55"/><circle cx="140.3" cy="349.7" r="0.55"/><circle cx="141.1" cy="347.3" r="0.55"/><circle cx="141.8" cy="348.0" r="0.55"/><circle cx="142.6" cy="346.3" r="0.55"/><circle cx="143.3" cy="343.7" r="0.55"/><circle cx="144.1" cy="341.4" r="0.55"/><circle cx="144.8" cy="339.1" r="0.55"/><circle cx="145.6" cy="334.6" r="0.55"/><circle cx="146.3" cy="333.0" r="0.55"/><circle cx="147.1" cy="327.4" r="0.55"/><circle cx="147.8" cy="320.6" r="0.55"/><circle cx="148.6" cy="313.3" r="0.55"/><circle cx="149.3" cy="306.8" r="0.55"/><circle cx="150.1" cy="296.1" r="0.55"/><circle cx="150.8" cy="289.9" r="0.55"/><circle cx="151.6" cy="289.0" r="0.55"/><circle cx="152.3" cy="292.2" r="0.55"/><circle cx="153.1" cy="298.7" r="0.55"/><circle cx="153.8" cy="306.8" r="0.55"/><circle cx="154.6" cy="317.6" r="0.55"/><circle cx="155.3" cy="328.3" r="0.55"/><circle cx="156.1" cy="337.1" r="0.55"/><circle cx="156.8" cy="345.9" r="0.55"/><circle cx="157.6" cy="351.7" r="0.55"/><circle cx="158.3" cy="358.2" r="0.55"/><circle cx="159.1" cy="363.7" r="0.55"/><circle cx="159.8" cy="368.2" r="0.55"/><circle cx="160.6" cy="368.9" r="0.55"/><circle cx="161.3" cy="371.0" r="0.55"/><circle cx="162.1" cy="370.7" r="0.55"/><circle cx="162.8" cy="371.9" r="0.55"/><circle cx="163.6" cy="373.5" r="0.55"/><circle cx="164.3" cy="375.4" r="0.55"/><circle cx="165.1" cy="376.1" r="0.55"/></g>
<polyline points="29.30,348.68 30.05,348.54 30.80,348.38 31.55,348.22 32.30,348.04 33.05,347.85 33.80,347.65 34.55,347.44 35.30,347.20 36.05,346.95 36.80,346.67 37.55,346.39 38.30,346.11 39.05,345.83 39.80,345.57 40.55,345.30 41.30,345.01 42.05,344.69 42.80,344.38 43.55,344.07 44.30,343.80 45.05,343.57 45.80,343.40 46.55,343.31 47.30,343.32 48.05,343.45 48.80,343.68 49.55,343.98 50.30,344.30 51.05,344.62 51.80,344.98 52.55,345.41 53.30,345.88 54.05,346.35 54.80,346.80 55.55,347.31 56.30,347.86 57.05,348.31 57.80,348.50 58.55,348.50 59.30,348.50 60.05,348.50 60.80,348.50 61.55,348.40 62.30,348.14 63.05,347.81 63.80,347.45 64.55,346.98 65.30,346.40 66.05,345.76 66.80,345.05 67.55,344.24 68.30,343.30 69.05,342.23 69.80,340.98 70.55,339.47 71.30,337.58 72.05,334.55 72.80,330.75 73.55,328.14 74.30,325.80 75.05,324.13 75.80,323.77 76.55,325.13 77.30,327.65 78.05,330.81 78.80,335.94 79.55,341.14 80.30,345.80 81.05,348.98 81.80,351.34 82.55,352.86 83.30,354.05 84.05,355.01 84.80,355.81 85.55,356.51 86.30,357.15 87.05,357.70 87.80,358.15 88.55,358.45 89.30,358.66 90.05,358.82 90.80,358.96 91.55,359.10 92.30,359.27 93.05,359.48 93.80,359.70 94.55,359.94 95.30,360.16 96.05,360.35 96.80,360.50 97.55,360.58 98.30,360.60 99.05,360.59 99.80,360.58 100.55,360.55 101.30,360.53 102.05,360.49 102.80,360.45 103.55,360.40 104.30,360.35 105.05,360.30 105.80,360.21 106.55,360.09 107.30,359.93 108.05,359.73 108.80,359.51 109.55,359.26 110.30,358.98 111.05,358.58 111.80,358.07 112.55,357.49 113.30,356.86 114.05,356.24 114.80,355.65 115.55,355.07 116.30,354.41 117.05,353.70 117.80,352.98 118.55,352.30 119.30,351.70 120.05,351.22 120.80,350.90 121.55,350.80 122.30,350.94 123.05,351.29 123.80,351.78 124.55,352.36 125.30,352.96 126.05,353.54 126.80,354.21 127.55,355.06 128.30,355.98 129.05,356.91 129.80,357.73 130.55,358.37 131.30,358.74 132.05,358.77 132.80,358.53 133.55,358.09 134.30,357.51 135.05,356.85 135.80,356.18 136.55,355.47 137.30,354.60 138.05,353.60 138.80,352.53 139.55,351.43 140.30,350.32 141.05,349.15 141.80,347.84 142.55,346.29 143.30,344.33 144.05,341.95 144.80,339.26 145.55,336.33 146.30,332.94 147.05,328.68 147.80,322.32 148.55,314.53 149.30,306.81 150.05,297.48 150.80,289.86 151.55,288.36 152.30,292.81 153.05,299.64 153.80,307.49 154.55,317.73 155.30,328.23 156.05,337.39 156.80,346.10 157.55,353.43 158.30,359.71 159.05,364.97 159.80,368.12 160.55,370.01 161.30,371.40 162.05,372.58 162.80,373.68 163.55,374.68 164.30,375.53 165.05,376.19" fill="none" stroke="#2db5e9" stroke-width="1.35" stroke-linejoin="round" />
<rect x="28.7" y="270.6" width="136.8" height="109.89999999999998" fill="none" stroke="#262626" stroke-width="1.1"/>
<text x="32.8" y="279.7" font-size="6.7" text-anchor="start" fill="#000" font-weight="bold" >NiFe-PBA</text>
<text x="32.8" y="287.8" font-size="6.8" text-anchor="start" fill="#000" font-weight="bold" >Ni 2p</text>
<text x="39.2" y="332.0" font-size="6.0" text-anchor="middle" fill="#000" font-weight="bold" >Sat.</text>
<text x="55.8" y="333.9" font-size="6.0" text-anchor="start" font-weight="bold">Ni<tspan font-size="3.84" dy="-2.4">3+</tspan></text>
<text x="66.6" y="320.8" font-size="6.0" text-anchor="start" font-weight="bold">Ni 2p<tspan font-size="4.20" dy="1.2">1/2</tspan></text>
<text x="84.7" y="331.9" font-size="6.0" text-anchor="start" font-weight="bold">Ni<tspan font-size="3.84" dy="-2.4">2+</tspan></text>
<text x="115.0" y="339.7" font-size="6.0" text-anchor="middle" fill="#000" font-weight="bold" >Sat.</text>
<text x="131.8" y="335.8" font-size="6.0" text-anchor="start" font-weight="bold">Ni<tspan font-size="3.84" dy="-2.4">3+</tspan></text>
<text x="141.9" y="285.2" font-size="6.0" text-anchor="start" font-weight="bold">Ni 2p<tspan font-size="4.20" dy="1.2">3/2</tspan></text>
<text x="136.8" y="304.9" font-size="6.0" text-anchor="start" font-weight="bold">Ni<tspan font-size="3.84" dy="-2.4">2+</tspan></text>
<line x1="42.60" y1="342.60" x2="41.12" y2="337.67" stroke="#e6c27a" stroke-width="0.8" />
<polygon points="40.20,334.60 42.65,337.21 39.59,338.12" fill="#e6c27a" stroke="none" stroke-width="1" stroke-linejoin="round" />
<line x1="64.50" y1="344.30" x2="62.61" y2="340.47" stroke="#b94be6" stroke-width="0.8" />
<polygon points="61.20,337.60 64.05,339.76 61.18,341.18" fill="#b94be6" stroke="none" stroke-width="1" stroke-linejoin="round" />
<line x1="80.90" y1="339.90" x2="84.18" y2="336.50" stroke="#69c6ee" stroke-width="0.8" />
<polygon points="86.40,334.20 85.33,337.61 83.03,335.39" fill="#69c6ee" stroke="none" stroke-width="1" stroke-linejoin="round" />
<line x1="121.60" y1="350.80" x2="118.34" y2="343.71" stroke="#e2559f" stroke-width="0.8" />
<polygon points="117.00,340.80 119.79,343.04 116.88,344.38" fill="#e2559f" stroke="none" stroke-width="1" stroke-linejoin="round" />
<line x1="142.60" y1="346.40" x2="139.36" y2="340.59" stroke="#efa564" stroke-width="0.8" />
<polygon points="137.80,337.80 140.76,339.81 137.96,341.37" fill="#efa564" stroke="none" stroke-width="1" stroke-linejoin="round" />
<line x1="148.70" y1="314.80" x2="146.25" y2="310.40" stroke="#45d145" stroke-width="0.8" />
<polygon points="144.70,307.60 147.65,309.62 144.86,311.17" fill="#45d145" stroke="none" stroke-width="1" stroke-linejoin="round" />
<line x1="155.61" y1="380.50" x2="155.61" y2="382.20" stroke="#262626" stroke-width="0.8" />
<line x1="134.48" y1="380.50" x2="134.48" y2="382.20" stroke="#262626" stroke-width="0.8" />
<line x1="113.34" y1="380.50" x2="113.34" y2="382.20" stroke="#262626" stroke-width="0.8" />
<line x1="92.20" y1="380.50" x2="92.20" y2="382.20" stroke="#262626" stroke-width="0.8" />
<line x1="71.07" y1="380.50" x2="71.07" y2="382.20" stroke="#262626" stroke-width="0.8" />
<line x1="49.94" y1="380.50" x2="49.94" y2="382.20" stroke="#262626" stroke-width="0.8" />
<line x1="28.80" y1="380.50" x2="28.80" y2="382.20" stroke="#262626" stroke-width="0.8" />
<line x1="145.04" y1="380.50" x2="145.04" y2="381.60" stroke="#262626" stroke-width="0.7" />
<line x1="123.91" y1="380.50" x2="123.91" y2="381.60" stroke="#262626" stroke-width="0.7" />
<line x1="102.77" y1="380.50" x2="102.77" y2="381.60" stroke="#262626" stroke-width="0.7" />
<line x1="81.64" y1="380.50" x2="81.64" y2="381.60" stroke="#262626" stroke-width="0.7" />
<line x1="60.50" y1="380.50" x2="60.50" y2="381.60" stroke="#262626" stroke-width="0.7" />
<line x1="39.37" y1="380.50" x2="39.37" y2="381.60" stroke="#262626" stroke-width="0.7" />
<text x="155.9" y="391.2" font-size="7.3" text-anchor="middle" fill="#000" font-weight="bold" >855</text>
<text x="134.8" y="391.2" font-size="7.3" text-anchor="middle" fill="#000" font-weight="bold" >860</text>
<text x="113.6" y="391.2" font-size="7.3" text-anchor="middle" fill="#000" font-weight="bold" >865</text>
<text x="92.5" y="391.2" font-size="7.3" text-anchor="middle" fill="#000" font-weight="bold" >870</text>
<text x="71.4" y="391.2" font-size="7.3" text-anchor="middle" fill="#000" font-weight="bold" >875</text>
<text x="50.2" y="391.2" font-size="7.3" text-anchor="middle" fill="#000" font-weight="bold" >880</text>
<text x="29.1" y="391.2" font-size="7.3" text-anchor="middle" fill="#000" font-weight="bold" >885</text>
<text x="97.2" y="402.2" font-size="8.9" text-anchor="middle" fill="#000" font-weight="bold" >Binding Energy/eV</text>
<text x="20.4" y="325.6" font-size="8.0" text-anchor="middle" fill="#000" font-weight="bold" textLength="48.2" lengthAdjust="spacingAndGlyphs" transform="rotate(-90 20.4 325.6)">Intensity/a.u.</text>
<text x="180.0" y="286.8" font-size="19" text-anchor="start" fill="#000" font-weight="bold" >F</text>
<polygon points="200.10,351.12 200.85,351.17 201.60,351.21 202.35,351.24 203.10,351.26 203.85,351.25 204.60,351.22 205.35,351.15 206.10,351.03 206.85,350.84 207.60,350.56 208.35,350.17 209.10,349.62 209.85,348.89 210.60,347.94 211.35,346.72 212.10,345.21 212.85,343.39 213.60,341.24 214.35,338.78 215.10,336.04 215.85,333.09 216.60,330.01 217.35,326.96 218.10,324.08 218.85,321.60 219.60,319.73 220.35,318.67 221.10,318.56 221.85,319.43 222.60,321.19 223.35,323.67 224.10,326.63 224.85,329.87 225.60,333.19 226.35,336.44 227.10,339.53 227.85,342.36 228.60,344.89 229.35,347.10 230.10,348.99 230.85,350.57 231.60,351.87 232.35,352.94 233.10,353.80 233.85,354.50 234.60,355.06 235.35,355.52 236.10,355.91 236.85,356.24 237.60,356.52 238.35,356.77 239.10,357.00 239.85,357.21 240.60,357.40 241.35,357.59 242.10,357.76 242.85,357.94 243.60,358.10 244.35,358.26 245.10,358.42 245.85,358.57 246.60,358.72 247.35,358.86 248.10,359.00 248.85,359.15 249.60,359.28 250.35,359.42 251.10,359.55 251.85,359.69 252.60,359.82 253.35,359.95 254.10,360.08 254.85,360.21 255.60,360.33 256.35,360.46 257.10,360.58 257.85,360.71 258.60,360.83 259.35,360.92 260.10,360.95 260.85,360.99 261.60,361.03 262.35,361.07 263.10,361.10 263.85,361.14 264.60,361.17 265.35,361.21 266.10,361.24 266.85,361.28 267.60,361.31 268.35,361.34 269.10,361.38 269.85,361.41 270.60,361.48 271.35,361.57 272.10,361.65 272.85,361.74 273.60,361.82 274.35,361.91 275.10,361.99 275.85,362.08 276.60,362.16 277.35,362.24 278.10,362.33 278.85,362.41 279.60,362.49 280.35,362.58 281.10,362.66 281.10,362.78 280.35,362.70 279.60,362.62 278.85,362.54 278.10,362.46 277.35,362.38 276.60,362.30 275.85,362.22 275.10,362.14 274.35,362.06 273.60,361.98 272.85,361.90 272.10,361.82 271.35,361.74 270.60,361.66 269.85,361.59 269.10,361.57 268.35,361.54 267.60,361.51 266.85,361.49 266.10,361.46 265.35,361.43 264.60,361.40 263.85,361.38 263.10,361.35 262.35,361.32 261.60,361.29 260.85,361.27 260.10,361.24 259.35,361.21 258.60,361.14 257.85,361.03 257.10,360.92 256.35,360.81 255.60,360.70 254.85,360.58 254.10,360.47 253.35,360.36 252.60,360.25 251.85,360.14 251.10,360.03 250.35,359.92 249.60,359.81 248.85,359.70 248.10,359.58 247.35,359.47 246.60,359.36 245.85,359.25 245.10,359.14 244.35,359.03 243.60,358.92 242.85,358.81 242.10,358.69 241.35,358.58 240.60,358.47 239.85,358.36 239.10,358.25 238.35,358.14 237.60,358.03 236.85,357.92 236.10,357.80 235.35,357.69 234.60,357.58 233.85,357.47 233.10,357.36 232.35,357.25 231.60,357.14 230.85,357.03 230.10,356.92 229.35,356.80 228.60,356.69 227.85,356.58 227.10,356.47 226.35,356.36 225.60,356.25 224.85,356.14 224.10,356.02 223.35,355.89 222.60,355.77 221.85,355.65 221.10,355.53 220.35,355.40 219.60,355.28 218.85,355.16 218.10,355.03 217.35,354.91 216.60,354.79 215.85,354.66 215.10,354.54 214.35,354.42 213.60,354.30 212.85,354.17 212.10,354.05 211.35,353.93 210.60,353.80 209.85,353.68 209.10,353.56 208.35,353.43 207.60,353.31 206.85,353.19 206.10,353.06 205.35,352.94 204.60,352.82 203.85,352.70 203.10,352.57 202.35,352.45 201.60,352.33 200.85,352.20 200.10,352.08" fill="#c5e6f6" stroke="none" stroke-width="1" stroke-linejoin="round" />
<polygon points="200.10,351.92 200.85,352.03 201.60,352.15 202.35,352.26 203.10,352.38 203.85,352.49 204.60,352.61 205.35,352.72 206.10,352.83 206.85,352.94 207.60,353.05 208.35,353.15 209.10,353.25 209.85,353.36 210.60,353.45 211.35,353.55 212.10,353.63 212.85,353.72 213.60,353.79 214.35,353.86 215.10,353.92 215.85,353.97 216.60,354.01 217.35,354.04 218.10,354.06 218.85,354.06 219.60,354.04 220.35,354.01 221.10,353.96 221.85,353.89 222.60,353.80 223.35,353.69 224.10,353.57 224.85,353.42 225.60,353.25 226.35,353.07 227.10,352.88 227.85,352.67 228.60,352.47 229.35,352.26 230.10,352.07 230.85,351.88 231.60,351.71 232.35,351.57 233.10,351.46 233.85,351.40 234.60,351.38 235.35,351.42 236.10,351.51 236.85,351.65 237.60,351.85 238.35,352.11 239.10,352.41 239.85,352.75 240.60,353.12 241.35,353.51 242.10,353.93 242.85,354.35 243.60,354.78 244.35,355.20 245.10,355.63 245.85,356.04 246.60,356.44 247.35,356.83 248.10,357.20 248.85,357.56 249.60,357.89 250.35,358.21 251.10,358.51 251.85,358.79 252.60,359.05 253.35,359.30 254.10,359.53 254.85,359.74 255.60,359.95 256.35,360.14 257.10,360.32 257.85,360.49 258.60,360.65 259.35,360.77 260.10,360.83 260.85,360.90 261.60,360.95 262.35,361.00 263.10,361.05 263.85,361.10 264.60,361.14 265.35,361.18 266.10,361.23 266.85,361.26 267.60,361.30 268.35,361.34 269.10,361.38 269.85,361.41 270.60,361.49 271.35,361.57 272.10,361.66 272.85,361.75 273.60,361.83 274.35,361.92 275.10,362.00 275.85,362.09 276.60,362.17 277.35,362.26 278.10,362.34 278.10,362.46 277.35,362.38 276.60,362.30 275.85,362.22 275.10,362.14 274.35,362.06 273.60,361.98 272.85,361.90 272.10,361.82 271.35,361.74 270.60,361.66 269.85,361.59 269.10,361.57 268.35,361.54 267.60,361.51 266.85,361.49 266.10,361.46 265.35,361.43 264.60,361.40 263.85,361.38 263.10,361.35 262.35,361.32 261.60,361.29 260.85,361.27 260.10,361.24 259.35,361.21 258.60,361.14 257.85,361.03 257.10,360.92 256.35,360.81 255.60,360.70 254.85,360.58 254.10,360.47 253.35,360.36 252.60,360.25 251.85,360.14 251.10,360.03 250.35,359.92 249.60,359.81 248.85,359.70 248.10,359.58 247.35,359.47 246.60,359.36 245.85,359.25 245.10,359.14 244.35,359.03 243.60,358.92 242.85,358.81 242.10,358.69 241.35,358.58 240.60,358.47 239.85,358.36 239.10,358.25 238.35,358.14 237.60,358.03 236.85,357.92 236.10,357.80 235.35,357.69 234.60,357.58 233.85,357.47 233.10,357.36 232.35,357.25 231.60,357.14 230.85,357.03 230.10,356.92 229.35,356.80 228.60,356.69 227.85,356.58 227.10,356.47 226.35,356.36 225.60,356.25 224.85,356.14 224.10,356.02 223.35,355.89 222.60,355.77 221.85,355.65 221.10,355.53 220.35,355.40 219.60,355.28 218.85,355.16 218.10,355.03 217.35,354.91 216.60,354.79 215.85,354.66 215.10,354.54 214.35,354.42 213.60,354.30 212.85,354.17 212.10,354.05 211.35,353.93 210.60,353.80 209.85,353.68 209.10,353.56 208.35,353.43 207.60,353.31 206.85,353.19 206.10,353.06 205.35,352.94 204.60,352.82 203.85,352.70 203.10,352.57 202.35,352.45 201.60,352.33 200.85,352.20 200.10,352.08" fill="#e3c2f2" stroke="none" stroke-width="1" stroke-linejoin="round" />
<polygon points="240.60,358.35 241.35,358.46 242.10,358.56 242.85,358.67 243.60,358.78 244.35,358.89 245.10,358.99 245.85,359.10 246.60,359.20 247.35,359.31 248.10,359.41 248.85,359.52 249.60,359.62 250.35,359.73 251.10,359.83 251.85,359.93 252.60,360.04 253.35,360.14 254.10,360.24 254.85,360.34 255.60,360.44 256.35,360.54 257.10,360.64 257.85,360.74 258.60,360.84 259.35,360.89 260.10,360.90 260.85,360.91 261.60,360.92 262.35,360.93 263.10,360.93 263.85,360.94 264.60,360.94 265.35,360.94 266.10,360.93 266.85,360.93 267.60,360.91 268.35,360.90 269.10,360.88 269.85,360.85 270.60,360.86 271.35,360.86 272.10,360.85 272.85,360.82 273.60,360.76 274.35,360.66 275.10,360.51 275.85,360.30 276.60,360.00 277.35,359.59 278.10,359.04 278.85,358.34 279.60,357.45 280.35,356.36 281.10,355.06 281.85,353.55 282.60,351.83 283.35,349.96 284.10,347.97 284.85,345.96 285.60,344.01 286.35,342.26 287.10,340.84 287.85,339.91 288.60,339.58 289.35,340.02 290.10,341.12 290.85,342.74 291.60,344.74 292.35,346.97 293.10,349.30 293.85,351.63 294.60,353.86 295.35,355.94 296.10,357.83 296.85,359.51 297.60,360.98 298.35,362.21 299.10,363.22 299.85,364.05 300.60,364.75 301.35,365.33 302.10,365.82 302.85,366.23 303.60,366.59 304.35,366.91 305.10,367.20 305.85,367.47 306.60,367.72 307.35,367.96 308.10,368.18 308.85,368.41 309.60,368.62 310.35,368.83 311.10,369.04 311.85,369.24 312.60,369.44 313.35,369.64 314.10,369.84 314.85,370.03 315.60,370.23 316.35,370.42 317.10,370.59 317.85,370.72 318.60,370.85 319.35,370.98 320.10,371.11 320.85,371.23 321.60,371.36 322.35,371.48 323.10,371.61 323.85,371.73 324.60,371.85 325.35,371.98 326.10,372.10 326.85,372.22 327.60,372.34 328.35,372.46 329.10,372.58 329.85,372.70 330.60,372.82 331.35,372.94 332.10,373.06 332.85,373.18 333.60,373.30 334.35,373.41 335.10,373.53 335.10,373.66 334.35,373.55 333.60,373.44 332.85,373.32 332.10,373.21 331.35,373.09 330.60,372.98 329.85,372.87 329.10,372.75 328.35,372.64 327.60,372.52 326.85,372.41 326.10,372.30 325.35,372.18 324.60,372.07 323.85,371.96 323.10,371.84 322.35,371.73 321.60,371.61 320.85,371.50 320.10,371.39 319.35,371.27 318.60,371.16 317.85,371.04 317.10,370.93 316.35,370.77 315.60,370.60 314.85,370.43 314.10,370.26 313.35,370.09 312.60,369.92 311.85,369.74 311.10,369.57 310.35,369.40 309.60,369.23 308.85,369.06 308.10,368.89 307.35,368.72 306.60,368.54 305.85,368.37 305.10,368.20 304.35,368.03 303.60,367.86 302.85,367.69 302.10,367.51 301.35,367.34 300.60,367.17 299.85,367.00 299.10,366.83 298.35,366.66 297.60,366.44 296.85,366.20 296.10,365.95 295.35,365.71 294.60,365.47 293.85,365.23 293.10,364.99 292.35,364.75 291.60,364.50 290.85,364.26 290.10,364.02 289.35,363.78 288.60,363.58 287.85,363.50 287.10,363.42 286.35,363.34 285.60,363.26 284.85,363.18 284.10,363.10 283.35,363.02 282.60,362.94 281.85,362.86 281.10,362.78 280.35,362.70 279.60,362.62 278.85,362.54 278.10,362.46 277.35,362.38 276.60,362.30 275.85,362.22 275.10,362.14 274.35,362.06 273.60,361.98 272.85,361.90 272.10,361.82 271.35,361.74 270.60,361.66 269.85,361.59 269.10,361.57 268.35,361.54 267.60,361.51 266.85,361.49 266.10,361.46 265.35,361.43 264.60,361.40 263.85,361.38 263.10,361.35 262.35,361.32 261.60,361.29 260.85,361.27 260.10,361.24 259.35,361.21 258.60,361.14 257.85,361.03 257.10,360.92 256.35,360.81 255.60,360.70 254.85,360.58 254.10,360.47 253.35,360.36 252.60,360.25 251.85,360.14 251.10,360.03 250.35,359.92 249.60,359.81 248.85,359.70 248.10,359.58 247.35,359.47 246.60,359.36 245.85,359.25 245.10,359.14 244.35,359.03 243.60,358.92 242.85,358.81 242.10,358.69 241.35,358.58 240.60,358.47" fill="#f6b9da" stroke="none" stroke-width="1" stroke-linejoin="round" />
<polygon points="241.35,358.46 242.10,358.57 242.85,358.68 243.60,358.78 244.35,358.89 245.10,359.00 245.85,359.11 246.60,359.21 247.35,359.32 248.10,359.43 248.85,359.53 249.60,359.64 250.35,359.74 251.10,359.85 251.85,359.95 252.60,360.06 253.35,360.16 254.10,360.27 254.85,360.37 255.60,360.48 256.35,360.58 257.10,360.68 257.85,360.78 258.60,360.88 259.35,360.95 260.10,360.96 260.85,360.98 261.60,360.99 262.35,361.01 263.10,361.02 263.85,361.03 264.60,361.04 265.35,361.05 266.10,361.06 266.85,361.07 267.60,361.08 268.35,361.08 269.10,361.08 269.85,361.08 270.60,361.12 271.35,361.17 272.10,361.21 272.85,361.26 273.60,361.29 274.35,361.33 275.10,361.36 275.85,361.38 276.60,361.40 277.35,361.41 278.10,361.41 278.85,361.40 279.60,361.38 280.35,361.35 281.10,361.30 281.85,361.24 282.60,361.15 283.35,361.03 284.10,360.86 284.85,360.63 285.60,360.30 286.35,359.82 287.10,359.10 287.85,358.00 288.60,356.35 289.35,354.05 290.10,350.78 290.85,346.28 291.60,340.41 292.35,333.20 293.10,324.91 293.85,316.08 294.60,307.61 295.35,300.74 296.10,296.86 296.85,296.96 297.60,301.09 298.35,308.26 299.10,317.08 299.85,326.33 300.60,335.09 301.35,342.79 302.10,349.17 302.85,354.17 303.60,357.93 304.35,360.66 305.10,362.61 305.85,363.99 306.60,364.98 307.35,365.73 308.10,366.31 308.85,366.80 309.60,367.22 310.35,367.60 311.10,367.94 311.85,368.26 312.60,368.56 313.35,368.84 314.10,369.11 314.85,369.37 315.60,369.62 316.35,369.86 317.10,370.08 317.85,370.25 318.60,370.42 319.35,370.58 320.10,370.74 320.85,370.89 321.60,371.04 322.35,371.18 323.10,371.33 323.85,371.47 324.60,371.61 325.35,371.74 326.10,371.88 326.85,372.01 327.60,372.15 328.35,372.28 329.10,372.41 329.85,372.54 330.60,372.66 331.35,372.79 332.10,372.92 332.85,373.04 333.60,373.17 334.35,373.29 335.10,373.42 335.10,373.66 334.35,373.55 333.60,373.44 332.85,373.32 332.10,373.21 331.35,373.09 330.60,372.98 329.85,372.87 329.10,372.75 328.35,372.64 327.60,372.52 326.85,372.41 326.10,372.30 325.35,372.18 324.60,372.07 323.85,371.96 323.10,371.84 322.35,371.73 321.60,371.61 320.85,371.50 320.10,371.39 319.35,371.27 318.60,371.16 317.85,371.04 317.10,370.93 316.35,370.77 315.60,370.60 314.85,370.43 314.10,370.26 313.35,370.09 312.60,369.92 311.85,369.74 311.10,369.57 310.35,369.40 309.60,369.23 308.85,369.06 308.10,368.89 307.35,368.72 306.60,368.54 305.85,368.37 305.10,368.20 304.35,368.03 303.60,367.86 302.85,367.69 302.10,367.51 301.35,367.34 300.60,367.17 299.85,367.00 299.10,366.83 298.35,366.66 297.60,366.44 296.85,366.20 296.10,365.95 295.35,365.71 294.60,365.47 293.85,365.23 293.10,364.99 292.35,364.75 291.60,364.50 290.85,364.26 290.10,364.02 289.35,363.78 288.60,363.58 287.85,363.50 287.10,363.42 286.35,363.34 285.60,363.26 284.85,363.18 284.10,363.10 283.35,363.02 282.60,362.94 281.85,362.86 281.10,362.78 280.35,362.70 279.60,362.62 278.85,362.54 278.10,362.46 277.35,362.38 276.60,362.30 275.85,362.22 275.10,362.14 274.35,362.06 273.60,361.98 272.85,361.90 272.10,361.82 271.35,361.74 270.60,361.66 269.85,361.59 269.10,361.57 268.35,361.54 267.60,361.51 266.85,361.49 266.10,361.46 265.35,361.43 264.60,361.40 263.85,361.38 263.10,361.35 262.35,361.32 261.60,361.29 260.85,361.27 260.10,361.24 259.35,361.21 258.60,361.14 257.85,361.03 257.10,360.92 256.35,360.81 255.60,360.70 254.85,360.58 254.10,360.47 253.35,360.36 252.60,360.25 251.85,360.14 251.10,360.03 250.35,359.92 249.60,359.81 248.85,359.70 248.10,359.58 247.35,359.47 246.60,359.36 245.85,359.25 245.10,359.14 244.35,359.03 243.60,358.92 242.85,358.81 242.10,358.69 241.35,358.58" fill="#f9e1a6" stroke="none" stroke-width="1" stroke-linejoin="round" />
<polygon points="262.35,361.20 263.10,361.22 263.85,361.24 264.60,361.27 265.35,361.29 266.10,361.31 266.85,361.33 267.60,361.35 268.35,361.37 269.10,361.39 269.85,361.41 270.60,361.47 271.35,361.54 272.10,361.62 272.85,361.69 273.60,361.75 274.35,361.82 275.10,361.89 275.85,361.96 276.60,362.02 277.35,362.09 278.10,362.15 278.85,362.21 279.60,362.27 280.35,362.33 281.10,362.38 281.85,362.43 282.60,362.48 283.35,362.52 284.10,362.55 284.85,362.57 285.60,362.58 286.35,362.58 287.10,362.55 287.85,362.50 288.60,362.43 289.35,362.43 290.10,362.44 290.85,362.41 291.60,362.32 292.35,362.18 293.10,361.97 293.85,361.71 294.60,361.38 295.35,360.99 296.10,360.54 296.85,360.05 297.60,359.53 298.35,358.96 299.10,358.35 299.85,357.77 300.60,357.26 301.35,356.83 302.10,356.54 302.85,356.41 303.60,356.46 304.35,356.70 305.10,357.13 305.85,357.73 306.60,358.46 307.35,359.30 308.10,360.21 308.85,361.15 309.60,362.11 310.35,363.05 311.10,363.97 311.85,364.84 312.60,365.66 313.35,366.42 314.10,367.12 314.85,367.75 315.60,368.32 316.35,368.84 317.10,369.29 317.85,369.64 318.60,369.96 319.35,370.24 320.10,370.49 320.85,370.71 321.60,370.92 322.35,371.10 323.10,371.28 323.85,371.44 324.60,371.60 325.35,371.75 326.10,371.89 326.85,372.03 327.60,372.17 328.35,372.30 329.10,372.44 329.85,372.57 330.60,372.70 331.35,372.83 332.10,372.95 332.85,373.08 333.60,373.20 334.35,373.33 335.10,373.45 335.10,373.66 334.35,373.55 333.60,373.44 332.85,373.32 332.10,373.21 331.35,373.09 330.60,372.98 329.85,372.87 329.10,372.75 328.35,372.64 327.60,372.52 326.85,372.41 326.10,372.30 325.35,372.18 324.60,372.07 323.85,371.96 323.10,371.84 322.35,371.73 321.60,371.61 320.85,371.50 320.10,371.39 319.35,371.27 318.60,371.16 317.85,371.04 317.10,370.93 316.35,370.77 315.60,370.60 314.85,370.43 314.10,370.26 313.35,370.09 312.60,369.92 311.85,369.74 311.10,369.57 310.35,369.40 309.60,369.23 308.85,369.06 308.10,368.89 307.35,368.72 306.60,368.54 305.85,368.37 305.10,368.20 304.35,368.03 303.60,367.86 302.85,367.69 302.10,367.51 301.35,367.34 300.60,367.17 299.85,367.00 299.10,366.83 298.35,366.66 297.60,366.44 296.85,366.20 296.10,365.95 295.35,365.71 294.60,365.47 293.85,365.23 293.10,364.99 292.35,364.75 291.60,364.50 290.85,364.26 290.10,364.02 289.35,363.78 288.60,363.58 287.85,363.50 287.10,363.42 286.35,363.34 285.60,363.26 284.85,363.18 284.10,363.10 283.35,363.02 282.60,362.94 281.85,362.86 281.10,362.78 280.35,362.70 279.60,362.62 278.85,362.54 278.10,362.46 277.35,362.38 276.60,362.30 275.85,362.22 275.10,362.14 274.35,362.06 273.60,361.98 272.85,361.90 272.10,361.82 271.35,361.74 270.60,361.66 269.85,361.59 269.10,361.57 268.35,361.54 267.60,361.51 266.85,361.49 266.10,361.46 265.35,361.43 264.60,361.40 263.85,361.38 263.10,361.35 262.35,361.32" fill="#cdf1c4" stroke="none" stroke-width="1" stroke-linejoin="round" />
<polyline points="200.10,351.12 200.85,351.17 201.60,351.21 202.35,351.24 203.10,351.26 203.85,351.25 204.60,351.22 205.35,351.15 206.10,351.03 206.85,350.84 207.60,350.56 208.35,350.17 209.10,349.62 209.85,348.89 210.60,347.94 211.35,346.72 212.10,345.21 212.85,343.39 213.60,341.24 214.35,338.78 215.10,336.04 215.85,333.09 216.60,330.01 217.35,326.96 218.10,324.08 218.85,321.60 219.60,319.73 220.35,318.67 221.10,318.56 221.85,319.43 222.60,321.19 223.35,323.67 224.10,326.63 224.85,329.87 225.60,333.19 226.35,336.44 227.10,339.53 227.85,342.36 228.60,344.89 229.35,347.10 230.10,348.99 230.85,350.57 231.60,351.87 232.35,352.94 233.10,353.80 233.85,354.50 234.60,355.06 235.35,355.52 236.10,355.91 236.85,356.24 237.60,356.52 238.35,356.77 239.10,357.00 239.85,357.21 240.60,357.40 241.35,357.59 242.10,357.76 242.85,357.94 243.60,358.10 244.35,358.26 245.10,358.42 245.85,358.57 246.60,358.72 247.35,358.86 248.10,359.00 248.85,359.15 249.60,359.28 250.35,359.42 251.10,359.55 251.85,359.69 252.60,359.82 253.35,359.95 254.10,360.08 254.85,360.21 255.60,360.33 256.35,360.46 257.10,360.58 257.85,360.71 258.60,360.83 259.35,360.92 260.10,360.95 260.85,360.99 261.60,361.03 262.35,361.07 263.10,361.10 263.85,361.14 264.60,361.17 265.35,361.21 266.10,361.24 266.85,361.28 267.60,361.31 268.35,361.34 269.10,361.38 269.85,361.41 270.60,361.48 271.35,361.57 272.10,361.65 272.85,361.74 273.60,361.82 274.35,361.91 275.10,361.99 275.85,362.08 276.60,362.16 277.35,362.24 278.10,362.33 278.85,362.41 279.60,362.49 280.35,362.58 281.10,362.66" fill="none" stroke="#52bdea" stroke-width="0.8" stroke-linejoin="round" />
<polyline points="200.10,351.92 200.85,352.03 201.60,352.15 202.35,352.26 203.10,352.38 203.85,352.49 204.60,352.61 205.35,352.72 206.10,352.83 206.85,352.94 207.60,353.05 208.35,353.15 209.10,353.25 209.85,353.36 210.60,353.45 211.35,353.55 212.10,353.63 212.85,353.72 213.60,353.79 214.35,353.86 215.10,353.92 215.85,353.97 216.60,354.01 217.35,354.04 218.10,354.06 218.85,354.06 219.60,354.04 220.35,354.01 221.10,353.96 221.85,353.89 222.60,353.80 223.35,353.69 224.10,353.57 224.85,353.42 225.60,353.25 226.35,353.07 227.10,352.88 227.85,352.67 228.60,352.47 229.35,352.26 230.10,352.07 230.85,351.88 231.60,351.71 232.35,351.57 233.10,351.46 233.85,351.40 234.60,351.38 235.35,351.42 236.10,351.51 236.85,351.65 237.60,351.85 238.35,352.11 239.10,352.41 239.85,352.75 240.60,353.12 241.35,353.51 242.10,353.93 242.85,354.35 243.60,354.78 244.35,355.20 245.10,355.63 245.85,356.04 246.60,356.44 247.35,356.83 248.10,357.20 248.85,357.56 249.60,357.89 250.35,358.21 251.10,358.51 251.85,358.79 252.60,359.05 253.35,359.30 254.10,359.53 254.85,359.74 255.60,359.95 256.35,360.14 257.10,360.32 257.85,360.49 258.60,360.65 259.35,360.77 260.10,360.83 260.85,360.90 261.60,360.95 262.35,361.00 263.10,361.05 263.85,361.10 264.60,361.14 265.35,361.18 266.10,361.23 266.85,361.26 267.60,361.30 268.35,361.34 269.10,361.38 269.85,361.41 270.60,361.49 271.35,361.57 272.10,361.66 272.85,361.75 273.60,361.83 274.35,361.92 275.10,362.00 275.85,362.09 276.60,362.17 277.35,362.26 278.10,362.34" fill="none" stroke="#b35ee2" stroke-width="0.8" stroke-linejoin="round" />
<polyline points="240.60,358.35 241.35,358.46 242.10,358.56 242.85,358.67 243.60,358.78 244.35,358.89 245.10,358.99 245.85,359.10 246.60,359.20 247.35,359.31 248.10,359.41 248.85,359.52 249.60,359.62 250.35,359.73 251.10,359.83 251.85,359.93 252.60,360.04 253.35,360.14 254.10,360.24 254.85,360.34 255.60,360.44 256.35,360.54 257.10,360.64 257.85,360.74 258.60,360.84 259.35,360.89 260.10,360.90 260.85,360.91 261.60,360.92 262.35,360.93 263.10,360.93 263.85,360.94 264.60,360.94 265.35,360.94 266.10,360.93 266.85,360.93 267.60,360.91 268.35,360.90 269.10,360.88 269.85,360.85 270.60,360.86 271.35,360.86 272.10,360.85 272.85,360.82 273.60,360.76 274.35,360.66 275.10,360.51 275.85,360.30 276.60,360.00 277.35,359.59 278.10,359.04 278.85,358.34 279.60,357.45 280.35,356.36 281.10,355.06 281.85,353.55 282.60,351.83 283.35,349.96 284.10,347.97 284.85,345.96 285.60,344.01 286.35,342.26 287.10,340.84 287.85,339.91 288.60,339.58 289.35,340.02 290.10,341.12 290.85,342.74 291.60,344.74 292.35,346.97 293.10,349.30 293.85,351.63 294.60,353.86 295.35,355.94 296.10,357.83 296.85,359.51 297.60,360.98 298.35,362.21 299.10,363.22 299.85,364.05 300.60,364.75 301.35,365.33 302.10,365.82 302.85,366.23 303.60,366.59 304.35,366.91 305.10,367.20 305.85,367.47 306.60,367.72 307.35,367.96 308.10,368.18 308.85,368.41 309.60,368.62 310.35,368.83 311.10,369.04 311.85,369.24 312.60,369.44 313.35,369.64 314.10,369.84 314.85,370.03 315.60,370.23 316.35,370.42 317.10,370.59 317.85,370.72 318.60,370.85 319.35,370.98 320.10,371.11 320.85,371.23 321.60,371.36 322.35,371.48 323.10,371.61 323.85,371.73 324.60,371.85 325.35,371.98 326.10,372.10 326.85,372.22 327.60,372.34 328.35,372.46 329.10,372.58 329.85,372.70 330.60,372.82 331.35,372.94 332.10,373.06 332.85,373.18 333.60,373.30 334.35,373.41 335.10,373.53" fill="none" stroke="#e7509c" stroke-width="0.8" stroke-linejoin="round" />
<polyline points="241.35,358.46 242.10,358.57 242.85,358.68 243.60,358.78 244.35,358.89 245.10,359.00 245.85,359.11 246.60,359.21 247.35,359.32 248.10,359.43 248.85,359.53 249.60,359.64 250.35,359.74 251.10,359.85 251.85,359.95 252.60,360.06 253.35,360.16 254.10,360.27 254.85,360.37 255.60,360.48 256.35,360.58 257.10,360.68 257.85,360.78 258.60,360.88 259.35,360.95 260.10,360.96 260.85,360.98 261.60,360.99 262.35,361.01 263.10,361.02 263.85,361.03 264.60,361.04 265.35,361.05 266.10,361.06 266.85,361.07 267.60,361.08 268.35,361.08 269.10,361.08 269.85,361.08 270.60,361.12 271.35,361.17 272.10,361.21 272.85,361.26 273.60,361.29 274.35,361.33 275.10,361.36 275.85,361.38 276.60,361.40 277.35,361.41 278.10,361.41 278.85,361.40 279.60,361.38 280.35,361.35 281.10,361.30 281.85,361.24 282.60,361.15 283.35,361.03 284.10,360.86 284.85,360.63 285.60,360.30 286.35,359.82 287.10,359.10 287.85,358.00 288.60,356.35 289.35,354.05 290.10,350.78 290.85,346.28 291.60,340.41 292.35,333.20 293.10,324.91 293.85,316.08 294.60,307.61 295.35,300.74 296.10,296.86 296.85,296.96 297.60,301.09 298.35,308.26 299.10,317.08 299.85,326.33 300.60,335.09 301.35,342.79 302.10,349.17 302.85,354.17 303.60,357.93 304.35,360.66 305.10,362.61 305.85,363.99 306.60,364.98 307.35,365.73 308.10,366.31 308.85,366.80 309.60,367.22 310.35,367.60 311.10,367.94 311.85,368.26 312.60,368.56 313.35,368.84 314.10,369.11 314.85,369.37 315.60,369.62 316.35,369.86 317.10,370.08 317.85,370.25 318.60,370.42 319.35,370.58 320.10,370.74 320.85,370.89 321.60,371.04 322.35,371.18 323.10,371.33 323.85,371.47 324.60,371.61 325.35,371.74 326.10,371.88 326.85,372.01 327.60,372.15 328.35,372.28 329.10,372.41 329.85,372.54 330.60,372.66 331.35,372.79 332.10,372.92 332.85,373.04 333.60,373.17 334.35,373.29 335.10,373.42" fill="none" stroke="#efb24f" stroke-width="0.8" stroke-linejoin="round" />
<polyline points="262.35,361.20 263.10,361.22 263.85,361.24 264.60,361.27 265.35,361.29 266.10,361.31 266.85,361.33 267.60,361.35 268.35,361.37 269.10,361.39 269.85,361.41 270.60,361.47 271.35,361.54 272.10,361.62 272.85,361.69 273.60,361.75 274.35,361.82 275.10,361.89 275.85,361.96 276.60,362.02 277.35,362.09 278.10,362.15 278.85,362.21 279.60,362.27 280.35,362.33 281.10,362.38 281.85,362.43 282.60,362.48 283.35,362.52 284.10,362.55 284.85,362.57 285.60,362.58 286.35,362.58 287.10,362.55 287.85,362.50 288.60,362.43 289.35,362.43 290.10,362.44 290.85,362.41 291.60,362.32 292.35,362.18 293.10,361.97 293.85,361.71 294.60,361.38 295.35,360.99 296.10,360.54 296.85,360.05 297.60,359.53 298.35,358.96 299.10,358.35 299.85,357.77 300.60,357.26 301.35,356.83 302.10,356.54 302.85,356.41 303.60,356.46 304.35,356.70 305.10,357.13 305.85,357.73 306.60,358.46 307.35,359.30 308.10,360.21 308.85,361.15 309.60,362.11 310.35,363.05 311.10,363.97 311.85,364.84 312.60,365.66 313.35,366.42 314.10,367.12 314.85,367.75 315.60,368.32 316.35,368.84 317.10,369.29 317.85,369.64 318.60,369.96 319.35,370.24 320.10,370.49 320.85,370.71 321.60,370.92 322.35,371.10 323.10,371.28 323.85,371.44 324.60,371.60 325.35,371.75 326.10,371.89 326.85,372.03 327.60,372.17 328.35,372.30 329.10,372.44 329.85,372.57 330.60,372.70 331.35,372.83 332.10,372.95 332.85,373.08 333.60,373.20 334.35,373.33 335.10,373.45" fill="none" stroke="#55d055" stroke-width="0.8" stroke-linejoin="round" />
<polyline points="200.10,352.08 200.85,352.20 201.60,352.33 202.35,352.45 203.10,352.57 203.85,352.70 204.60,352.82 205.35,352.94 206.10,353.06 206.85,353.19 207.60,353.31 208.35,353.43 209.10,353.56 209.85,353.68 210.60,353.80 211.35,353.93 212.10,354.05 212.85,354.17 213.60,354.30 214.35,354.42 215.10,354.54 215.85,354.66 216.60,354.79 217.35,354.91 218.10,355.03 218.85,355.16 219.60,355.28 220.35,355.40 221.10,355.53 221.85,355.65 222.60,355.77 223.35,355.89 224.10,356.02 224.85,356.14 225.60,356.25 226.35,356.36 227.10,356.47 227.85,356.58 228.60,356.69 229.35,356.80 230.10,356.92 230.85,357.03 231.60,357.14 232.35,357.25 233.10,357.36 233.85,357.47 234.60,357.58 235.35,357.69 236.10,357.80 236.85,357.92 237.60,358.03 238.35,358.14 239.10,358.25 239.85,358.36 240.60,358.47 241.35,358.58 242.10,358.69 242.85,358.81 243.60,358.92 244.35,359.03 245.10,359.14 245.85,359.25 246.60,359.36 247.35,359.47 248.10,359.58 248.85,359.70 249.60,359.81 250.35,359.92 251.10,360.03 251.85,360.14 252.60,360.25 253.35,360.36 254.10,360.47 254.85,360.58 255.60,360.70 256.35,360.81 257.10,360.92 257.85,361.03 258.60,361.14 259.35,361.21 260.10,361.24 260.85,361.27 261.60,361.29 262.35,361.32 263.10,361.35 263.85,361.38 264.60,361.40 265.35,361.43 266.10,361.46 266.85,361.49 267.60,361.51 268.35,361.54 269.10,361.57 269.85,361.59 270.60,361.66 271.35,361.74 272.10,361.82 272.85,361.90 273.60,361.98 274.35,362.06 275.10,362.14 275.85,362.22 276.60,362.30 277.35,362.38 278.10,362.46 278.85,362.54 279.60,362.62 280.35,362.70 281.10,362.78 281.85,362.86 282.60,362.94 283.35,363.02 284.10,363.10 284.85,363.18 285.60,363.26 286.35,363.34 287.10,363.42 287.85,363.50 288.60,363.58 289.35,363.78 290.10,364.02 290.85,364.26 291.60,364.50 292.35,364.75 293.10,364.99 293.85,365.23 294.60,365.47 295.35,365.71 296.10,365.95 296.85,366.20 297.60,366.44 298.35,366.66 299.10,366.83 299.85,367.00 300.60,367.17 301.35,367.34 302.10,367.51 302.85,367.69 303.60,367.86 304.35,368.03 305.10,368.20 305.85,368.37 306.60,368.54 307.35,368.72 308.10,368.89 308.85,369.06 309.60,369.23 310.35,369.40 311.10,369.57 311.85,369.74 312.60,369.92 313.35,370.09 314.10,370.26 314.85,370.43 315.60,370.60 316.35,370.77 317.10,370.93 317.85,371.04 318.60,371.16 319.35,371.27 320.10,371.39 320.85,371.50 321.60,371.61 322.35,371.73 323.10,371.84 323.85,371.96 324.60,372.07 325.35,372.18 326.10,372.30 326.85,372.41 327.60,372.52 328.35,372.64 329.10,372.75 329.85,372.87 330.60,372.98 331.35,373.09 332.10,373.21 332.85,373.32 333.60,373.44 334.35,373.55 335.10,373.66" fill="none" stroke="#b59a55" stroke-width="0.9" stroke-linejoin="round" />
<g fill="#7f9fe3"><circle cx="200.1" cy="350.5" r="0.55"/><circle cx="200.8" cy="349.4" r="0.55"/><circle cx="201.6" cy="349.9" r="0.55"/><circle cx="202.3" cy="349.5" r="0.55"/><circle cx="203.1" cy="349.2" r="0.55"/><circle cx="203.8" cy="347.9" r="0.55"/><circle cx="204.6" cy="349.6" r="0.55"/><circle cx="205.3" cy="347.4" r="0.55"/><circle cx="206.1" cy="349.0" r="0.55"/><circle cx="206.8" cy="348.2" r="0.55"/><circle cx="207.6" cy="345.0" r="0.55"/><circle cx="208.3" cy="345.1" r="0.55"/><circle cx="209.1" cy="344.9" r="0.55"/><circle cx="209.8" cy="344.1" r="0.55"/><circle cx="210.6" cy="341.4" r="0.55"/><circle cx="211.3" cy="339.5" r="0.55"/><circle cx="212.1" cy="337.6" r="0.55"/><circle cx="212.8" cy="337.4" r="0.55"/><circle cx="213.6" cy="333.2" r="0.55"/><circle cx="214.3" cy="331.9" r="0.55"/><circle cx="215.1" cy="328.5" r="0.55"/><circle cx="215.8" cy="327.4" r="0.55"/><circle cx="216.6" cy="326.4" r="0.55"/><circle cx="217.3" cy="322.1" r="0.55"/><circle cx="218.1" cy="322.0" r="0.55"/><circle cx="218.8" cy="319.9" r="0.55"/><circle cx="219.6" cy="319.9" r="0.55"/><circle cx="220.3" cy="318.7" r="0.55"/><circle cx="221.1" cy="317.1" r="0.55"/><circle cx="221.8" cy="319.0" r="0.55"/><circle cx="222.6" cy="318.7" r="0.55"/><circle cx="223.3" cy="318.5" r="0.55"/><circle cx="224.1" cy="319.7" r="0.55"/><circle cx="224.8" cy="322.4" r="0.55"/><circle cx="225.6" cy="324.7" r="0.55"/><circle cx="226.3" cy="327.6" r="0.55"/><circle cx="227.1" cy="330.6" r="0.55"/><circle cx="227.8" cy="334.2" r="0.55"/><circle cx="228.6" cy="336.7" r="0.55"/><circle cx="229.3" cy="340.7" r="0.55"/><circle cx="230.1" cy="340.9" r="0.55"/><circle cx="230.8" cy="344.8" r="0.55"/><circle cx="231.6" cy="346.5" r="0.55"/><circle cx="232.3" cy="345.7" r="0.55"/><circle cx="233.1" cy="348.7" r="0.55"/><circle cx="233.8" cy="348.9" r="0.55"/><circle cx="234.6" cy="350.1" r="0.55"/><circle cx="235.3" cy="349.2" r="0.55"/><circle cx="236.1" cy="350.1" r="0.55"/><circle cx="236.8" cy="350.8" r="0.55"/><circle cx="237.6" cy="353.0" r="0.55"/><circle cx="238.3" cy="352.6" r="0.55"/><circle cx="239.1" cy="352.5" r="0.55"/><circle cx="239.8" cy="353.1" r="0.55"/><circle cx="240.6" cy="353.1" r="0.55"/><circle cx="241.3" cy="352.9" r="0.55"/><circle cx="242.1" cy="353.4" r="0.55"/><circle cx="242.8" cy="355.6" r="0.55"/><circle cx="243.6" cy="354.4" r="0.55"/><circle cx="244.3" cy="356.3" r="0.55"/><circle cx="245.1" cy="354.8" r="0.55"/><circle cx="245.8" cy="355.0" r="0.55"/><circle cx="246.6" cy="355.8" r="0.55"/><circle cx="247.3" cy="355.1" r="0.55"/><circle cx="248.1" cy="355.8" r="0.55"/><circle cx="248.8" cy="357.4" r="0.55"/><circle cx="249.6" cy="357.3" r="0.55"/><circle cx="250.3" cy="357.3" r="0.55"/><circle cx="251.1" cy="356.9" r="0.55"/><circle cx="251.8" cy="357.8" r="0.55"/><circle cx="252.6" cy="358.0" r="0.55"/><circle cx="253.3" cy="357.1" r="0.55"/><circle cx="254.1" cy="357.6" r="0.55"/><circle cx="254.8" cy="356.0" r="0.55"/><circle cx="255.6" cy="357.9" r="0.55"/><circle cx="256.4" cy="357.2" r="0.55"/><circle cx="257.1" cy="358.1" r="0.55"/><circle cx="257.9" cy="357.9" r="0.55"/><circle cx="258.6" cy="357.0" r="0.55"/><circle cx="259.4" cy="356.4" r="0.55"/><circle cx="260.1" cy="358.7" r="0.55"/><circle cx="260.9" cy="356.6" r="0.55"/><circle cx="261.6" cy="357.5" r="0.55"/><circle cx="262.4" cy="357.2" r="0.55"/><circle cx="263.1" cy="357.0" r="0.55"/><circle cx="263.9" cy="358.2" r="0.55"/><circle cx="264.6" cy="358.7" r="0.55"/><circle cx="265.4" cy="356.8" r="0.55"/><circle cx="266.1" cy="357.8" r="0.55"/><circle cx="266.9" cy="356.9" r="0.55"/><circle cx="267.6" cy="357.5" r="0.55"/><circle cx="268.4" cy="357.0" r="0.55"/><circle cx="269.1" cy="356.4" r="0.55"/><circle cx="269.9" cy="356.3" r="0.55"/><circle cx="270.6" cy="356.4" r="0.55"/><circle cx="271.4" cy="358.1" r="0.55"/><circle cx="272.1" cy="356.9" r="0.55"/><circle cx="272.9" cy="356.1" r="0.55"/><circle cx="273.6" cy="357.7" r="0.55"/><circle cx="274.4" cy="357.7" r="0.55"/><circle cx="275.1" cy="356.1" r="0.55"/><circle cx="275.9" cy="355.1" r="0.55"/><circle cx="276.6" cy="355.0" r="0.55"/><circle cx="277.4" cy="354.5" r="0.55"/><circle cx="278.1" cy="354.8" r="0.55"/><circle cx="278.9" cy="353.8" r="0.55"/><circle cx="279.6" cy="353.8" r="0.55"/><circle cx="280.4" cy="353.3" r="0.55"/><circle cx="281.1" cy="353.3" r="0.55"/><circle cx="281.9" cy="353.2" r="0.55"/><circle cx="282.6" cy="351.7" r="0.55"/><circle cx="283.4" cy="349.6" r="0.55"/><circle cx="284.1" cy="348.2" r="0.55"/><circle cx="284.9" cy="347.1" r="0.55"/><circle cx="285.6" cy="345.1" r="0.55"/><circle cx="286.4" cy="343.1" r="0.55"/><circle cx="287.1" cy="340.4" r="0.55"/><circle cx="287.9" cy="338.7" r="0.55"/><circle cx="288.6" cy="337.7" r="0.55"/><circle cx="289.4" cy="332.2" r="0.55"/><circle cx="290.1" cy="329.2" r="0.55"/><circle cx="290.9" cy="325.0" r="0.55"/><circle cx="291.6" cy="319.1" r="0.55"/><circle cx="292.4" cy="310.0" r="0.55"/><circle cx="293.1" cy="303.1" r="0.55"/><circle cx="293.9" cy="297.3" r="0.55"/><circle cx="294.6" cy="291.7" r="0.55"/><circle cx="295.4" cy="286.7" r="0.55"/><circle cx="296.1" cy="285.2" r="0.55"/><circle cx="296.9" cy="285.7" r="0.55"/><circle cx="297.6" cy="289.1" r="0.55"/><circle cx="298.4" cy="291.6" r="0.55"/><circle cx="299.1" cy="299.0" r="0.55"/><circle cx="299.9" cy="312.5" r="0.55"/><circle cx="300.6" cy="324.1" r="0.55"/><circle cx="301.4" cy="330.0" r="0.55"/><circle cx="302.1" cy="335.9" r="0.55"/><circle cx="302.9" cy="339.0" r="0.55"/><circle cx="303.6" cy="343.8" r="0.55"/><circle cx="304.4" cy="348.3" r="0.55"/><circle cx="305.1" cy="350.8" r="0.55"/><circle cx="305.9" cy="353.2" r="0.55"/><circle cx="306.6" cy="355.6" r="0.55"/><circle cx="307.4" cy="355.4" r="0.55"/><circle cx="308.1" cy="356.4" r="0.55"/><circle cx="308.9" cy="357.8" r="0.55"/><circle cx="309.6" cy="359.9" r="0.55"/><circle cx="310.4" cy="361.4" r="0.55"/><circle cx="311.1" cy="363.0" r="0.55"/><circle cx="311.9" cy="363.3" r="0.55"/><circle cx="312.6" cy="363.8" r="0.55"/><circle cx="313.4" cy="364.7" r="0.55"/><circle cx="314.1" cy="364.4" r="0.55"/><circle cx="314.9" cy="365.1" r="0.55"/><circle cx="315.6" cy="364.2" r="0.55"/><circle cx="316.4" cy="366.5" r="0.55"/><circle cx="317.1" cy="365.4" r="0.55"/><circle cx="317.9" cy="367.5" r="0.55"/><circle cx="318.6" cy="367.1" r="0.55"/><circle cx="319.4" cy="366.5" r="0.55"/><circle cx="320.1" cy="366.4" r="0.55"/><circle cx="320.9" cy="366.9" r="0.55"/><circle cx="321.6" cy="368.2" r="0.55"/><circle cx="322.4" cy="368.6" r="0.55"/><circle cx="323.1" cy="367.4" r="0.55"/><circle cx="323.9" cy="367.5" r="0.55"/><circle cx="324.6" cy="368.9" r="0.55"/><circle cx="325.4" cy="369.3" r="0.55"/><circle cx="326.1" cy="369.0" r="0.55"/><circle cx="326.9" cy="368.8" r="0.55"/><circle cx="327.6" cy="370.0" r="0.55"/><circle cx="328.4" cy="368.7" r="0.55"/><circle cx="329.1" cy="369.6" r="0.55"/><circle cx="329.9" cy="370.2" r="0.55"/><circle cx="330.6" cy="371.7" r="0.55"/><circle cx="331.4" cy="371.1" r="0.55"/><circle cx="332.1" cy="371.8" r="0.55"/><circle cx="332.9" cy="370.9" r="0.55"/><circle cx="333.6" cy="370.4" r="0.55"/><circle cx="334.4" cy="370.5" r="0.55"/><circle cx="335.1" cy="372.5" r="0.55"/></g>
<polyline points="200.10,350.68 200.85,350.58 201.60,350.41 202.35,350.17 203.10,349.88 203.85,349.54 204.60,349.16 205.35,348.75 206.10,348.31 206.85,347.68 207.60,346.84 208.35,345.84 209.10,344.71 209.85,343.46 210.60,342.14 211.35,340.70 212.10,338.91 212.85,336.84 213.60,334.60 214.35,332.29 215.10,330.02 215.85,327.90 216.60,325.83 217.35,323.67 218.10,321.75 218.85,320.44 219.60,319.50 220.35,318.75 221.10,318.41 221.85,318.61 222.60,319.29 223.35,320.33 224.10,321.59 224.85,323.04 225.60,325.47 226.35,328.67 227.10,332.09 227.85,335.17 228.60,337.77 229.35,340.37 230.10,342.78 230.85,344.80 231.60,346.22 232.35,347.30 233.10,348.21 233.85,348.99 234.60,349.70 235.35,350.37 236.10,351.05 236.85,351.72 237.60,352.35 238.35,352.94 239.10,353.46 239.85,353.92 240.60,354.31 241.35,354.67 242.10,355.00 242.85,355.30 243.60,355.57 244.35,355.82 245.10,356.03 245.85,356.21 246.60,356.39 247.35,356.54 248.10,356.68 248.85,356.81 249.60,356.94 250.35,357.05 251.10,357.17 251.85,357.30 252.60,357.42 253.35,357.54 254.10,357.66 254.85,357.77 255.60,357.87 256.35,357.97 257.10,358.05 257.85,358.11 258.60,358.16 259.35,358.19 260.10,358.20 260.85,358.20 261.60,358.19 262.35,358.17 263.10,358.16 263.85,358.13 264.60,358.10 265.35,358.07 266.10,358.04 266.85,358.00 267.60,357.96 268.35,357.91 269.10,357.86 269.85,357.81 270.60,357.75 271.35,357.65 272.10,357.54 272.85,357.39 273.60,357.23 274.35,357.05 275.10,356.85 275.85,356.64 276.60,356.42 277.35,356.16 278.10,355.85 278.85,355.49 279.60,355.06 280.35,354.53 281.10,353.74 281.85,352.74 282.60,351.60 283.35,350.39 284.10,349.07 284.85,347.60 285.60,345.97 286.35,344.15 287.10,342.11 287.85,339.84 288.60,337.11 289.35,333.77 290.10,329.84 290.85,325.21 291.60,318.76 292.35,311.32 293.10,304.34 293.85,298.55 294.60,292.52 295.35,287.40 296.10,284.65 296.85,285.37 297.60,288.73 298.35,293.49 299.10,300.85 299.85,312.53 300.60,323.70 301.35,330.70 302.10,336.27 302.85,340.93 303.60,344.73 304.35,347.82 305.10,350.54 305.85,352.91 306.60,354.93 307.35,356.61 308.10,358.01 308.85,359.30 309.60,360.48 310.35,361.54 311.10,362.48 311.85,363.30 312.60,364.00 313.35,364.58 314.10,365.09 314.85,365.56 315.60,365.98 316.35,366.37 317.10,366.73 317.85,367.06 318.60,367.36 319.35,367.65 320.10,367.92 320.85,368.19 321.60,368.45 322.35,368.71 323.10,368.96 323.85,369.21 324.60,369.45 325.35,369.69 326.10,369.92 326.85,370.14 327.60,370.36 328.35,370.56 329.10,370.76 329.85,370.94 330.60,371.12 331.35,371.28 332.10,371.43 332.85,371.56 333.60,371.68 334.35,371.79 335.10,371.88" fill="none" stroke="#2db5e9" stroke-width="1.35" stroke-linejoin="round" />
<rect x="199.5" y="270.6" width="136.0" height="109.89999999999998" fill="none" stroke="#262626" stroke-width="1.1"/>
<text x="202.6" y="279.2" font-size="6.9" text-anchor="start" fill="#000" font-weight="bold" >NiFe-PBA</text>
<text x="202.6" y="287.8" font-size="6.9" text-anchor="start" fill="#000" font-weight="bold" >Fe 2p</text>
<text x="214.9" y="314.9" font-size="6.0" text-anchor="start" font-weight="bold">Fe 2p<tspan font-size="4.20" dy="1.2">1/2</tspan></text>
<text x="204.0" y="332.8" font-size="6.0" text-anchor="start" font-weight="bold">Fe<tspan font-size="3.84" dy="-2.4">3+</tspan></text>
<text x="242.7" y="342.8" font-size="6.0" text-anchor="start" font-weight="bold">Fe<tspan font-size="3.84" dy="-2.4">2+</tspan></text>
<text x="288.9" y="283.0" font-size="6.0" text-anchor="start" font-weight="bold">Fe 2p<tspan font-size="4.20" dy="1.2">3/2</tspan></text>
<text x="279.0" y="304.9" font-size="6.0" text-anchor="start" font-weight="bold">Fe<tspan font-size="3.84" dy="-2.4">3+</tspan></text>
<text x="279.0" y="335.7" font-size="6.0" text-anchor="middle" fill="#000" font-weight="bold" >Sat.</text>
<text x="308.7" y="346.7" font-size="6.0" text-anchor="start" font-weight="bold">Fe<tspan font-size="3.84" dy="-2.4">2+</tspan></text>
<line x1="212.90" y1="341.70" x2="209.22" y2="337.18" stroke="#52bdea" stroke-width="0.8" />
<polygon points="207.20,334.70 210.46,336.17 207.98,338.19" fill="#52bdea" stroke="none" stroke-width="1" stroke-linejoin="round" />
<line x1="239.80" y1="349.60" x2="244.09" y2="346.55" stroke="#b35ee2" stroke-width="0.8" />
<polygon points="246.70,344.70 245.02,347.86 243.16,345.25" fill="#b35ee2" stroke="none" stroke-width="1" stroke-linejoin="round" />
<line x1="291.80" y1="313.80" x2="287.96" y2="309.25" stroke="#efb24f" stroke-width="0.8" />
<polygon points="285.90,306.80 289.19,308.22 286.74,310.28" fill="#efb24f" stroke="none" stroke-width="1" stroke-linejoin="round" />
<line x1="283.90" y1="341.60" x2="281.40" y2="339.60" stroke="#e7509c" stroke-width="0.8" />
<polygon points="278.90,337.60 282.40,338.35 280.40,340.85" fill="#e7509c" stroke="none" stroke-width="1" stroke-linejoin="round" />
<line x1="305.80" y1="354.50" x2="309.44" y2="350.86" stroke="#55d055" stroke-width="0.8" />
<polygon points="311.70,348.60 310.57,351.99 308.31,349.73" fill="#55d055" stroke="none" stroke-width="1" stroke-linejoin="round" />
<line x1="321.40" y1="380.50" x2="321.40" y2="382.20" stroke="#262626" stroke-width="0.8" />
<line x1="294.22" y1="380.50" x2="294.22" y2="382.20" stroke="#262626" stroke-width="0.8" />
<line x1="267.05" y1="380.50" x2="267.05" y2="382.20" stroke="#262626" stroke-width="0.8" />
<line x1="239.88" y1="380.50" x2="239.88" y2="382.20" stroke="#262626" stroke-width="0.8" />
<line x1="212.70" y1="380.50" x2="212.70" y2="382.20" stroke="#262626" stroke-width="0.8" />
<line x1="307.81" y1="380.50" x2="307.81" y2="381.60" stroke="#262626" stroke-width="0.7" />
<line x1="280.64" y1="380.50" x2="280.64" y2="381.60" stroke="#262626" stroke-width="0.7" />
<line x1="253.46" y1="380.50" x2="253.46" y2="381.60" stroke="#262626" stroke-width="0.7" />
<line x1="226.29" y1="380.50" x2="226.29" y2="381.60" stroke="#262626" stroke-width="0.7" />
<line x1="334.99" y1="380.50" x2="334.99" y2="381.60" stroke="#262626" stroke-width="0.7" />
<text x="321.7" y="390.6" font-size="7.3" text-anchor="middle" fill="#000" font-weight="bold" >705</text>
<text x="294.5" y="390.6" font-size="7.3" text-anchor="middle" fill="#000" font-weight="bold" >710</text>
<text x="267.3" y="390.6" font-size="7.3" text-anchor="middle" fill="#000" font-weight="bold" >715</text>
<text x="240.2" y="390.6" font-size="7.3" text-anchor="middle" fill="#000" font-weight="bold" >720</text>
<text x="213.0" y="390.6" font-size="7.3" text-anchor="middle" fill="#000" font-weight="bold" >725</text>
<text x="268.8" y="401.9" font-size="8.9" text-anchor="middle" fill="#000" font-weight="bold" >Binding Energy/eV</text>
<text x="190.4" y="326.0" font-size="8.0" text-anchor="middle" fill="#000" font-weight="bold" textLength="48.2" lengthAdjust="spacingAndGlyphs" transform="rotate(-90 190.4 326.0)">Intensity/a.u.</text>
<text x="8.4" y="411.0" font-size="19" text-anchor="start" fill="#000" font-weight="bold" >G</text>
<polygon points="35.35,512.25 36.10,512.12 36.85,511.94 37.60,511.69 38.35,511.32 39.10,510.81 39.85,510.11 40.60,509.15 41.35,507.89 42.10,506.23 42.85,504.12 43.60,501.48 44.35,498.25 45.10,494.38 45.85,489.85 46.60,484.69 47.35,478.94 48.10,472.72 48.85,466.16 49.60,459.47 50.35,452.88 51.10,446.66 51.85,441.06 52.60,436.36 53.35,432.79 54.10,430.52 54.85,429.67 55.60,430.30 56.35,432.35 57.10,435.74 57.85,440.27 58.60,445.73 59.35,451.86 60.10,458.38 60.85,465.05 61.60,471.61 62.35,477.86 63.10,483.65 63.85,488.87 64.60,493.45 65.35,497.38 66.10,500.66 66.85,503.35 67.60,505.50 68.35,507.19 69.10,508.47 69.85,509.44 70.60,510.14 71.35,510.65 72.10,511.00 72.85,511.24 73.60,511.40 74.35,511.50 75.10,511.57 75.10,511.69 74.35,511.70 73.60,511.72 72.85,511.73 72.10,511.75 71.35,511.76 70.60,511.78 69.85,511.79 69.10,511.80 68.35,511.82 67.60,511.83 66.85,511.85 66.10,511.86 65.35,511.87 64.60,511.89 63.85,511.90 63.10,511.92 62.35,511.93 61.60,511.94 60.85,511.96 60.10,511.97 59.35,511.99 58.60,512.00 57.85,512.01 57.10,512.03 56.35,512.04 55.60,512.06 54.85,512.07 54.10,512.08 53.35,512.10 52.60,512.11 51.85,512.13 51.10,512.14 50.35,512.15 49.60,512.17 48.85,512.18 48.10,512.20 47.35,512.21 46.60,512.22 45.85,512.24 45.10,512.25 44.35,512.27 43.60,512.28 42.85,512.29 42.10,512.31 41.35,512.32 40.60,512.34 39.85,512.35 39.10,512.36 38.35,512.38 37.60,512.39 36.85,512.41 36.10,512.42 35.35,512.43" fill="#f7b8e2" stroke="none" stroke-width="1" stroke-linejoin="round" />
<polygon points="50.35,512.01 51.10,511.94 51.85,511.85 52.60,511.74 53.35,511.61 54.10,511.44 54.85,511.23 55.60,510.98 56.35,510.68 57.10,510.32 57.85,509.90 58.60,509.41 59.35,508.85 60.10,508.22 60.85,507.52 61.60,506.75 62.35,505.92 63.10,505.04 63.85,504.13 64.60,503.20 65.35,502.28 66.10,501.38 66.85,500.53 67.60,499.75 68.35,499.07 69.10,498.51 69.85,498.07 70.60,497.79 71.35,497.66 72.10,497.70 72.85,497.89 73.60,498.24 74.35,498.72 75.10,499.33 75.85,500.05 76.60,500.84 77.35,501.70 78.10,502.59 78.85,503.49 79.60,504.38 80.35,505.24 81.10,506.06 81.85,506.83 82.60,507.53 83.35,508.16 84.10,508.72 84.85,509.21 85.60,509.63 86.35,509.99 87.10,510.28 87.85,510.53 88.60,510.72 89.35,510.87 90.10,510.99 90.85,511.09 91.60,511.15 92.35,511.20 93.10,511.23 93.10,511.35 92.35,511.37 91.60,511.38 90.85,511.40 90.10,511.41 89.35,511.42 88.60,511.44 87.85,511.45 87.10,511.47 86.35,511.48 85.60,511.49 84.85,511.51 84.10,511.52 83.35,511.54 82.60,511.55 81.85,511.56 81.10,511.58 80.35,511.59 79.60,511.61 78.85,511.62 78.10,511.63 77.35,511.65 76.60,511.66 75.85,511.68 75.10,511.69 74.35,511.70 73.60,511.72 72.85,511.73 72.10,511.75 71.35,511.76 70.60,511.78 69.85,511.79 69.10,511.80 68.35,511.82 67.60,511.83 66.85,511.85 66.10,511.86 65.35,511.87 64.60,511.89 63.85,511.90 63.10,511.92 62.35,511.93 61.60,511.94 60.85,511.96 60.10,511.97 59.35,511.99 58.60,512.00 57.85,512.01 57.10,512.03 56.35,512.04 55.60,512.06 54.85,512.07 54.10,512.08 53.35,512.10 52.60,512.11 51.85,512.13 51.10,512.14 50.35,512.15" fill="#cdf2cd" stroke="none" stroke-width="1" stroke-linejoin="round" />
<polygon points="48.85,512.02 49.60,511.92 50.35,511.80 51.10,511.64 51.85,511.43 52.60,511.17 53.35,510.84 54.10,510.46 54.85,510.01 55.60,509.51 56.35,508.95 57.10,508.37 57.85,507.78 58.60,507.20 59.35,506.67 60.10,506.21 60.85,505.86 61.60,505.62 62.35,505.53 63.10,505.58 63.85,505.76 64.60,506.08 65.35,506.49 66.10,506.99 66.85,507.53 67.60,508.10 68.35,508.65 69.10,509.19 69.85,509.67 70.60,510.10 71.35,510.46 72.10,510.76 72.85,511.01 73.60,511.19 74.35,511.33 75.10,511.43 75.85,511.50 75.85,511.68 75.10,511.69 74.35,511.70 73.60,511.72 72.85,511.73 72.10,511.75 71.35,511.76 70.60,511.78 69.85,511.79 69.10,511.80 68.35,511.82 67.60,511.83 66.85,511.85 66.10,511.86 65.35,511.87 64.60,511.89 63.85,511.90 63.10,511.92 62.35,511.93 61.60,511.94 60.85,511.96 60.10,511.97 59.35,511.99 58.60,512.00 57.85,512.01 57.10,512.03 56.35,512.04 55.60,512.06 54.85,512.07 54.10,512.08 53.35,512.10 52.60,512.11 51.85,512.13 51.10,512.14 50.35,512.15 49.60,512.17 48.85,512.18" fill="#c9c9c0" stroke="none" stroke-width="1" stroke-linejoin="round" />
<polygon points="138.10,509.95 138.85,509.83 139.60,509.68 140.35,509.47 141.10,509.20 141.85,508.84 142.60,508.38 143.35,507.81 144.10,507.12 144.85,506.32 145.60,505.42 146.35,504.44 147.10,503.42 147.85,502.42 148.60,501.49 149.35,500.69 150.10,500.08 150.85,499.69 151.60,499.56 152.35,499.70 153.10,500.09 153.85,500.69 154.60,501.47 155.35,502.36 156.10,503.30 156.85,504.25 157.60,505.15 158.35,505.96 159.10,506.67 159.85,507.26 160.60,507.74 161.35,508.11 162.10,508.38 162.85,508.57 163.60,508.70 164.35,508.77 165.10,508.82 165.10,508.94 164.35,508.97 163.60,509.00 162.85,509.03 162.10,509.07 161.35,509.10 160.60,509.13 159.85,509.16 159.10,509.19 158.35,509.23 157.60,509.26 156.85,509.29 156.10,509.32 155.35,509.35 154.60,509.38 153.85,509.42 153.10,509.45 152.35,509.48 151.60,509.51 150.85,509.54 150.10,509.58 149.35,509.61 148.60,509.64 147.85,509.67 147.10,509.70 146.35,509.74 145.60,509.77 144.85,509.80 144.10,509.83 143.35,509.86 142.60,509.89 141.85,509.93 141.10,509.96 140.35,509.99 139.60,510.02 138.85,510.05 138.10,510.09" fill="#f9d3a6" stroke="none" stroke-width="1" stroke-linejoin="round" />
<polyline points="35.35,512.25 36.10,512.12 36.85,511.94 37.60,511.69 38.35,511.32 39.10,510.81 39.85,510.11 40.60,509.15 41.35,507.89 42.10,506.23 42.85,504.12 43.60,501.48 44.35,498.25 45.10,494.38 45.85,489.85 46.60,484.69 47.35,478.94 48.10,472.72 48.85,466.16 49.60,459.47 50.35,452.88 51.10,446.66 51.85,441.06 52.60,436.36 53.35,432.79 54.10,430.52 54.85,429.67 55.60,430.30 56.35,432.35 57.10,435.74 57.85,440.27 58.60,445.73 59.35,451.86 60.10,458.38 60.85,465.05 61.60,471.61 62.35,477.86 63.10,483.65 63.85,488.87 64.60,493.45 65.35,497.38 66.10,500.66 66.85,503.35 67.60,505.50 68.35,507.19 69.10,508.47 69.85,509.44 70.60,510.14 71.35,510.65 72.10,511.00 72.85,511.24 73.60,511.40 74.35,511.50 75.10,511.57" fill="none" stroke="#e452b4" stroke-width="0.8" stroke-linejoin="round" />
<polyline points="50.35,512.01 51.10,511.94 51.85,511.85 52.60,511.74 53.35,511.61 54.10,511.44 54.85,511.23 55.60,510.98 56.35,510.68 57.10,510.32 57.85,509.90 58.60,509.41 59.35,508.85 60.10,508.22 60.85,507.52 61.60,506.75 62.35,505.92 63.10,505.04 63.85,504.13 64.60,503.20 65.35,502.28 66.10,501.38 66.85,500.53 67.60,499.75 68.35,499.07 69.10,498.51 69.85,498.07 70.60,497.79 71.35,497.66 72.10,497.70 72.85,497.89 73.60,498.24 74.35,498.72 75.10,499.33 75.85,500.05 76.60,500.84 77.35,501.70 78.10,502.59 78.85,503.49 79.60,504.38 80.35,505.24 81.10,506.06 81.85,506.83 82.60,507.53 83.35,508.16 84.10,508.72 84.85,509.21 85.60,509.63 86.35,509.99 87.10,510.28 87.85,510.53 88.60,510.72 89.35,510.87 90.10,510.99 90.85,511.09 91.60,511.15 92.35,511.20 93.10,511.23" fill="none" stroke="#7fd88f" stroke-width="0.8" stroke-linejoin="round" />
<polyline points="48.85,512.02 49.60,511.92 50.35,511.80 51.10,511.64 51.85,511.43 52.60,511.17 53.35,510.84 54.10,510.46 54.85,510.01 55.60,509.51 56.35,508.95 57.10,508.37 57.85,507.78 58.60,507.20 59.35,506.67 60.10,506.21 60.85,505.86 61.60,505.62 62.35,505.53 63.10,505.58 63.85,505.76 64.60,506.08 65.35,506.49 66.10,506.99 66.85,507.53 67.60,508.10 68.35,508.65 69.10,509.19 69.85,509.67 70.60,510.10 71.35,510.46 72.10,510.76 72.85,511.01 73.60,511.19 74.35,511.33 75.10,511.43 75.85,511.50" fill="none" stroke="#a0a094" stroke-width="0.8" stroke-linejoin="round" />
<polyline points="138.10,509.95 138.85,509.83 139.60,509.68 140.35,509.47 141.10,509.20 141.85,508.84 142.60,508.38 143.35,507.81 144.10,507.12 144.85,506.32 145.60,505.42 146.35,504.44 147.10,503.42 147.85,502.42 148.60,501.49 149.35,500.69 150.10,500.08 150.85,499.69 151.60,499.56 152.35,499.70 153.10,500.09 153.85,500.69 154.60,501.47 155.35,502.36 156.10,503.30 156.85,504.25 157.60,505.15 158.35,505.96 159.10,506.67 159.85,507.26 160.60,507.74 161.35,508.11 162.10,508.38 162.85,508.57 163.60,508.70 164.35,508.77 165.10,508.82" fill="none" stroke="#e0944a" stroke-width="0.8" stroke-linejoin="round" />
<polyline points="27.10,512.59 27.85,512.57 28.60,512.56 29.35,512.55 30.10,512.53 30.85,512.52 31.60,512.50 32.35,512.49 33.10,512.48 33.85,512.46 34.60,512.45 35.35,512.43 36.10,512.42 36.85,512.41 37.60,512.39 38.35,512.38 39.10,512.36 39.85,512.35 40.60,512.34 41.35,512.32 42.10,512.31 42.85,512.29 43.60,512.28 44.35,512.27 45.10,512.25 45.85,512.24 46.60,512.22 47.35,512.21 48.10,512.20 48.85,512.18 49.60,512.17 50.35,512.15 51.10,512.14 51.85,512.13 52.60,512.11 53.35,512.10 54.10,512.08 54.85,512.07 55.60,512.06 56.35,512.04 57.10,512.03 57.85,512.01 58.60,512.00 59.35,511.99 60.10,511.97 60.85,511.96 61.60,511.94 62.35,511.93 63.10,511.92 63.85,511.90 64.60,511.89 65.35,511.87 66.10,511.86 66.85,511.85 67.60,511.83 68.35,511.82 69.10,511.80 69.85,511.79 70.60,511.78 71.35,511.76 72.10,511.75 72.85,511.73 73.60,511.72 74.35,511.70 75.10,511.69 75.85,511.68 76.60,511.66 77.35,511.65 78.10,511.63 78.85,511.62 79.60,511.61 80.35,511.59 81.10,511.58 81.85,511.56 82.60,511.55 83.35,511.54 84.10,511.52 84.85,511.51 85.60,511.49 86.35,511.48 87.10,511.47 87.85,511.45 88.60,511.44 89.35,511.42 90.10,511.41 90.85,511.40 91.60,511.38 92.35,511.37 93.10,511.35 93.85,511.34 94.60,511.33 95.35,511.31 96.10,511.30 96.85,511.28 97.60,511.26 98.35,511.25 99.10,511.23 99.85,511.21 100.60,511.19 101.35,511.18 102.10,511.16 102.85,511.14 103.60,511.12 104.35,511.11 105.10,511.09 105.85,511.07 106.60,511.05 107.35,511.04 108.10,511.02 108.85,511.00 109.60,510.98 110.35,510.97 111.10,510.95 111.85,510.93 112.60,510.91 113.35,510.90 114.10,510.88 114.85,510.86 115.60,510.84 116.35,510.83 117.10,510.81 117.85,510.79 118.60,510.77 119.35,510.76 120.10,510.74 120.85,510.72 121.60,510.70 122.35,510.69 123.10,510.67 123.85,510.65 124.60,510.63 125.35,510.62 126.10,510.60 126.85,510.56 127.60,510.53 128.35,510.50 129.10,510.47 129.85,510.44 130.60,510.40 131.35,510.37 132.10,510.34 132.85,510.31 133.60,510.28 134.35,510.25 135.10,510.21 135.85,510.18 136.60,510.15 137.35,510.12 138.10,510.09 138.85,510.05 139.60,510.02 140.35,509.99 141.10,509.96 141.85,509.93 142.60,509.89 143.35,509.86 144.10,509.83 144.85,509.80 145.60,509.77 146.35,509.74 147.10,509.70 147.85,509.67 148.60,509.64 149.35,509.61 150.10,509.58 150.85,509.54 151.60,509.51 152.35,509.48 153.10,509.45 153.85,509.42 154.60,509.38 155.35,509.35 156.10,509.32 156.85,509.29 157.60,509.26 158.35,509.23 159.10,509.19 159.85,509.16 160.60,509.13 161.35,509.10 162.10,509.07 162.85,509.03 163.60,509.00 164.35,508.97 165.10,508.94 165.85,508.91" fill="none" stroke="#c39ad6" stroke-width="0.9" stroke-linejoin="round" />
<g fill="#8c8fe0"><circle cx="27.1" cy="512.8" r="0.6"/><circle cx="28.6" cy="512.4" r="0.6"/><circle cx="30.1" cy="512.0" r="0.6"/><circle cx="31.6" cy="512.5" r="0.6"/><circle cx="33.1" cy="512.6" r="0.6"/><circle cx="34.6" cy="512.3" r="0.6"/><circle cx="36.1" cy="511.9" r="0.6"/><circle cx="37.6" cy="511.9" r="0.6"/><circle cx="39.1" cy="511.2" r="0.6"/><circle cx="40.6" cy="508.9" r="0.6"/><circle cx="42.1" cy="505.8" r="0.6"/><circle cx="43.6" cy="501.3" r="0.6"/><circle cx="45.1" cy="494.3" r="0.6"/><circle cx="46.6" cy="484.8" r="0.6"/><circle cx="48.1" cy="472.3" r="0.6"/><circle cx="49.6" cy="459.4" r="0.6"/><circle cx="51.1" cy="446.2" r="0.6"/><circle cx="52.6" cy="435.1" r="0.6"/><circle cx="54.1" cy="428.0" r="0.6"/><circle cx="55.6" cy="427.1" r="0.6"/><circle cx="57.1" cy="430.2" r="0.6"/><circle cx="58.6" cy="438.7" r="0.6"/><circle cx="60.1" cy="448.6" r="0.6"/><circle cx="61.6" cy="459.8" r="0.6"/><circle cx="63.1" cy="470.7" r="0.6"/><circle cx="64.6" cy="478.8" r="0.6"/><circle cx="66.1" cy="485.8" r="0.6"/><circle cx="67.6" cy="489.7" r="0.6"/><circle cx="69.1" cy="492.2" r="0.6"/><circle cx="70.6" cy="494.2" r="0.6"/><circle cx="72.1" cy="495.9" r="0.6"/><circle cx="73.6" cy="497.6" r="0.6"/><circle cx="75.1" cy="499.4" r="0.6"/><circle cx="76.6" cy="500.3" r="0.6"/><circle cx="78.1" cy="502.4" r="0.6"/><circle cx="79.6" cy="504.1" r="0.6"/><circle cx="81.1" cy="506.5" r="0.6"/><circle cx="82.6" cy="507.2" r="0.6"/><circle cx="84.1" cy="508.3" r="0.6"/><circle cx="85.6" cy="509.2" r="0.6"/><circle cx="87.1" cy="510.2" r="0.6"/><circle cx="88.6" cy="511.1" r="0.6"/><circle cx="90.1" cy="511.4" r="0.6"/><circle cx="91.6" cy="511.4" r="0.6"/><circle cx="93.1" cy="511.7" r="0.6"/><circle cx="94.6" cy="511.7" r="0.6"/><circle cx="96.1" cy="511.1" r="0.6"/><circle cx="97.6" cy="510.9" r="0.6"/><circle cx="99.1" cy="511.7" r="0.6"/><circle cx="100.6" cy="511.4" r="0.6"/><circle cx="102.1" cy="510.7" r="0.6"/><circle cx="103.6" cy="511.3" r="0.6"/><circle cx="105.1" cy="511.0" r="0.6"/><circle cx="106.6" cy="510.9" r="0.6"/><circle cx="108.1" cy="510.8" r="0.6"/><circle cx="109.6" cy="510.7" r="0.6"/><circle cx="111.1" cy="510.5" r="0.6"/><circle cx="112.6" cy="510.7" r="0.6"/><circle cx="114.1" cy="510.7" r="0.6"/><circle cx="115.6" cy="511.3" r="0.6"/><circle cx="117.1" cy="510.4" r="0.6"/><circle cx="118.6" cy="511.2" r="0.6"/><circle cx="120.1" cy="510.4" r="0.6"/><circle cx="121.6" cy="510.6" r="0.6"/><circle cx="123.1" cy="511.0" r="0.6"/><circle cx="124.6" cy="511.0" r="0.6"/><circle cx="126.1" cy="510.5" r="0.6"/><circle cx="127.6" cy="510.1" r="0.6"/><circle cx="129.1" cy="510.4" r="0.6"/><circle cx="130.6" cy="510.3" r="0.6"/><circle cx="132.1" cy="510.8" r="0.6"/><circle cx="133.6" cy="510.0" r="0.6"/><circle cx="135.1" cy="510.1" r="0.6"/><circle cx="136.6" cy="510.5" r="0.6"/><circle cx="138.1" cy="509.5" r="0.6"/><circle cx="139.6" cy="509.6" r="0.6"/><circle cx="141.1" cy="509.5" r="0.6"/><circle cx="142.6" cy="508.6" r="0.6"/><circle cx="144.1" cy="506.7" r="0.6"/><circle cx="145.6" cy="505.0" r="0.6"/><circle cx="147.1" cy="503.0" r="0.6"/><circle cx="148.6" cy="501.9" r="0.6"/><circle cx="150.1" cy="499.8" r="0.6"/><circle cx="151.6" cy="499.8" r="0.6"/><circle cx="153.1" cy="500.5" r="0.6"/><circle cx="154.6" cy="501.3" r="0.6"/><circle cx="156.1" cy="503.1" r="0.6"/><circle cx="157.6" cy="505.6" r="0.6"/><circle cx="159.1" cy="506.8" r="0.6"/><circle cx="160.6" cy="507.5" r="0.6"/><circle cx="162.1" cy="508.6" r="0.6"/><circle cx="163.6" cy="508.5" r="0.6"/><circle cx="165.1" cy="508.6" r="0.6"/></g>
<polyline points="27.10,512.59 27.85,512.57 28.60,512.56 29.35,512.54 30.10,512.53 30.85,512.51 31.60,512.49 32.35,512.47 33.10,512.43 33.85,512.39 34.60,512.33 35.35,512.25 36.10,512.12 36.85,511.94 37.60,511.69 38.35,511.32 39.10,510.81 39.85,510.11 40.60,509.15 41.35,507.88 42.10,506.23 42.85,504.11 43.60,501.47 44.35,498.23 45.10,494.35 45.85,489.81 46.60,484.62 47.35,478.84 48.10,472.55 48.85,465.92 49.60,459.12 50.35,452.38 51.10,445.95 51.85,440.09 52.60,435.05 53.35,431.04 54.10,428.25 54.85,426.78 55.60,426.67 56.35,427.90 57.10,430.37 57.85,433.92 58.60,438.34 59.35,443.40 60.10,448.87 60.85,454.50 61.60,460.09 62.35,465.45 63.10,470.44 63.85,474.96 64.60,478.96 65.35,482.40 66.10,485.31 66.85,487.72 67.60,489.69 68.35,491.28 69.10,492.56 69.85,493.60 70.60,494.48 71.35,495.25 72.10,495.97 72.85,496.68 73.60,497.40 74.35,498.15 75.10,498.95 75.85,499.80 76.60,500.68 77.35,501.60 78.10,502.52 78.85,503.45 79.60,504.36 80.35,505.23 81.10,506.06 81.85,506.82 82.60,507.53 83.35,508.16 84.10,508.72 84.85,509.21 85.60,509.63 86.35,509.99 87.10,510.28 87.85,510.53 88.60,510.72 89.35,510.87 90.10,510.99 90.85,511.09 91.60,511.15 92.35,511.20 93.10,511.23 93.85,511.25 94.60,511.26 95.35,511.27 96.10,511.27 96.85,511.26 97.60,511.25 98.35,511.24 99.10,511.22 99.85,511.21 100.60,511.19 101.35,511.17 102.10,511.16 102.85,511.14 103.60,511.12 104.35,511.10 105.10,511.09 105.85,511.07 106.60,511.05 107.35,511.04 108.10,511.02 108.85,511.00 109.60,510.98 110.35,510.97 111.10,510.95 111.85,510.93 112.60,510.91 113.35,510.90 114.10,510.88 114.85,510.86 115.60,510.84 116.35,510.83 117.10,510.81 117.85,510.79 118.60,510.77 119.35,510.76 120.10,510.74 120.85,510.72 121.60,510.70 122.35,510.69 123.10,510.67 123.85,510.65 124.60,510.63 125.35,510.62 126.10,510.60 126.85,510.56 127.60,510.53 128.35,510.50 129.10,510.47 129.85,510.44 130.60,510.40 131.35,510.37 132.10,510.34 132.85,510.31 133.60,510.27 134.35,510.24 135.10,510.20 135.85,510.15 136.60,510.10 137.35,510.03 138.10,509.95 138.85,509.83 139.60,509.68 140.35,509.47 141.10,509.20 141.85,508.84 142.60,508.38 143.35,507.81 144.10,507.12 144.85,506.32 145.60,505.42 146.35,504.44 147.10,503.42 147.85,502.42 148.60,501.49 149.35,500.69 150.10,500.08 150.85,499.69 151.60,499.56 152.35,499.70 153.10,500.09 153.85,500.69 154.60,501.47 155.35,502.36 156.10,503.30 156.85,504.25 157.60,505.15 158.35,505.96 159.10,506.67 159.85,507.26 160.60,507.74 161.35,508.11 162.10,508.38 162.85,508.57 163.60,508.70 164.35,508.77 165.10,508.82 165.85,508.83" fill="none" stroke="#45b3ee" stroke-width="1.0" stroke-linejoin="round" />
<rect x="26.5" y="408.6" width="140.0" height="112.0" fill="none" stroke="#262626" stroke-width="1.1"/>
<text x="131.0" y="419.5" font-size="7.4" text-anchor="start" fill="#000" font-weight="bold" >NiFe-PBA</text>
<text x="131.0" y="431.5" font-size="7.4" text-anchor="start" fill="#000" font-weight="bold" >C 1s</text>
<text x="71.6" y="446.6" font-size="7.5" text-anchor="middle" fill="#000" font-weight="bold" >C=C</text>
<text x="91.0" y="489.8" font-size="7.5" text-anchor="middle" fill="#000" font-weight="bold" >C-N</text>
<text x="136.0" y="493.0" font-size="7.5" text-anchor="middle" fill="#000" font-weight="bold" >C=O</text>
<line x1="62.70" y1="460.00" x2="68.11" y2="451.32" stroke="#e452b4" stroke-width="0.8" />
<polygon points="69.80,448.60 69.47,452.16 66.75,450.47" fill="#e452b4" stroke="none" stroke-width="1" stroke-linejoin="round" />
<line x1="84.50" y1="504.00" x2="87.52" y2="494.55" stroke="#7fd88f" stroke-width="0.8" />
<polygon points="88.50,491.50 89.05,495.04 86.00,494.06" fill="#7fd88f" stroke="none" stroke-width="1" stroke-linejoin="round" />
<line x1="143.70" y1="507.70" x2="138.41" y2="498.57" stroke="#e0944a" stroke-width="0.8" />
<polygon points="136.80,495.80 139.79,497.77 137.02,499.37" fill="#e0944a" stroke="none" stroke-width="1" stroke-linejoin="round" />
<line x1="26.40" y1="520.60" x2="26.40" y2="522.30" stroke="#262626" stroke-width="0.8" />
<line x1="47.16" y1="520.60" x2="47.16" y2="522.30" stroke="#262626" stroke-width="0.8" />
<line x1="67.92" y1="520.60" x2="67.92" y2="522.30" stroke="#262626" stroke-width="0.8" />
<line x1="88.68" y1="520.60" x2="88.68" y2="522.30" stroke="#262626" stroke-width="0.8" />
<line x1="109.44" y1="520.60" x2="109.44" y2="522.30" stroke="#262626" stroke-width="0.8" />
<line x1="130.20" y1="520.60" x2="130.20" y2="522.30" stroke="#262626" stroke-width="0.8" />
<line x1="150.96" y1="520.60" x2="150.96" y2="522.30" stroke="#262626" stroke-width="0.8" />
<line x1="36.78" y1="520.60" x2="36.78" y2="521.70" stroke="#262626" stroke-width="0.7" />
<line x1="57.54" y1="520.60" x2="57.54" y2="521.70" stroke="#262626" stroke-width="0.7" />
<line x1="78.30" y1="520.60" x2="78.30" y2="521.70" stroke="#262626" stroke-width="0.7" />
<line x1="99.06" y1="520.60" x2="99.06" y2="521.70" stroke="#262626" stroke-width="0.7" />
<line x1="119.82" y1="520.60" x2="119.82" y2="521.70" stroke="#262626" stroke-width="0.7" />
<line x1="140.58" y1="520.60" x2="140.58" y2="521.70" stroke="#262626" stroke-width="0.7" />
<line x1="161.34" y1="520.60" x2="161.34" y2="521.70" stroke="#262626" stroke-width="0.7" />
<text x="26.7" y="529.9" font-size="7.3" text-anchor="middle" fill="#000" font-weight="bold" >282</text>
<text x="47.5" y="529.9" font-size="7.3" text-anchor="middle" fill="#000" font-weight="bold" >284</text>
<text x="68.2" y="529.9" font-size="7.3" text-anchor="middle" fill="#000" font-weight="bold" >286</text>
<text x="89.0" y="529.9" font-size="7.3" text-anchor="middle" fill="#000" font-weight="bold" >288</text>
<text x="109.7" y="529.9" font-size="7.3" text-anchor="middle" fill="#000" font-weight="bold" >290</text>
<text x="130.5" y="529.9" font-size="7.3" text-anchor="middle" fill="#000" font-weight="bold" >292</text>
<text x="151.3" y="529.9" font-size="7.3" text-anchor="middle" fill="#000" font-weight="bold" >294</text>
<text x="99.4" y="541.9" font-size="8.9" text-anchor="middle" fill="#000" font-weight="bold" >Binding Energy/eV</text>
<text x="18.3" y="464.4" font-size="8.0" text-anchor="middle" fill="#000" font-weight="bold" textLength="50.3" lengthAdjust="spacingAndGlyphs" transform="rotate(-90 18.3 464.4)">Intensity/a.u.</text>
<text x="180.0" y="410.6" font-size="19" text-anchor="start" fill="#000" font-weight="bold" >H</text>
<polygon points="200.10,510.18 200.85,510.15 201.60,510.11 202.35,510.07 203.10,510.03 203.85,509.99 204.60,509.95 205.35,509.91 206.10,509.86 206.85,509.82 207.60,509.77 208.35,509.72 209.10,509.67 209.85,509.62 210.60,509.56 211.35,509.50 212.10,509.44 212.85,509.38 213.60,509.31 214.35,509.24 215.10,509.17 215.85,509.09 216.60,509.01 217.35,508.93 218.10,508.84 218.85,508.75 219.60,508.65 220.35,508.54 221.10,508.43 221.85,508.31 222.60,508.18 223.35,508.04 224.10,507.90 224.85,507.74 225.60,507.57 226.35,507.39 227.10,507.19 227.85,506.98 228.60,506.75 229.35,506.51 230.10,506.24 230.85,505.96 231.60,505.65 232.35,505.31 233.10,504.95 233.85,504.56 234.60,504.14 235.35,503.69 236.10,503.20 236.85,502.67 237.60,502.11 238.35,501.50 239.10,500.85 239.85,500.16 240.60,499.41 241.35,498.62 242.10,497.78 242.85,496.88 243.60,495.93 244.35,494.92 245.10,493.86 245.85,492.74 246.60,491.56 247.35,490.33 248.10,489.04 248.85,487.69 249.60,486.29 250.35,484.83 251.10,483.33 251.85,481.77 252.60,480.17 253.35,478.54 254.10,476.86 254.85,475.16 255.60,473.44 256.35,471.69 257.10,469.95 257.85,468.20 258.60,466.46 259.35,464.75 260.10,463.07 260.85,461.44 261.60,459.88 262.35,458.38 263.10,456.98 263.85,455.69 264.60,454.52 265.35,453.49 266.10,452.61 266.85,451.89 267.60,451.35 268.35,450.99 269.10,450.82 269.85,450.83 270.60,451.04 271.35,451.44 272.10,452.02 272.85,452.77 273.60,453.68 274.35,454.75 275.10,455.94 275.85,457.26 276.60,458.68 277.35,460.18 278.10,461.76 278.85,463.40 279.60,465.09 280.35,466.81 281.10,468.55 281.85,470.30 282.60,472.04 283.35,473.78 284.10,475.50 284.85,477.20 285.60,478.87 286.35,480.50 287.10,482.09 287.85,483.63 288.60,485.13 289.35,486.57 290.10,487.96 290.85,489.30 291.60,490.58 292.35,491.80 293.10,492.97 293.85,494.08 294.60,495.13 295.35,496.12 296.10,497.06 296.85,497.95 297.60,498.78 298.35,499.57 299.10,500.30 299.85,500.99 300.60,501.63 301.35,502.23 302.10,502.78 302.85,503.30 303.60,503.78 304.35,504.23 305.10,504.64 305.85,505.03 306.60,505.38 307.35,505.71 308.10,506.01 308.85,506.30 309.60,506.56 310.35,506.80 311.10,507.02 311.85,507.23 312.60,507.42 313.35,507.60 314.10,507.77 314.85,507.93 315.60,508.07 316.35,508.21 317.10,508.33 317.85,508.45 318.60,508.56 319.35,508.67 320.10,508.77 320.85,508.86 321.60,508.95 322.35,509.03 323.10,509.11 323.85,509.18 324.60,509.26 325.35,509.32 326.10,509.39 326.85,509.45 327.60,509.51 328.35,509.57 329.10,509.63 329.85,509.68 330.60,509.73 331.35,509.78 332.10,509.83 332.85,509.87 333.60,509.92 334.35,509.96 335.10,510.00 335.85,510.04 336.60,510.08 337.35,510.12 338.10,510.16 338.85,510.19 338.85,511.90 338.10,511.90 337.35,511.90 336.60,511.90 335.85,511.90 335.10,511.90 334.35,511.90 333.60,511.90 332.85,511.90 332.10,511.90 331.35,511.90 330.60,511.90 329.85,511.90 329.10,511.90 328.35,511.90 327.60,511.90 326.85,511.90 326.10,511.90 325.35,511.90 324.60,511.90 323.85,511.90 323.10,511.90 322.35,511.90 321.60,511.90 320.85,511.90 320.10,511.90 319.35,511.90 318.60,511.90 317.85,511.90 317.10,511.90 316.35,511.90 315.60,511.90 314.85,511.90 314.10,511.90 313.35,511.90 312.60,511.90 311.85,511.90 311.10,511.90 310.35,511.90 309.60,511.90 308.85,511.90 308.10,511.90 307.35,511.90 306.60,511.90 305.85,511.90 305.10,511.90 304.35,511.90 303.60,511.90 302.85,511.90 302.10,511.90 301.35,511.90 300.60,511.90 299.85,511.90 299.10,511.90 298.35,511.90 297.60,511.90 296.85,511.90 296.10,511.90 295.35,511.90 294.60,511.90 293.85,511.90 293.10,511.90 292.35,511.90 291.60,511.90 290.85,511.90 290.10,511.90 289.35,511.90 288.60,511.90 287.85,511.90 287.10,511.90 286.35,511.90 285.60,511.90 284.85,511.90 284.10,511.90 283.35,511.90 282.60,511.90 281.85,511.90 281.10,511.90 280.35,511.90 279.60,511.90 278.85,511.90 278.10,511.90 277.35,511.90 276.60,511.90 275.85,511.90 275.10,511.90 274.35,511.90 273.60,511.90 272.85,511.90 272.10,511.90 271.35,511.90 270.60,511.90 269.85,511.90 269.10,511.90 268.35,511.90 267.60,511.90 266.85,511.90 266.10,511.90 265.35,511.90 264.60,511.90 263.85,511.90 263.10,511.90 262.35,511.90 261.60,511.90 260.85,511.90 260.10,511.90 259.35,511.90 258.60,511.90 257.85,511.90 257.10,511.90 256.35,511.90 255.60,511.90 254.85,511.90 254.10,511.90 253.35,511.90 252.60,511.90 251.85,511.90 251.10,511.90 250.35,511.90 249.60,511.90 248.85,511.90 248.10,511.90 247.35,511.90 246.60,511.90 245.85,511.90 245.10,511.90 244.35,511.90 243.60,511.90 242.85,511.90 242.10,511.90 241.35,511.90 240.60,511.90 239.85,511.90 239.10,511.90 238.35,511.90 237.60,511.90 236.85,511.90 236.10,511.90 235.35,511.90 234.60,511.90 233.85,511.90 233.10,511.90 232.35,511.90 231.60,511.90 230.85,511.90 230.10,511.90 229.35,511.90 228.60,511.90 227.85,511.90 227.10,511.90 226.35,511.90 225.60,511.90 224.85,511.90 224.10,511.90 223.35,511.90 222.60,511.90 221.85,511.90 221.10,511.90 220.35,511.90 219.60,511.90 218.85,511.90 218.10,511.90 217.35,511.90 216.60,511.90 215.85,511.90 215.10,511.90 214.35,511.90 213.60,511.90 212.85,511.90 212.10,511.90 211.35,511.90 210.60,511.90 209.85,511.90 209.10,511.90 208.35,511.90 207.60,511.90 206.85,511.90 206.10,511.90 205.35,511.90 204.60,511.90 203.85,511.90 203.10,511.90 202.35,511.90 201.60,511.90 200.85,511.90 200.10,511.90" fill="#f9c3e3" stroke="none" stroke-width="1" stroke-linejoin="round" />
<polyline points="200.10,510.18 200.85,510.15 201.60,510.11 202.35,510.07 203.10,510.03 203.85,509.99 204.60,509.95 205.35,509.91 206.10,509.86 206.85,509.82 207.60,509.77 208.35,509.72 209.10,509.67 209.85,509.62 210.60,509.56 211.35,509.50 212.10,509.44 212.85,509.38 213.60,509.31 214.35,509.24 215.10,509.17 215.85,509.09 216.60,509.01 217.35,508.93 218.10,508.84 218.85,508.75 219.60,508.65 220.35,508.54 221.10,508.43 221.85,508.31 222.60,508.18 223.35,508.04 224.10,507.90 224.85,507.74 225.60,507.57 226.35,507.39 227.10,507.19 227.85,506.98 228.60,506.75 229.35,506.51 230.10,506.24 230.85,505.96 231.60,505.65 232.35,505.31 233.10,504.95 233.85,504.56 234.60,504.14 235.35,503.69 236.10,503.20 236.85,502.67 237.60,502.11 238.35,501.50 239.10,500.85 239.85,500.16 240.60,499.41 241.35,498.62 242.10,497.78 242.85,496.88 243.60,495.93 244.35,494.92 245.10,493.86 245.85,492.74 246.60,491.56 247.35,490.33 248.10,489.04 248.85,487.69 249.60,486.29 250.35,484.83 251.10,483.33 251.85,481.77 252.60,480.17 253.35,478.54 254.10,476.86 254.85,475.16 255.60,473.44 256.35,471.69 257.10,469.95 257.85,468.20 258.60,466.46 259.35,464.75 260.10,463.07 260.85,461.44 261.60,459.88 262.35,458.38 263.10,456.98 263.85,455.69 264.60,454.52 265.35,453.49 266.10,452.61 266.85,451.89 267.60,451.35 268.35,450.99 269.10,450.82 269.85,450.83 270.60,451.04 271.35,451.44 272.10,452.02 272.85,452.77 273.60,453.68 274.35,454.75 275.10,455.94 275.85,457.26 276.60,458.68 277.35,460.18 278.10,461.76 278.85,463.40 279.60,465.09 280.35,466.81 281.10,468.55 281.85,470.30 282.60,472.04 283.35,473.78 284.10,475.50 284.85,477.20 285.60,478.87 286.35,480.50 287.10,482.09 287.85,483.63 288.60,485.13 289.35,486.57 290.10,487.96 290.85,489.30 291.60,490.58 292.35,491.80 293.10,492.97 293.85,494.08 294.60,495.13 295.35,496.12 296.10,497.06 296.85,497.95 297.60,498.78 298.35,499.57 299.10,500.30 299.85,500.99 300.60,501.63 301.35,502.23 302.10,502.78 302.85,503.30 303.60,503.78 304.35,504.23 305.10,504.64 305.85,505.03 306.60,505.38 307.35,505.71 308.10,506.01 308.85,506.30 309.60,506.56 310.35,506.80 311.10,507.02 311.85,507.23 312.60,507.42 313.35,507.60 314.10,507.77 314.85,507.93 315.60,508.07 316.35,508.21 317.10,508.33 317.85,508.45 318.60,508.56 319.35,508.67 320.10,508.77 320.85,508.86 321.60,508.95 322.35,509.03 323.10,509.11 323.85,509.18 324.60,509.26 325.35,509.32 326.10,509.39 326.85,509.45 327.60,509.51 328.35,509.57 329.10,509.63 329.85,509.68 330.60,509.73 331.35,509.78 332.10,509.83 332.85,509.87 333.60,509.92 334.35,509.96 335.10,510.00 335.85,510.04 336.60,510.08 337.35,510.12 338.10,510.16 338.85,510.19" fill="none" stroke="#ec3d9a" stroke-width="1.1" stroke-linejoin="round" />
<polyline points="200.10,511.90 200.85,511.90 201.60,511.90 202.35,511.90 203.10,511.90 203.85,511.90 204.60,511.90 205.35,511.90 206.10,511.90 206.85,511.90 207.60,511.90 208.35,511.90 209.10,511.90 209.85,511.90 210.60,511.90 211.35,511.90 212.10,511.90 212.85,511.90 213.60,511.90 214.35,511.90 215.10,511.90 215.85,511.90 216.60,511.90 217.35,511.90 218.10,511.90 218.85,511.90 219.60,511.90 220.35,511.90 221.10,511.90 221.85,511.90 222.60,511.90 223.35,511.90 224.10,511.90 224.85,511.90 225.60,511.90 226.35,511.90 227.10,511.90 227.85,511.90 228.60,511.90 229.35,511.90 230.10,511.90 230.85,511.90 231.60,511.90 232.35,511.90 233.10,511.90 233.85,511.90 234.60,511.90 235.35,511.90 236.10,511.90 236.85,511.90 237.60,511.90 238.35,511.90 239.10,511.90 239.85,511.90 240.60,511.90 241.35,511.90 242.10,511.90 242.85,511.90 243.60,511.90 244.35,511.90 245.10,511.90 245.85,511.90 246.60,511.90 247.35,511.90 248.10,511.90 248.85,511.90 249.60,511.90 250.35,511.90 251.10,511.90 251.85,511.90 252.60,511.90 253.35,511.90 254.10,511.90 254.85,511.90 255.60,511.90 256.35,511.90 257.10,511.90 257.85,511.90 258.60,511.90 259.35,511.90 260.10,511.90 260.85,511.90 261.60,511.90 262.35,511.90 263.10,511.90 263.85,511.90 264.60,511.90 265.35,511.90 266.10,511.90 266.85,511.90 267.60,511.90 268.35,511.90 269.10,511.90 269.85,511.90 270.60,511.90 271.35,511.90 272.10,511.90 272.85,511.90 273.60,511.90 274.35,511.90 275.10,511.90 275.85,511.90 276.60,511.90 277.35,511.90 278.10,511.90 278.85,511.90 279.60,511.90 280.35,511.90 281.10,511.90 281.85,511.90 282.60,511.90 283.35,511.90 284.10,511.90 284.85,511.90 285.60,511.90 286.35,511.90 287.10,511.90 287.85,511.90 288.60,511.90 289.35,511.90 290.10,511.90 290.85,511.90 291.60,511.90 292.35,511.90 293.10,511.90 293.85,511.90 294.60,511.90 295.35,511.90 296.10,511.90 296.85,511.90 297.60,511.90 298.35,511.90 299.10,511.90 299.85,511.90 300.60,511.90 301.35,511.90 302.10,511.90 302.85,511.90 303.60,511.90 304.35,511.90 305.10,511.90 305.85,511.90 306.60,511.90 307.35,511.90 308.10,511.90 308.85,511.90 309.60,511.90 310.35,511.90 311.10,511.90 311.85,511.90 312.60,511.90 313.35,511.90 314.10,511.90 314.85,511.90 315.60,511.90 316.35,511.90 317.10,511.90 317.85,511.90 318.60,511.90 319.35,511.90 320.10,511.90 320.85,511.90 321.60,511.90 322.35,511.90 323.10,511.90 323.85,511.90 324.60,511.90 325.35,511.90 326.10,511.90 326.85,511.90 327.60,511.90 328.35,511.90 329.10,511.90 329.85,511.90 330.60,511.90 331.35,511.90 332.10,511.90 332.85,511.90 333.60,511.90 334.35,511.90 335.10,511.90 335.85,511.90 336.60,511.90 337.35,511.90 338.10,511.90 338.85,511.90" fill="none" stroke="#5fd45f" stroke-width="1.0" stroke-linejoin="round" />
<g fill="#8792e8"><circle cx="200.1" cy="509.5" r="1.0"/><circle cx="201.6" cy="510.4" r="1.0"/><circle cx="203.1" cy="510.4" r="1.0"/><circle cx="204.6" cy="509.8" r="1.0"/><circle cx="206.1" cy="510.1" r="1.0"/><circle cx="207.6" cy="508.6" r="1.0"/><circle cx="209.1" cy="508.7" r="1.0"/><circle cx="210.6" cy="508.8" r="1.0"/><circle cx="212.1" cy="509.3" r="1.0"/><circle cx="213.6" cy="509.0" r="1.0"/><circle cx="215.1" cy="508.0" r="1.0"/><circle cx="216.6" cy="507.5" r="1.0"/><circle cx="218.1" cy="507.4" r="1.0"/><circle cx="219.6" cy="507.2" r="1.0"/><circle cx="221.1" cy="507.4" r="1.0"/><circle cx="222.6" cy="506.0" r="1.0"/><circle cx="224.1" cy="506.4" r="1.0"/><circle cx="225.6" cy="505.8" r="1.0"/><circle cx="227.1" cy="505.4" r="1.0"/><circle cx="228.6" cy="504.8" r="1.0"/><circle cx="230.1" cy="503.9" r="1.0"/><circle cx="231.6" cy="502.9" r="1.0"/><circle cx="233.1" cy="502.1" r="1.0"/><circle cx="234.6" cy="501.3" r="1.0"/><circle cx="236.1" cy="500.9" r="1.0"/><circle cx="237.6" cy="498.8" r="1.0"/><circle cx="239.1" cy="497.6" r="1.0"/><circle cx="240.6" cy="496.9" r="1.0"/><circle cx="242.1" cy="494.5" r="1.0"/><circle cx="243.6" cy="492.4" r="1.0"/><circle cx="245.1" cy="490.2" r="1.0"/><circle cx="246.6" cy="489.0" r="1.0"/><circle cx="248.1" cy="486.4" r="1.0"/><circle cx="249.6" cy="484.9" r="1.0"/><circle cx="251.1" cy="482.4" r="1.0"/><circle cx="252.6" cy="480.2" r="1.0"/><circle cx="254.1" cy="476.6" r="1.0"/><circle cx="255.6" cy="473.5" r="1.0"/><circle cx="257.1" cy="470.5" r="1.0"/><circle cx="258.6" cy="467.9" r="1.0"/><circle cx="260.1" cy="464.6" r="1.0"/><circle cx="261.6" cy="460.9" r="1.0"/><circle cx="263.1" cy="457.1" r="1.0"/><circle cx="264.6" cy="454.1" r="1.0"/><circle cx="266.1" cy="451.8" r="1.0"/><circle cx="267.6" cy="450.2" r="1.0"/><circle cx="269.1" cy="449.4" r="1.0"/><circle cx="270.6" cy="449.5" r="1.0"/><circle cx="272.1" cy="450.2" r="1.0"/><circle cx="273.6" cy="451.0" r="1.0"/><circle cx="275.1" cy="454.2" r="1.0"/><circle cx="276.6" cy="456.2" r="1.0"/><circle cx="278.1" cy="459.7" r="1.0"/><circle cx="279.6" cy="462.7" r="1.0"/><circle cx="281.1" cy="466.7" r="1.0"/><circle cx="282.6" cy="469.5" r="1.0"/><circle cx="284.1" cy="473.1" r="1.0"/><circle cx="285.6" cy="476.6" r="1.0"/><circle cx="287.1" cy="479.8" r="1.0"/><circle cx="288.6" cy="484.0" r="1.0"/><circle cx="290.1" cy="486.6" r="1.0"/><circle cx="291.6" cy="489.2" r="1.0"/><circle cx="293.1" cy="491.9" r="1.0"/><circle cx="294.6" cy="495.2" r="1.0"/><circle cx="296.1" cy="496.8" r="1.0"/><circle cx="297.6" cy="498.4" r="1.0"/><circle cx="299.1" cy="501.1" r="1.0"/><circle cx="300.6" cy="502.3" r="1.0"/><circle cx="302.1" cy="503.9" r="1.0"/><circle cx="303.6" cy="503.5" r="1.0"/><circle cx="305.1" cy="504.9" r="1.0"/><circle cx="306.6" cy="506.0" r="1.0"/><circle cx="308.1" cy="506.6" r="1.0"/><circle cx="309.6" cy="507.2" r="1.0"/><circle cx="311.1" cy="506.4" r="1.0"/><circle cx="312.6" cy="507.1" r="1.0"/><circle cx="314.1" cy="507.2" r="1.0"/><circle cx="315.6" cy="507.6" r="1.0"/><circle cx="317.1" cy="509.0" r="1.0"/><circle cx="318.6" cy="508.7" r="1.0"/><circle cx="320.1" cy="509.4" r="1.0"/><circle cx="321.6" cy="508.8" r="1.0"/><circle cx="323.1" cy="509.6" r="1.0"/><circle cx="324.6" cy="509.2" r="1.0"/><circle cx="326.1" cy="509.1" r="1.0"/><circle cx="327.6" cy="509.9" r="1.0"/><circle cx="329.1" cy="510.3" r="1.0"/><circle cx="330.6" cy="509.2" r="1.0"/><circle cx="332.1" cy="510.0" r="1.0"/><circle cx="333.6" cy="510.1" r="1.0"/><circle cx="335.1" cy="509.6" r="1.0"/><circle cx="336.6" cy="509.9" r="1.0"/><circle cx="338.1" cy="509.7" r="1.0"/></g>
<rect x="199.5" y="408.5" width="140.0" height="112.10000000000002" fill="none" stroke="#262626" stroke-width="1.1"/>
<text x="303.7" y="419.9" font-size="7.4" text-anchor="start" fill="#000" font-weight="bold" >NiFe-PBA</text>
<text x="303.7" y="431.9" font-size="7.4" text-anchor="start" fill="#000" font-weight="bold" >N 1s</text>
<line x1="198.00" y1="520.60" x2="198.00" y2="522.30" stroke="#262626" stroke-width="0.8" />
<line x1="233.60" y1="520.60" x2="233.60" y2="522.30" stroke="#262626" stroke-width="0.8" />
<line x1="269.20" y1="520.60" x2="269.20" y2="522.30" stroke="#262626" stroke-width="0.8" />
<line x1="304.80" y1="520.60" x2="304.80" y2="522.30" stroke="#262626" stroke-width="0.8" />
<line x1="340.40" y1="520.60" x2="340.40" y2="522.30" stroke="#262626" stroke-width="0.8" />
<line x1="215.80" y1="520.60" x2="215.80" y2="521.70" stroke="#262626" stroke-width="0.7" />
<line x1="251.40" y1="520.60" x2="251.40" y2="521.70" stroke="#262626" stroke-width="0.7" />
<line x1="287.00" y1="520.60" x2="287.00" y2="521.70" stroke="#262626" stroke-width="0.7" />
<line x1="322.60" y1="520.60" x2="322.60" y2="521.70" stroke="#262626" stroke-width="0.7" />
<text x="198.3" y="529.9" font-size="7.3" text-anchor="middle" fill="#000" font-weight="bold" >394</text>
<text x="233.9" y="529.9" font-size="7.3" text-anchor="middle" fill="#000" font-weight="bold" >396</text>
<text x="269.5" y="529.9" font-size="7.3" text-anchor="middle" fill="#000" font-weight="bold" >398</text>
<text x="305.1" y="529.9" font-size="7.3" text-anchor="middle" fill="#000" font-weight="bold" >400</text>
<text x="340.7" y="529.9" font-size="7.3" text-anchor="middle" fill="#000" font-weight="bold" >402</text>
<text x="270.7" y="541.9" font-size="8.9" text-anchor="middle" fill="#000" font-weight="bold" >Binding Energy/eV</text>
<text x="192.6" y="464.4" font-size="8.0" text-anchor="middle" fill="#000" font-weight="bold" textLength="50.3" lengthAdjust="spacingAndGlyphs" transform="rotate(-90 192.6 464.4)">Intensity/a.u.</text>
</g></svg></body></html>
